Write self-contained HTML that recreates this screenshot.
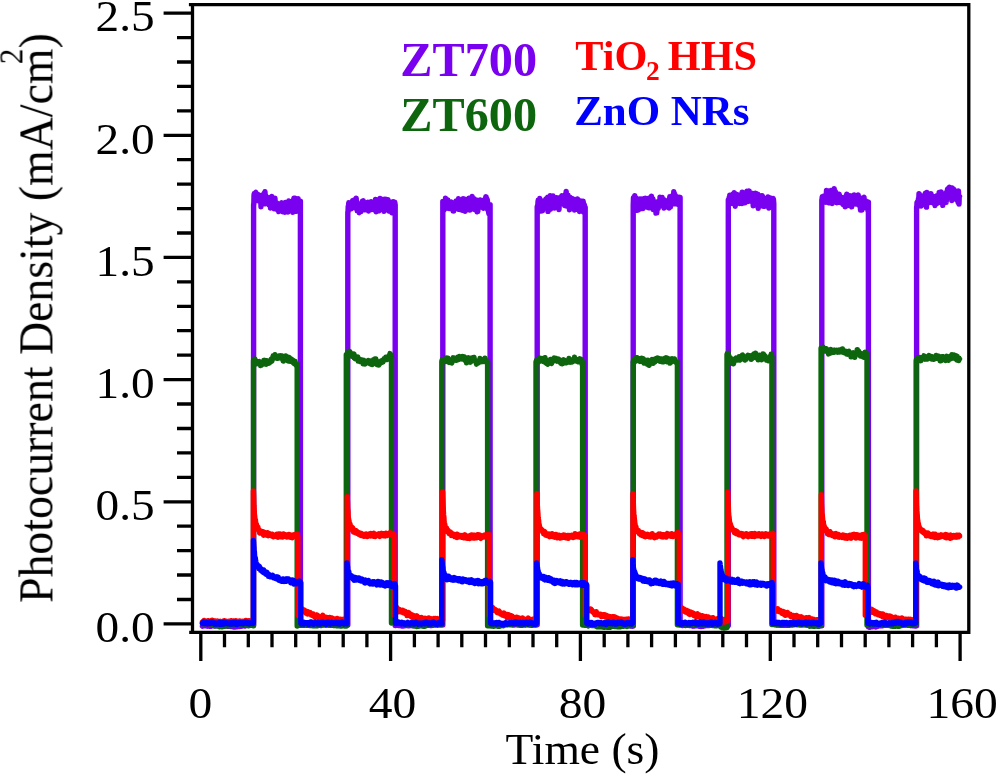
<!DOCTYPE html>
<html><head><meta charset="utf-8"><title>Photocurrent Density</title>
<style>
html,body{margin:0;padding:0;background:#fff;}
svg{display:block;}
text{font-family:"Liberation Serif","Times New Roman",serif;}
</style></head><body>
<svg width="998" height="775" viewBox="0 0 998 775">
<defs><filter id="soft" x="0" y="0" width="998" height="775" filterUnits="userSpaceOnUse"><feGaussianBlur stdDeviation="0.6"/></filter></defs>
<rect width="998" height="775" fill="#fff"/>
<g filter="url(#soft)">
<g fill="none" stroke-linejoin="round" stroke-linecap="round" stroke-width="5.4">
<path stroke="#7a00f0" d="M202.5 626.2L203.0 625.7L203.5 625.8L204.0 625.8L204.5 625.9L205.0 625.8L205.5 625.8L206.0 625.9L206.5 625.9L207.0 626.1L207.5 626.2L208.0 626.1L208.5 626.1L209.0 626.2L209.5 626.1L210.0 626.1L210.5 626.4L211.0 626.2L211.5 625.9L212.0 625.9L212.5 625.8L213.0 625.6L213.5 625.6L214.0 625.8L214.5 625.9L215.0 625.8L215.5 625.8L216.0 625.8L216.5 625.7L217.0 625.5L217.5 625.4L218.0 625.8L218.5 625.8L219.0 625.5L219.5 625.5L220.0 625.8L220.5 626.0L221.0 625.9L221.5 625.9L222.0 625.8L222.5 625.7L223.0 625.9L223.5 625.9L224.0 625.8L224.5 626.0L225.0 626.1L225.5 625.8L226.0 625.8L226.5 626.0L227.0 626.1L227.5 626.2L228.0 626.4L228.5 626.3L229.0 626.4L229.5 626.3L230.0 626.2L230.5 626.4L231.0 626.6L231.5 626.5L232.0 626.6L232.5 626.7L233.0 626.7L233.5 626.8L234.0 627.1L234.5 627.1L235.0 627.1L235.5 626.9L236.0 626.8L236.5 626.8L237.0 626.7L237.5 626.7L238.0 626.6L238.5 626.5L239.0 626.4L239.5 626.5L240.0 626.3L240.5 626.3L241.0 626.2L241.5 626.2L242.0 626.1L242.5 625.8L243.0 625.8L243.5 625.8L244.0 625.6L244.5 625.8L245.0 626.0L245.5 625.8L246.0 625.5L246.5 625.4L247.0 625.3L247.5 625.2L248.0 625.2L248.5 625.1L249.0 624.9L249.5 625.0L250.0 624.7L250.5 624.8L251.0 625.0L251.5 624.8L252.0 624.9L252.5 624.8L253.0 624.9L253.5 625.0L253.6 625.0L253.6 204.5L253.8 204.5L254.0 195.5L254.2 193.7L254.5 200.9L254.8 194.8L255.0 198.0L255.2 199.8L255.5 192.6L255.8 192.3L256.0 200.2L256.2 199.2L256.5 198.9L256.8 199.5L257.0 196.9L257.2 195.6L257.5 199.9L257.8 197.3L258.0 194.5L258.2 200.7L258.5 198.8L258.8 200.0L259.0 195.6L259.2 196.7L259.5 195.9L259.8 195.9L260.0 199.3L260.2 195.9L260.5 200.0L260.8 201.0L261.0 206.7L261.2 195.5L261.5 202.8L261.8 199.0L262.0 199.7L262.2 196.1L262.5 200.0L262.8 203.4L263.0 199.9L263.2 199.9L263.5 198.8L263.8 203.4L264.0 199.5L264.2 193.2L264.5 197.2L264.8 193.3L265.0 191.8L265.2 197.5L265.5 203.9L265.8 200.0L266.0 195.9L266.2 197.1L266.5 203.1L266.8 200.6L267.0 201.0L267.2 200.5L267.5 200.4L267.8 202.7L268.0 202.6L268.2 202.3L268.5 198.4L268.8 202.8L269.0 199.6L269.2 204.9L269.5 197.6L269.8 201.3L270.0 202.0L270.2 198.2L270.5 208.0L270.8 206.7L271.0 201.0L271.2 205.3L271.5 204.4L271.8 196.5L272.0 205.0L272.2 203.9L272.5 204.5L272.8 201.4L273.0 203.4L273.2 202.8L273.5 207.7L273.8 205.4L274.0 204.2L274.2 208.7L274.5 202.0L274.8 203.0L275.0 198.3L275.2 208.6L275.5 207.1L275.8 207.3L276.0 206.5L276.2 204.4L276.5 204.3L276.8 203.0L277.0 204.0L277.2 205.2L277.5 209.8L277.8 207.4L278.0 205.7L278.2 204.2L278.5 204.4L278.8 211.6L279.0 208.3L279.2 207.7L279.5 206.4L279.8 204.2L280.0 207.4L280.2 210.5L280.5 206.7L280.8 207.9L281.0 207.8L281.2 208.5L281.5 202.6L281.8 206.7L282.0 205.0L282.2 210.0L282.5 204.9L282.8 209.3L283.0 211.9L283.2 206.0L283.5 204.5L283.8 207.5L284.0 207.0L284.2 203.6L284.5 207.2L284.8 212.2L285.0 205.3L285.2 205.1L285.5 202.4L285.8 207.3L286.0 202.8L286.2 202.8L286.5 210.6L286.8 203.7L287.0 210.2L287.2 211.3L287.5 206.9L287.8 207.7L288.0 212.0L288.2 205.5L288.5 204.0L288.8 201.0L289.0 205.3L289.2 210.5L289.5 209.9L289.8 203.4L290.0 203.9L290.2 205.3L290.5 207.7L290.8 206.4L291.0 208.2L291.2 209.1L291.5 206.8L291.8 207.2L292.0 207.6L292.2 206.5L292.5 208.2L292.8 212.3L293.0 207.9L293.2 205.5L293.5 199.5L293.8 204.9L294.0 198.2L294.2 199.7L294.5 206.7L294.8 206.2L295.0 204.1L295.2 198.3L295.5 203.1L295.8 202.6L296.0 206.3L296.2 211.3L296.5 204.0L296.8 201.5L297.0 200.5L297.2 203.8L297.5 202.8L297.8 199.7L298.0 203.6L298.2 198.8L298.5 205.9L298.8 205.9L299.0 206.9L299.2 201.7L299.5 204.3L299.8 201.8L300.0 201.2L300.2 201.3L300.4 201.3L300.4 625.3L300.5 625.3L301.0 625.4L301.5 625.4L302.0 625.4L302.5 625.2L303.0 625.1L303.5 625.1L304.0 625.2L304.5 625.1L305.0 625.2L305.5 625.1L306.0 625.1L306.5 625.2L307.0 625.2L307.5 624.9L308.0 624.9L308.5 625.0L309.0 624.9L309.5 625.0L310.0 624.9L310.5 625.0L311.0 624.9L311.5 624.8L312.0 624.6L312.5 624.6L313.0 624.5L313.5 624.2L314.0 624.3L314.5 624.6L315.0 624.4L315.5 624.4L316.0 624.4L316.5 624.3L317.0 624.2L317.5 624.4L318.0 624.4L318.5 624.4L319.0 624.4L319.5 624.3L320.0 624.1L320.5 624.2L321.0 624.4L321.5 624.1L322.0 624.0L322.5 624.4L323.0 624.7L323.5 624.6L324.0 624.7L324.5 624.8L325.0 624.9L325.5 624.7L326.0 624.6L326.5 624.8L327.0 624.8L327.5 624.7L328.0 624.8L328.5 625.0L329.0 625.1L329.5 625.0L330.0 625.2L330.5 625.3L331.0 625.2L331.5 625.2L332.0 625.2L332.5 625.2L333.0 625.1L333.5 625.0L334.0 625.0L334.5 624.9L335.0 624.9L335.5 624.9L336.0 624.7L336.5 624.8L337.0 625.1L337.5 624.8L338.0 624.8L338.5 624.8L339.0 624.7L339.5 624.7L340.0 624.7L340.5 624.8L341.0 625.0L341.5 625.0L342.0 624.9L342.5 624.8L343.0 624.7L343.5 624.7L344.0 624.5L344.5 624.6L345.0 624.7L345.5 624.5L346.0 624.8L346.5 624.8L347.0 625.1L347.5 625.0L347.8 625.0L347.8 212.2L348.0 212.2L348.2 206.5L348.5 205.9L348.8 202.7L349.0 204.1L349.2 208.3L349.5 207.9L349.8 206.7L350.0 209.2L350.2 203.6L350.5 206.0L350.8 208.3L351.0 207.4L351.2 208.9L351.5 206.5L351.8 203.5L352.0 205.8L352.2 202.0L352.5 200.8L352.8 207.9L353.0 206.0L353.2 207.4L353.5 201.5L353.8 205.4L354.0 204.0L354.2 204.0L354.5 199.7L354.8 205.2L355.0 207.8L355.2 206.5L355.5 203.3L355.8 205.8L356.0 207.9L356.2 198.2L356.5 206.0L356.8 207.0L357.0 207.8L357.2 210.9L357.5 209.7L357.8 207.3L358.0 207.7L358.2 209.2L358.5 204.3L358.8 206.0L359.0 209.2L359.2 212.7L359.5 206.5L359.8 206.8L360.0 207.6L360.2 210.7L360.5 207.2L360.8 211.6L361.0 203.4L361.2 206.3L361.5 206.0L361.8 209.6L362.0 209.6L362.2 201.4L362.5 203.4L362.8 207.2L363.0 203.6L363.2 200.7L363.5 209.9L363.8 208.3L364.0 208.4L364.2 205.5L364.5 209.8L364.8 206.0L365.0 209.8L365.2 203.6L365.5 204.3L365.8 207.9L366.0 204.1L366.2 208.5L366.5 206.4L366.8 202.6L367.0 205.2L367.2 202.9L367.5 207.0L367.8 202.3L368.0 202.7L368.2 207.4L368.5 211.1L368.8 210.5L369.0 204.1L369.2 205.2L369.5 210.0L369.8 205.3L370.0 202.4L370.2 206.7L370.5 207.8L370.8 204.6L371.0 201.6L371.2 201.8L371.5 209.5L371.8 205.2L372.0 206.3L372.2 206.6L372.5 208.3L372.8 205.1L373.0 208.5L373.2 203.8L373.5 205.7L373.8 203.1L374.0 209.7L374.2 206.3L374.5 204.0L374.8 204.9L375.0 205.0L375.2 207.6L375.5 199.5L375.8 201.4L376.0 203.2L376.2 211.7L376.5 207.9L376.8 204.5L377.0 206.5L377.2 211.2L377.5 204.4L377.8 203.1L378.0 208.2L378.2 206.5L378.5 206.9L378.8 203.0L379.0 210.5L379.2 210.6L379.5 207.4L379.8 207.8L380.0 198.5L380.2 207.5L380.5 204.7L380.8 206.7L381.0 207.6L381.2 204.7L381.5 199.9L381.8 206.6L382.0 202.8L382.2 204.8L382.5 205.2L382.8 205.3L383.0 199.4L383.2 209.8L383.5 206.4L383.8 208.7L384.0 211.4L384.2 204.4L384.5 199.1L384.8 201.8L385.0 200.3L385.2 202.3L385.5 204.9L385.8 199.2L386.0 206.7L386.2 200.3L386.5 206.3L386.8 204.9L387.0 203.8L387.2 204.6L387.5 203.4L387.8 204.1L388.0 199.7L388.2 204.4L388.5 210.1L388.8 210.9L389.0 209.4L389.2 207.2L389.5 202.8L389.8 209.1L390.0 205.0L390.2 204.5L390.5 203.8L390.8 205.3L391.0 204.0L391.2 205.0L391.5 202.3L391.8 204.6L392.0 212.7L392.2 205.1L392.5 203.5L392.8 205.9L393.0 206.7L393.2 201.6L393.5 204.2L393.8 207.7L394.0 205.8L394.2 205.4L394.5 209.9L394.8 202.2L395.0 204.7L395.2 204.7L395.2 625.5L395.5 625.5L396.0 625.4L396.5 625.4L397.0 625.3L397.5 625.3L398.0 625.4L398.5 625.5L399.0 625.5L399.5 625.5L400.0 625.5L400.5 625.6L401.0 625.7L401.5 626.0L402.0 625.9L402.5 625.8L403.0 626.0L403.5 625.8L404.0 625.7L404.5 625.8L405.0 625.8L405.5 625.5L406.0 625.6L406.5 625.5L407.0 625.4L407.5 625.4L408.0 625.6L408.5 625.9L409.0 625.7L409.5 625.6L410.0 625.5L410.5 625.4L411.0 625.4L411.5 625.6L412.0 625.6L412.5 625.7L413.0 625.6L413.5 625.2L414.0 625.2L414.5 625.2L415.0 625.3L415.5 625.0L416.0 625.2L416.5 625.1L417.0 625.0L417.5 625.2L418.0 625.0L418.5 625.0L419.0 625.3L419.5 625.0L420.0 625.2L420.5 625.0L421.0 624.8L421.5 624.8L422.0 625.0L422.5 625.0L423.0 625.0L423.5 625.1L424.0 625.1L424.5 625.1L425.0 625.2L425.5 625.3L426.0 625.2L426.5 625.3L427.0 625.2L427.5 625.2L428.0 625.1L428.5 625.4L429.0 625.4L429.5 625.4L430.0 625.4L430.5 625.6L431.0 625.5L431.5 625.5L432.0 625.4L432.5 625.2L433.0 625.2L433.5 625.2L434.0 624.9L434.5 625.1L435.0 624.9L435.5 625.0L436.0 624.9L436.5 625.1L437.0 625.2L437.5 625.2L438.0 625.0L438.5 624.9L439.0 625.1L439.5 625.1L440.0 625.1L440.5 625.0L441.0 624.9L441.5 624.8L442.0 625.1L442.5 624.9L442.8 624.9L442.8 201.5L443.0 201.5L443.2 204.5L443.5 209.8L443.8 210.0L444.0 210.1L444.2 206.5L444.5 207.8L444.8 208.3L445.0 205.2L445.2 208.4L445.5 198.3L445.8 207.0L446.0 202.0L446.2 208.2L446.5 203.7L446.8 202.3L447.0 205.6L447.2 201.6L447.5 202.3L447.8 200.0L448.0 204.8L448.2 206.5L448.5 208.1L448.8 204.5L449.0 208.5L449.2 205.5L449.5 205.3L449.8 207.3L450.0 208.4L450.2 205.2L450.5 205.8L450.8 206.1L451.0 205.8L451.2 202.0L451.5 208.6L451.8 203.8L452.0 206.7L452.2 202.6L452.5 206.8L452.8 206.6L453.0 203.7L453.2 210.8L453.5 206.4L453.8 211.0L454.0 209.0L454.2 204.5L454.5 205.8L454.8 207.6L455.0 206.2L455.2 206.2L455.5 205.7L455.8 201.4L456.0 206.7L456.2 200.9L456.5 207.9L456.8 204.4L457.0 203.9L457.2 206.2L457.5 207.0L457.8 201.5L458.0 200.0L458.2 201.8L458.5 198.7L458.8 201.0L459.0 209.4L459.2 201.2L459.5 207.5L459.8 201.0L460.0 206.3L460.2 204.7L460.5 204.9L460.8 206.7L461.0 209.8L461.2 205.0L461.5 204.7L461.8 201.4L462.0 206.4L462.2 204.5L462.5 207.5L462.8 205.0L463.0 210.3L463.2 198.8L463.5 204.1L463.8 207.9L464.0 204.5L464.2 202.5L464.5 203.2L464.8 199.3L465.0 204.2L465.2 211.2L465.5 207.4L465.8 199.9L466.0 201.2L466.2 202.4L466.5 206.0L466.8 200.9L467.0 201.5L467.2 206.6L467.5 206.5L467.8 202.4L468.0 200.3L468.2 199.5L468.5 202.2L468.8 198.2L469.0 207.3L469.2 202.4L469.5 206.2L469.8 210.1L470.0 208.5L470.2 201.3L470.5 207.7L470.8 208.2L471.0 201.7L471.2 200.6L471.5 203.1L471.8 198.9L472.0 208.1L472.2 196.5L472.5 200.8L472.8 203.1L473.0 203.8L473.2 204.9L473.5 205.2L473.8 204.1L474.0 209.2L474.2 198.8L474.5 205.6L474.8 203.9L475.0 206.2L475.2 206.6L475.5 203.0L475.8 203.6L476.0 208.3L476.2 206.8L476.5 203.3L476.8 211.1L477.0 211.8L477.2 200.2L477.5 205.8L477.8 211.6L478.0 207.0L478.2 205.3L478.5 203.6L478.8 202.5L479.0 203.2L479.2 202.5L479.5 205.9L479.8 202.1L480.0 201.8L480.2 199.9L480.5 203.0L480.8 200.5L481.0 202.7L481.2 207.1L481.5 205.5L481.8 205.0L482.0 205.3L482.2 204.5L482.5 204.0L482.8 203.3L483.0 207.0L483.2 200.2L483.5 208.2L483.8 204.1L484.0 200.9L484.2 202.1L484.5 201.5L484.8 203.9L485.0 201.2L485.2 207.1L485.5 201.2L485.8 196.8L486.0 200.8L486.2 197.0L486.5 203.6L486.8 206.9L487.0 205.6L487.2 199.4L487.5 201.5L487.8 209.7L488.0 205.4L488.2 205.2L488.5 209.5L488.8 213.6L489.0 209.4L489.2 206.6L489.5 207.6L489.8 208.6L490.0 204.6L490.1 204.6L490.1 624.3L490.5 624.3L491.0 624.4L491.5 624.2L492.0 623.9L492.5 623.8L493.0 623.6L493.5 623.5L494.0 623.5L494.5 623.5L495.0 623.5L495.5 623.5L496.0 623.5L496.5 623.6L497.0 623.5L497.5 623.5L498.0 623.4L498.5 623.8L499.0 624.0L499.5 623.9L500.0 623.9L500.5 623.8L501.0 623.6L501.5 623.8L502.0 623.6L502.5 623.5L503.0 623.4L503.5 623.5L504.0 623.6L504.5 623.8L505.0 623.8L505.5 623.9L506.0 624.0L506.5 624.1L507.0 624.3L507.5 624.3L508.0 624.6L508.5 624.6L509.0 624.5L509.5 624.7L510.0 624.8L510.5 624.8L511.0 624.9L511.5 624.9L512.0 624.9L512.5 625.0L513.0 624.9L513.5 624.8L514.0 625.0L514.5 624.8L515.0 624.6L515.5 624.7L516.0 624.8L516.5 624.7L517.0 624.6L517.5 624.8L518.0 625.0L518.5 625.0L519.0 625.1L519.5 625.2L520.0 625.3L520.5 625.3L521.0 625.3L521.5 625.1L522.0 625.1L522.5 625.2L523.0 625.0L523.5 624.9L524.0 624.7L524.5 624.7L525.0 624.8L525.5 625.0L526.0 624.8L526.5 624.6L527.0 624.8L527.5 624.9L528.0 624.9L528.5 624.8L529.0 624.6L529.5 624.9L530.0 625.1L530.5 624.9L531.0 625.0L531.5 625.0L532.0 625.2L532.5 625.2L533.0 625.0L533.5 625.0L534.0 625.1L534.5 625.0L535.0 624.7L535.5 624.6L536.0 624.5L536.5 624.7L537.0 624.7L537.2 624.7L537.2 207.1L537.2 207.1L537.5 205.5L537.8 205.6L538.0 202.0L538.2 200.3L538.5 203.8L538.8 201.4L539.0 200.1L539.2 199.8L539.5 202.4L539.8 198.5L540.0 200.3L540.2 200.2L540.5 205.4L540.8 206.2L541.0 211.1L541.2 200.6L541.5 203.0L541.8 208.4L542.0 205.4L542.2 204.9L542.5 210.9L542.8 204.5L543.0 202.7L543.2 201.5L543.5 207.3L543.8 207.4L544.0 201.6L544.2 203.1L544.5 207.3L544.8 207.3L545.0 203.3L545.2 207.1L545.5 206.1L545.8 199.1L546.0 203.6L546.2 205.7L546.5 203.0L546.8 198.2L547.0 203.9L547.2 206.8L547.5 209.1L547.8 197.2L548.0 211.4L548.2 200.2L548.5 206.8L548.8 207.8L549.0 206.6L549.2 203.8L549.5 199.4L549.8 204.4L550.0 201.1L550.2 195.6L550.5 209.2L550.8 204.2L551.0 207.7L551.2 199.5L551.5 207.3L551.8 207.6L552.0 207.7L552.2 203.3L552.5 199.4L552.8 202.7L553.0 196.0L553.2 197.1L553.5 203.5L553.8 199.9L554.0 202.1L554.2 202.0L554.5 208.1L554.8 206.3L555.0 202.7L555.2 207.5L555.5 200.9L555.8 202.4L556.0 205.7L556.2 198.4L556.5 201.5L556.8 197.7L557.0 201.9L557.2 206.5L557.5 198.8L557.8 202.4L558.0 199.0L558.2 198.3L558.5 198.1L558.8 206.9L559.0 209.6L559.2 203.8L559.5 200.1L559.8 204.6L560.0 200.9L560.2 203.8L560.5 202.2L560.8 202.8L561.0 202.8L561.2 199.2L561.5 199.8L561.8 195.6L562.0 199.5L562.2 196.3L562.5 200.6L562.8 198.6L563.0 201.1L563.2 201.6L563.5 196.3L563.8 198.5L564.0 197.6L564.2 202.7L564.5 205.5L564.8 202.5L565.0 198.5L565.2 203.3L565.5 194.2L565.8 203.2L566.0 196.4L566.2 191.4L566.5 206.0L566.8 203.8L567.0 195.8L567.2 199.8L567.5 198.5L567.8 199.9L568.0 194.9L568.2 198.3L568.5 202.0L568.8 202.0L569.0 205.4L569.2 202.0L569.5 209.7L569.8 200.3L570.0 204.0L570.2 197.4L570.5 199.3L570.8 207.0L571.0 200.0L571.2 203.9L571.5 202.1L571.8 198.4L572.0 201.1L572.2 200.9L572.5 200.6L572.8 203.9L573.0 203.8L573.2 199.3L573.5 199.2L573.8 203.0L574.0 201.3L574.2 205.9L574.5 210.0L574.8 205.2L575.0 202.8L575.2 202.5L575.5 200.4L575.8 200.6L576.0 199.7L576.2 201.2L576.5 201.0L576.8 203.9L577.0 201.5L577.2 202.7L577.5 199.0L577.8 209.0L578.0 205.2L578.2 209.5L578.5 206.3L578.8 208.8L579.0 203.9L579.2 207.7L579.5 211.5L579.8 200.8L580.0 208.7L580.2 209.6L580.5 205.1L580.8 206.1L581.0 207.7L581.2 202.1L581.5 205.3L581.8 201.3L582.0 202.2L582.2 202.0L582.5 203.2L582.8 205.2L583.0 206.6L583.2 201.3L583.5 211.8L583.8 208.8L584.0 207.7L584.2 204.5L584.5 205.6L584.8 207.3L585.0 207.4L585.2 207.4L585.2 624.9L585.5 624.9L586.0 624.9L586.5 624.8L587.0 624.8L587.5 624.6L588.0 624.4L588.5 624.5L589.0 624.4L589.5 624.4L590.0 624.4L590.5 624.3L591.0 624.2L591.5 624.4L592.0 624.2L592.5 624.3L593.0 624.5L593.5 624.6L594.0 624.6L594.5 625.0L595.0 625.3L595.5 625.3L596.0 625.2L596.5 625.3L597.0 625.2L597.5 625.2L598.0 625.0L598.5 624.9L599.0 625.0L599.5 624.9L600.0 624.8L600.5 624.9L601.0 624.8L601.5 625.0L602.0 624.9L602.5 624.9L603.0 625.2L603.5 625.2L604.0 625.6L604.5 625.6L605.0 625.7L605.5 625.7L606.0 625.7L606.5 625.3L607.0 625.2L607.5 625.3L608.0 625.1L608.5 625.0L609.0 625.0L609.5 625.0L610.0 624.5L610.5 624.6L611.0 624.6L611.5 624.4L612.0 624.5L612.5 624.3L613.0 624.4L613.5 624.4L614.0 624.0L614.5 624.2L615.0 624.1L615.5 624.0L616.0 623.9L616.5 624.0L617.0 624.0L617.5 624.0L618.0 623.7L618.5 623.7L619.0 623.6L619.5 623.6L620.0 623.6L620.5 623.6L621.0 623.9L621.5 624.1L622.0 624.2L622.5 624.1L623.0 624.2L623.5 624.4L624.0 624.5L624.5 624.3L625.0 624.4L625.5 624.5L626.0 624.7L626.5 625.1L627.0 625.1L627.5 625.2L628.0 625.4L628.5 625.4L629.0 625.6L629.5 625.7L630.0 625.9L630.5 626.0L631.0 626.1L631.5 626.0L632.0 626.0L632.5 626.2L633.0 626.1L633.2 626.1L633.2 205.3L633.2 205.3L633.5 197.7L633.8 203.1L634.0 204.6L634.2 201.0L634.5 203.3L634.8 195.7L635.0 205.1L635.2 201.8L635.5 206.2L635.8 197.6L636.0 204.8L636.2 202.8L636.5 206.5L636.8 201.4L637.0 202.2L637.2 210.4L637.5 201.5L637.8 201.4L638.0 202.8L638.2 201.0L638.5 208.8L638.8 209.7L639.0 202.4L639.2 199.0L639.5 208.4L639.8 208.0L640.0 206.4L640.2 207.8L640.5 201.2L640.8 203.3L641.0 199.0L641.2 199.4L641.5 206.5L641.8 200.3L642.0 208.6L642.2 202.3L642.5 200.4L642.8 205.3L643.0 208.5L643.2 204.3L643.5 198.7L643.8 202.0L644.0 205.1L644.2 199.7L644.5 199.2L644.8 204.5L645.0 201.9L645.2 198.2L645.5 200.2L645.8 198.5L646.0 202.1L646.2 203.5L646.5 207.0L646.8 205.5L647.0 198.8L647.2 205.7L647.5 206.7L647.8 205.1L648.0 207.3L648.2 203.1L648.5 202.7L648.8 207.8L649.0 201.5L649.2 198.0L649.5 207.8L649.8 201.6L650.0 203.4L650.2 199.2L650.5 199.1L650.8 199.6L651.0 201.8L651.2 204.5L651.5 196.2L651.8 206.1L652.0 199.4L652.2 200.4L652.5 206.0L652.8 203.8L653.0 199.0L653.2 209.5L653.5 200.8L653.8 204.1L654.0 204.5L654.2 209.0L654.5 204.5L654.8 208.7L655.0 203.3L655.2 209.4L655.5 204.2L655.8 205.4L656.0 213.1L656.2 207.8L656.5 206.4L656.8 212.9L657.0 206.9L657.2 202.8L657.5 208.1L657.8 201.8L658.0 208.6L658.2 208.5L658.5 203.3L658.8 203.2L659.0 205.7L659.2 204.3L659.5 200.9L659.8 206.0L660.0 197.2L660.2 202.5L660.5 201.6L660.8 202.2L661.0 204.5L661.2 198.8L661.5 204.2L661.8 202.1L662.0 200.1L662.2 197.5L662.5 198.8L662.8 203.6L663.0 199.8L663.2 203.0L663.5 206.2L663.8 206.2L664.0 208.1L664.2 202.6L664.5 199.9L664.8 206.7L665.0 204.3L665.2 207.1L665.5 203.1L665.8 206.7L666.0 206.1L666.2 205.3L666.5 204.7L666.8 204.2L667.0 203.4L667.2 202.9L667.5 205.7L667.8 200.7L668.0 206.8L668.2 201.0L668.5 203.9L668.8 201.6L669.0 201.1L669.2 208.0L669.5 200.4L669.8 196.7L670.0 197.8L670.2 198.7L670.5 206.9L670.8 200.6L671.0 203.3L671.2 196.2L671.5 200.5L671.8 201.2L672.0 204.3L672.2 197.1L672.5 200.8L672.8 200.6L673.0 195.8L673.2 199.2L673.5 198.4L673.8 191.6L674.0 199.8L674.2 200.3L674.5 197.6L674.8 194.1L675.0 203.9L675.2 199.3L675.5 201.9L675.8 203.4L676.0 196.3L676.2 201.3L676.5 199.1L676.8 200.4L677.0 200.4L677.2 201.1L677.5 204.2L677.8 201.1L678.0 200.5L678.2 199.5L678.5 201.3L678.8 197.1L679.0 198.0L679.2 198.7L679.5 197.7L679.8 198.8L680.0 197.5L680.1 197.5L680.1 625.1L680.5 625.1L681.0 625.2L681.5 625.2L682.0 625.4L682.5 625.6L683.0 625.4L683.5 625.3L684.0 625.4L684.5 625.4L685.0 625.4L685.5 625.6L686.0 625.4L686.5 625.3L687.0 625.3L687.5 625.4L688.0 625.4L688.5 625.4L689.0 625.4L689.5 625.6L690.0 625.5L690.5 625.5L691.0 625.6L691.5 625.6L692.0 625.7L692.5 625.9L693.0 626.2L693.5 626.1L694.0 625.8L694.5 626.1L695.0 625.9L695.5 625.9L696.0 625.8L696.5 625.8L697.0 625.9L697.5 625.7L698.0 625.7L698.5 625.8L699.0 626.2L699.5 626.1L700.0 626.3L700.5 626.4L701.0 626.5L701.5 626.4L702.0 626.4L702.5 626.4L703.0 626.2L703.5 626.2L704.0 625.9L704.5 625.7L705.0 625.8L705.5 625.7L706.0 625.5L706.5 625.5L707.0 625.5L707.5 625.6L708.0 625.3L708.5 625.3L709.0 625.5L709.5 625.3L710.0 625.4L710.5 625.4L711.0 625.3L711.5 625.1L712.0 624.9L712.5 625.0L713.0 625.0L713.5 625.2L714.0 625.0L714.5 625.1L715.0 625.1L715.5 624.7L716.0 624.5L716.5 624.4L717.0 624.4L717.5 624.4L718.0 624.4L718.5 624.3L719.0 624.6L719.5 624.7L720.0 624.9L720.5 624.9L721.0 625.0L721.5 625.0L722.0 624.8L722.5 624.4L723.0 624.5L723.5 624.8L724.0 624.8L724.5 625.0L725.0 625.0L725.5 625.0L726.0 624.9L726.5 625.3L727.0 625.4L727.5 625.5L728.0 625.5L728.3 625.5L728.3 200.0L728.5 200.0L728.8 200.6L729.0 200.5L729.2 197.1L729.5 203.4L729.8 195.1L730.0 203.2L730.2 202.9L730.5 199.5L730.8 198.0L731.0 200.0L731.2 201.9L731.5 203.2L731.8 201.1L732.0 203.2L732.2 197.8L732.5 200.0L732.8 194.3L733.0 201.4L733.2 199.9L733.5 198.2L733.8 202.7L734.0 200.6L734.2 192.6L734.5 199.4L734.8 195.2L735.0 202.3L735.2 206.2L735.5 197.3L735.8 198.4L736.0 196.5L736.2 198.2L736.5 198.7L736.8 200.9L737.0 194.4L737.2 202.9L737.5 196.0L737.8 199.1L738.0 202.1L738.2 201.4L738.5 197.5L738.8 198.2L739.0 198.7L739.2 199.7L739.5 203.5L739.8 195.0L740.0 200.1L740.2 200.6L740.5 199.6L740.8 198.9L741.0 201.5L741.2 198.6L741.5 200.5L741.8 199.5L742.0 203.5L742.2 192.2L742.5 201.6L742.8 197.3L743.0 198.4L743.2 196.7L743.5 194.5L743.8 198.5L744.0 196.3L744.2 199.9L744.5 194.2L744.8 202.9L745.0 199.1L745.2 197.8L745.5 196.0L745.8 195.2L746.0 193.6L746.2 195.2L746.5 196.7L746.8 195.8L747.0 191.3L747.2 195.4L747.5 193.9L747.8 196.1L748.0 201.6L748.2 197.9L748.5 195.0L748.8 191.0L749.0 191.8L749.2 191.0L749.5 198.6L749.8 194.2L750.0 197.1L750.2 195.1L750.5 196.6L750.8 201.0L751.0 195.4L751.2 196.3L751.5 194.8L751.8 200.2L752.0 194.4L752.2 194.6L752.5 193.4L752.8 193.9L753.0 200.2L753.2 205.7L753.5 195.0L753.8 201.0L754.0 198.9L754.2 194.7L754.5 197.2L754.8 197.5L755.0 196.4L755.2 204.7L755.5 193.2L755.8 199.9L756.0 200.2L756.2 197.8L756.5 199.9L756.8 201.8L757.0 200.1L757.2 201.6L757.5 202.8L757.8 194.1L758.0 204.8L758.2 208.4L758.5 205.1L758.8 205.6L759.0 198.6L759.2 202.8L759.5 200.9L759.8 201.2L760.0 205.4L760.2 200.2L760.5 202.0L760.8 195.9L761.0 200.8L761.2 200.8L761.5 198.2L761.8 197.3L762.0 205.3L762.2 195.6L762.5 196.4L762.8 197.2L763.0 203.6L763.2 206.4L763.5 201.7L763.8 198.4L764.0 199.5L764.2 205.3L764.5 198.8L764.8 206.3L765.0 206.0L765.2 202.2L765.5 203.6L765.8 203.8L766.0 205.8L766.2 198.2L766.5 204.4L766.8 199.5L767.0 198.6L767.2 202.3L767.5 201.8L767.8 198.5L768.0 197.0L768.2 199.2L768.5 206.5L768.8 208.1L769.0 204.6L769.2 206.2L769.5 200.3L769.8 200.4L770.0 201.4L770.2 197.9L770.5 198.3L770.8 202.0L771.0 200.9L771.2 198.4L771.5 202.3L771.8 200.3L772.0 204.3L772.2 201.6L772.5 199.8L772.8 201.1L773.0 200.5L773.2 198.5L773.5 199.9L773.8 203.7L773.8 203.7L773.8 624.0L774.0 624.0L774.5 624.3L775.0 624.2L775.5 624.4L776.0 624.5L776.5 624.8L777.0 624.5L777.5 624.5L778.0 624.5L778.5 624.8L779.0 624.9L779.5 625.1L780.0 625.1L780.5 625.3L781.0 625.1L781.5 625.1L782.0 625.1L782.5 625.3L783.0 625.3L783.5 625.3L784.0 625.0L784.5 625.1L785.0 625.3L785.5 625.3L786.0 625.3L786.5 625.3L787.0 625.4L787.5 625.4L788.0 625.4L788.5 625.4L789.0 625.3L789.5 625.0L790.0 625.2L790.5 625.1L791.0 624.9L791.5 624.7L792.0 624.8L792.5 625.0L793.0 624.9L793.5 624.6L794.0 624.5L794.5 624.7L795.0 624.6L795.5 624.4L796.0 624.5L796.5 624.6L797.0 624.4L797.5 624.1L798.0 624.2L798.5 624.1L799.0 624.2L799.5 624.0L800.0 624.1L800.5 624.1L801.0 624.2L801.5 624.4L802.0 624.4L802.5 624.4L803.0 624.4L803.5 624.6L804.0 624.4L804.5 624.6L805.0 624.6L805.5 624.7L806.0 624.7L806.5 625.0L807.0 624.9L807.5 624.8L808.0 625.0L808.5 625.3L809.0 625.4L809.5 625.2L810.0 625.4L810.5 625.3L811.0 625.3L811.5 625.4L812.0 625.4L812.5 625.6L813.0 625.8L813.5 625.9L814.0 625.9L814.5 626.0L815.0 625.9L815.5 625.9L816.0 625.9L816.5 625.6L817.0 625.6L817.5 625.7L818.0 625.8L818.5 625.8L819.0 625.9L819.5 625.9L820.0 625.9L820.5 625.8L821.0 625.8L821.5 625.8L821.8 625.8L821.8 200.0L822.0 200.0L822.2 196.8L822.5 197.2L822.8 197.6L823.0 199.5L823.2 196.3L823.5 201.1L823.8 199.1L824.0 197.4L824.2 197.9L824.5 199.3L824.8 201.5L825.0 200.8L825.2 199.4L825.5 201.3L825.8 199.2L826.0 202.4L826.2 197.2L826.5 190.5L826.8 200.1L827.0 195.4L827.2 191.5L827.5 194.9L827.8 192.8L828.0 202.1L828.2 197.2L828.5 191.2L828.8 198.8L829.0 195.8L829.2 202.9L829.5 194.4L829.8 190.9L830.0 198.0L830.2 196.0L830.5 195.4L830.8 190.4L831.0 198.2L831.2 201.9L831.5 191.3L831.8 200.9L832.0 195.4L832.2 203.5L832.5 196.9L832.8 194.6L833.0 199.2L833.2 196.7L833.5 193.3L833.8 197.1L834.0 192.8L834.2 188.6L834.5 201.1L834.8 194.8L835.0 193.8L835.2 197.0L835.5 191.6L835.8 192.9L836.0 195.9L836.2 196.7L836.5 199.1L836.8 202.9L837.0 198.2L837.2 200.9L837.5 201.0L837.8 196.0L838.0 199.9L838.2 196.2L838.5 202.3L838.8 200.6L839.0 198.4L839.2 194.1L839.5 198.1L839.8 195.7L840.0 201.1L840.2 198.8L840.5 197.1L840.8 202.7L841.0 201.9L841.2 197.4L841.5 202.7L841.8 198.6L842.0 199.7L842.2 200.6L842.5 197.7L842.8 198.6L843.0 199.4L843.2 204.5L843.5 203.4L843.8 197.8L844.0 204.0L844.2 199.3L844.5 200.2L844.8 202.3L845.0 200.7L845.2 206.7L845.5 200.3L845.8 196.1L846.0 204.7L846.2 200.0L846.5 200.3L846.8 194.2L847.0 204.3L847.2 203.3L847.5 202.3L847.8 203.7L848.0 205.5L848.2 199.9L848.5 202.7L848.8 197.1L849.0 197.3L849.2 201.5L849.5 200.1L849.8 195.7L850.0 201.5L850.2 199.5L850.5 197.9L850.8 201.6L851.0 199.8L851.2 195.9L851.5 197.9L851.8 206.8L852.0 196.6L852.2 201.8L852.5 202.7L852.8 202.2L853.0 196.3L853.2 198.7L853.5 199.9L853.8 202.0L854.0 197.2L854.2 195.0L854.5 202.5L854.8 202.9L855.0 201.0L855.2 198.4L855.5 201.0L855.8 200.9L856.0 204.1L856.2 197.3L856.5 201.5L856.8 200.4L857.0 196.1L857.2 200.7L857.5 199.4L857.8 197.9L858.0 200.8L858.2 194.9L858.5 199.3L858.8 202.8L859.0 202.5L859.2 205.2L859.5 198.6L859.8 197.9L860.0 203.8L860.2 204.8L860.5 210.0L860.8 206.0L861.0 201.2L861.2 205.9L861.5 200.6L861.8 198.3L862.0 210.0L862.2 204.4L862.5 205.0L862.8 203.7L863.0 207.5L863.2 202.3L863.5 205.1L863.8 197.3L864.0 197.2L864.2 206.1L864.5 206.1L864.8 202.9L865.0 201.9L865.2 203.1L865.5 200.7L865.8 207.6L866.0 206.0L866.2 206.9L866.5 206.5L866.8 207.8L867.0 206.4L867.2 207.4L867.5 201.8L867.8 205.8L868.0 210.7L868.2 202.1L868.4 202.1L868.4 626.8L868.5 626.8L869.0 627.2L869.5 627.2L870.0 627.2L870.5 627.0L871.0 626.9L871.5 626.9L872.0 626.9L872.5 626.8L873.0 626.5L873.5 626.5L874.0 626.4L874.5 626.5L875.0 626.7L875.5 627.0L876.0 626.9L876.5 626.7L877.0 626.3L877.5 626.4L878.0 626.1L878.5 625.9L879.0 625.8L879.5 625.5L880.0 625.6L880.5 625.8L881.0 625.8L881.5 625.8L882.0 625.7L882.5 625.7L883.0 625.5L883.5 625.2L884.0 625.2L884.5 625.2L885.0 625.2L885.5 625.2L886.0 625.3L886.5 625.2L887.0 625.0L887.5 625.0L888.0 625.3L888.5 625.2L889.0 625.3L889.5 625.3L890.0 625.2L890.5 624.9L891.0 625.1L891.5 625.1L892.0 625.4L892.5 625.1L893.0 625.1L893.5 625.0L894.0 625.1L894.5 625.1L895.0 624.7L895.5 624.4L896.0 624.4L896.5 624.6L897.0 624.8L897.5 624.5L898.0 624.4L898.5 624.6L899.0 624.5L899.5 624.4L900.0 624.6L900.5 624.5L901.0 624.6L901.5 624.8L902.0 624.9L902.5 624.7L903.0 624.8L903.5 625.1L904.0 625.2L904.5 625.1L905.0 624.9L905.5 625.0L906.0 624.8L906.5 624.7L907.0 624.7L907.5 624.9L908.0 625.1L908.5 625.2L909.0 625.1L909.5 625.3L910.0 625.4L910.5 625.6L911.0 625.7L911.5 625.6L912.0 625.5L912.5 625.6L913.0 625.8L913.5 625.8L914.0 625.8L914.5 625.9L915.0 625.8L915.5 626.1L916.0 625.8L916.5 625.8L916.6 625.8L916.6 207.2L916.8 207.2L917.0 202.7L917.2 202.1L917.5 206.2L917.8 204.6L918.0 201.2L918.2 202.5L918.5 198.3L918.8 198.9L919.0 193.7L919.2 204.4L919.5 194.3L919.8 202.6L920.0 198.0L920.2 197.6L920.5 199.7L920.8 201.6L921.0 202.6L921.2 206.0L921.5 201.6L921.8 203.3L922.0 199.2L922.2 202.7L922.5 200.1L922.8 198.0L923.0 198.6L923.2 198.7L923.5 200.1L923.8 201.6L924.0 198.6L924.2 197.8L924.5 202.2L924.8 194.5L925.0 197.8L925.2 204.7L925.5 193.3L925.8 198.3L926.0 202.7L926.2 194.7L926.5 207.1L926.8 192.5L927.0 203.8L927.2 204.0L927.5 202.5L927.8 198.4L928.0 200.0L928.2 196.2L928.5 201.0L928.8 195.1L929.0 197.4L929.2 201.2L929.5 195.1L929.8 197.6L930.0 199.0L930.2 195.1L930.5 202.4L930.8 198.8L931.0 193.7L931.2 198.4L931.5 196.1L931.8 196.9L932.0 199.1L932.2 197.0L932.5 202.5L932.8 197.3L933.0 202.7L933.2 200.4L933.5 203.2L933.8 199.2L934.0 199.2L934.2 196.6L934.5 201.6L934.8 202.6L935.0 205.6L935.2 203.0L935.5 199.9L935.8 198.2L936.0 199.5L936.2 197.9L936.5 202.3L936.8 201.5L937.0 195.8L937.2 196.2L937.5 203.3L937.8 200.3L938.0 198.3L938.2 202.9L938.5 198.6L938.8 198.3L939.0 198.0L939.2 192.4L939.5 201.1L939.8 194.8L940.0 196.3L940.2 194.4L940.5 200.2L940.8 197.2L941.0 196.6L941.2 192.0L941.5 196.9L941.8 193.6L942.0 199.2L942.2 199.6L942.5 198.6L942.8 205.4L943.0 199.9L943.2 200.4L943.5 199.9L943.8 198.4L944.0 201.7L944.2 201.1L944.5 194.1L944.8 201.2L945.0 199.5L945.2 200.1L945.5 198.8L945.8 193.3L946.0 193.1L946.2 202.4L946.5 196.7L946.8 191.4L947.0 196.5L947.2 194.0L947.5 189.3L947.8 188.7L948.0 190.8L948.2 196.8L948.5 195.5L948.8 193.9L949.0 195.5L949.2 196.0L949.5 187.3L949.8 193.6L950.0 191.5L950.2 189.8L950.5 191.8L950.8 192.8L951.0 192.6L951.2 189.1L951.5 192.0L951.8 200.5L952.0 190.1L952.2 187.9L952.5 193.5L952.8 194.3L953.0 193.7L953.2 189.0L953.5 194.9L953.8 190.0L954.0 189.5L954.2 190.6L954.5 192.7L954.8 195.5L955.0 195.6L955.2 193.3L955.5 196.4L955.8 194.2L956.0 198.0L956.2 191.6L956.5 192.1L956.8 199.9L957.0 193.8L957.2 196.8L957.5 198.1L957.8 196.4L958.0 196.8L958.2 202.5L958.5 191.0L958.8 200.4L959.0 204.1L959.2 196.9L959.5 196.5"/>
<path stroke="#0b650b" d="M202.5 623.5L203.0 623.8L203.5 623.9L204.0 624.0L204.5 623.9L205.0 623.6L205.5 623.3L206.0 623.2L206.5 623.4L207.0 623.1L207.5 623.5L208.0 623.2L208.5 623.8L209.0 623.9L209.5 624.0L210.0 624.3L210.5 624.7L211.0 624.9L211.5 625.2L212.0 625.2L212.5 625.4L213.0 625.4L213.5 625.3L214.0 625.6L214.5 625.8L215.0 626.0L215.5 625.7L216.0 625.4L216.5 625.7L217.0 625.8L217.5 625.6L218.0 625.6L218.5 625.7L219.0 626.3L219.5 626.8L220.0 626.6L220.5 626.5L221.0 626.2L221.5 626.0L222.0 626.7L222.5 626.5L223.0 626.5L223.5 626.4L224.0 626.2L224.5 626.1L225.0 625.8L225.5 625.7L226.0 625.5L226.5 625.4L227.0 625.8L227.5 625.7L228.0 625.8L228.5 625.8L229.0 625.7L229.5 625.8L230.0 625.5L230.5 625.5L231.0 625.7L231.5 625.5L232.0 625.2L232.5 625.4L233.0 625.0L233.5 624.8L234.0 624.6L234.5 624.4L235.0 624.5L235.5 624.6L236.0 625.0L236.5 625.0L237.0 624.7L237.5 624.5L238.0 624.4L238.5 624.3L239.0 624.7L239.5 625.1L240.0 625.2L240.5 625.0L241.0 625.2L241.5 625.4L242.0 625.0L242.5 624.8L243.0 624.6L243.5 624.6L244.0 624.8L244.5 624.5L245.0 624.6L245.5 624.9L246.0 624.8L246.5 625.1L247.0 625.4L247.5 625.6L248.0 625.5L248.5 625.7L249.0 625.7L249.5 625.6L250.0 625.4L250.5 625.3L251.0 625.1L251.5 625.2L252.0 625.2L252.5 625.5L253.0 625.8L253.5 625.8L253.5 360.6L253.5 360.6L253.8 360.9L254.0 360.5L254.2 359.2L254.5 361.8L254.8 360.9L255.0 359.2L255.2 361.6L255.5 361.4L255.8 362.0L256.0 362.2L256.2 361.1L256.5 363.0L256.8 362.8L257.0 363.7L257.2 363.6L257.5 362.6L257.8 361.9L258.0 361.6L258.2 361.6L258.5 361.7L258.8 362.1L259.0 361.7L259.2 361.6L259.5 362.9L259.8 362.9L260.0 362.9L260.2 364.1L260.5 365.5L260.8 364.2L261.0 365.2L261.2 362.7L261.5 364.1L261.8 364.9L262.0 364.5L262.2 364.0L262.5 364.2L262.8 362.7L263.0 362.5L263.2 362.0L263.5 361.7L263.8 360.4L264.0 361.1L264.2 361.9L264.5 362.3L264.8 360.5L265.0 361.5L265.2 362.8L265.5 364.0L265.8 361.3L266.0 361.7L266.2 364.3L266.5 362.9L266.8 360.7L267.0 362.3L267.2 362.6L267.5 362.4L267.8 361.7L268.0 361.3L268.2 363.4L268.5 362.7L268.8 363.1L269.0 362.2L269.2 361.7L269.5 362.8L269.8 361.6L270.0 362.1L270.2 361.5L270.5 361.2L270.8 359.9L271.0 359.4L271.2 360.3L271.5 360.8L271.8 361.1L272.0 360.1L272.2 358.5L272.5 359.4L272.8 357.3L273.0 358.6L273.2 355.7L273.5 358.2L273.8 356.2L274.0 358.0L274.2 355.8L274.5 357.1L274.8 355.8L275.0 354.7L275.2 356.2L275.5 356.8L275.8 357.8L276.0 355.9L276.2 356.8L276.5 356.4L276.8 357.1L277.0 358.3L277.2 357.7L277.5 356.3L277.8 358.3L278.0 356.8L278.2 357.0L278.5 356.3L278.8 357.4L279.0 356.3L279.2 357.0L279.5 357.0L279.8 356.7L280.0 356.6L280.2 356.9L280.5 355.8L280.8 356.1L281.0 356.8L281.2 358.3L281.5 356.1L281.8 357.0L282.0 356.0L282.2 357.8L282.5 357.1L282.8 358.5L283.0 358.9L283.2 360.9L283.5 361.0L283.8 358.5L284.0 360.7L284.2 359.4L284.5 357.5L284.8 358.5L285.0 358.7L285.2 357.3L285.5 358.1L285.8 356.0L286.0 357.3L286.2 357.8L286.5 357.4L286.8 357.9L287.0 357.9L287.2 356.8L287.5 359.0L287.8 359.6L288.0 360.8L288.2 359.4L288.5 360.9L288.8 359.2L289.0 359.5L289.2 357.4L289.5 359.2L289.8 359.4L290.0 360.4L290.2 361.3L290.5 360.3L290.8 360.0L291.0 360.0L291.2 359.3L291.5 359.2L291.8 361.1L292.0 360.9L292.2 361.5L292.5 361.5L292.8 360.2L293.0 361.8L293.2 362.7L293.5 361.3L293.8 361.8L294.0 361.5L294.2 362.1L294.5 363.7L294.8 361.9L295.0 361.3L295.2 363.3L295.5 363.3L295.8 364.6L296.0 363.9L296.2 365.0L296.5 366.0L296.8 364.1L297.0 365.7L297.2 365.7L297.2 626.0L297.5 626.0L298.0 625.7L298.5 625.3L299.0 625.0L299.5 625.1L300.0 624.9L300.5 624.7L301.0 624.8L301.5 624.7L302.0 624.3L302.5 624.2L303.0 624.4L303.5 624.4L304.0 624.5L304.5 624.9L305.0 624.9L305.5 624.8L306.0 624.6L306.5 625.0L307.0 625.2L307.5 625.1L308.0 625.3L308.5 625.4L309.0 625.4L309.5 625.3L310.0 625.1L310.5 625.6L311.0 625.3L311.5 625.3L312.0 625.3L312.5 625.6L313.0 625.7L313.5 625.9L314.0 625.8L314.5 625.5L315.0 625.7L315.5 625.9L316.0 625.9L316.5 625.9L317.0 625.7L317.5 625.7L318.0 625.5L318.5 625.2L319.0 625.3L319.5 625.1L320.0 624.9L320.5 625.4L321.0 625.5L321.5 625.3L322.0 625.1L322.5 625.0L323.0 624.9L323.5 624.7L324.0 624.9L324.5 624.9L325.0 624.6L325.5 624.7L326.0 625.2L326.5 624.9L327.0 625.0L327.5 624.7L328.0 624.8L328.5 624.9L329.0 625.0L329.5 624.9L330.0 625.0L330.5 624.6L331.0 624.2L331.5 624.3L332.0 624.7L332.5 624.8L333.0 625.0L333.5 625.5L334.0 625.3L334.5 625.6L335.0 625.4L335.5 624.9L336.0 625.5L336.5 625.4L337.0 625.8L337.5 625.5L338.0 625.6L338.5 625.8L339.0 625.9L339.5 625.7L340.0 626.0L340.5 625.8L341.0 625.8L341.5 626.1L342.0 625.9L342.5 625.9L343.0 625.7L343.5 625.7L344.0 625.7L344.5 626.0L345.0 625.9L345.5 625.9L346.0 626.0L346.3 626.0L346.3 354.8L346.5 354.8L346.8 355.0L347.0 354.2L347.2 354.7L347.5 352.7L347.8 353.6L348.0 355.2L348.2 352.9L348.5 354.7L348.8 353.8L349.0 352.4L349.2 351.3L349.5 352.7L349.8 351.7L350.0 352.6L350.2 353.1L350.5 355.5L350.8 354.1L351.0 354.7L351.2 355.0L351.5 355.4L351.8 355.5L352.0 356.2L352.2 355.7L352.5 353.9L352.8 355.3L353.0 355.7L353.2 356.3L353.5 356.9L353.8 354.7L354.0 354.1L354.2 357.8L354.5 357.1L354.8 356.3L355.0 356.9L355.2 358.8L355.5 356.7L355.8 357.1L356.0 358.2L356.2 358.4L356.5 357.8L356.8 358.1L357.0 357.5L357.2 357.7L357.5 357.8L357.8 357.1L358.0 357.9L358.2 361.1L358.5 360.2L358.8 358.8L359.0 359.0L359.2 361.1L359.5 361.3L359.8 359.7L360.0 360.6L360.2 361.1L360.5 359.9L360.8 359.7L361.0 359.7L361.2 361.4L361.5 361.3L361.8 360.5L362.0 360.9L362.2 361.6L362.5 361.2L362.8 361.2L363.0 363.7L363.2 360.5L363.5 361.4L363.8 360.4L364.0 362.0L364.2 361.6L364.5 360.7L364.8 361.4L365.0 364.1L365.2 362.9L365.5 362.2L365.8 362.7L366.0 361.3L366.2 361.8L366.5 361.7L366.8 362.0L367.0 361.7L367.2 361.4L367.5 361.2L367.8 361.6L368.0 362.9L368.2 361.1L368.5 360.6L368.8 361.2L369.0 361.2L369.2 361.6L369.5 361.6L369.8 361.4L370.0 362.9L370.2 363.8L370.5 361.8L370.8 361.1L371.0 363.7L371.2 362.8L371.5 363.3L371.8 363.0L372.0 364.6L372.2 364.6L372.5 364.3L372.8 363.2L373.0 362.2L373.2 360.7L373.5 359.7L373.8 361.8L374.0 362.6L374.2 361.9L374.5 360.9L374.8 359.7L375.0 358.9L375.2 359.0L375.5 360.8L375.8 359.0L376.0 362.2L376.2 360.3L376.5 362.5L376.8 362.7L377.0 364.0L377.2 364.6L377.5 363.3L377.8 363.5L378.0 363.8L378.2 363.3L378.5 365.1L378.8 365.1L379.0 364.3L379.2 363.8L379.5 362.5L379.8 363.7L380.0 361.7L380.2 362.9L380.5 362.4L380.8 361.5L381.0 361.1L381.2 361.4L381.5 360.9L381.8 360.8L382.0 360.9L382.2 362.3L382.5 360.4L382.8 362.0L383.0 362.0L383.2 360.5L383.5 360.2L383.8 359.2L384.0 359.7L384.2 358.7L384.5 359.9L384.8 358.8L385.0 359.7L385.2 359.3L385.5 359.1L385.8 357.3L386.0 357.3L386.2 358.5L386.5 358.1L386.8 358.3L387.0 357.7L387.2 359.5L387.5 359.1L387.8 358.4L388.0 356.9L388.2 357.1L388.5 356.5L388.8 356.1L389.0 355.8L389.2 356.2L389.5 357.1L389.8 354.8L390.0 353.6L390.2 355.8L390.5 356.0L390.8 355.5L391.0 354.8L391.2 357.4L391.5 357.4L391.5 623.0L391.5 623.0L392.0 622.8L392.5 622.8L393.0 622.8L393.5 622.9L394.0 623.0L394.5 623.0L395.0 623.0L395.5 622.9L396.0 622.4L396.5 622.8L397.0 622.7L397.5 622.3L398.0 622.6L398.5 622.7L399.0 622.7L399.5 622.8L400.0 622.7L400.5 622.9L401.0 622.8L401.5 622.9L402.0 622.8L402.5 623.4L403.0 623.5L403.5 623.3L404.0 623.5L404.5 623.8L405.0 623.7L405.5 624.1L406.0 624.0L406.5 624.2L407.0 624.2L407.5 624.0L408.0 624.0L408.5 623.9L409.0 623.8L409.5 624.1L410.0 624.2L410.5 624.4L411.0 625.0L411.5 624.6L412.0 624.9L412.5 625.5L413.0 625.6L413.5 625.5L414.0 625.8L414.5 626.1L415.0 625.8L415.5 625.9L416.0 626.1L416.5 626.5L417.0 626.5L417.5 626.1L418.0 626.2L418.5 626.3L419.0 626.2L419.5 625.7L420.0 625.7L420.5 625.6L421.0 625.8L421.5 625.7L422.0 625.7L422.5 626.1L423.0 626.2L423.5 626.3L424.0 626.3L424.5 626.1L425.0 626.2L425.5 625.9L426.0 625.4L426.5 625.6L427.0 625.4L427.5 625.2L428.0 625.0L428.5 624.8L429.0 624.8L429.5 624.8L430.0 625.1L430.5 624.9L431.0 624.5L431.5 624.1L432.0 624.2L432.5 624.0L433.0 623.9L433.5 623.6L434.0 624.0L434.5 624.5L435.0 624.3L435.5 624.4L436.0 624.2L436.5 624.3L437.0 624.1L437.5 624.0L438.0 623.9L438.5 623.8L439.0 623.7L439.5 623.7L440.0 623.6L440.5 624.1L441.0 624.4L441.5 624.2L441.8 624.2L441.8 361.5L442.0 361.5L442.2 359.8L442.5 362.1L442.8 361.2L443.0 359.6L443.2 360.4L443.5 360.0L443.8 360.5L444.0 359.8L444.2 361.4L444.5 360.7L444.8 361.5L445.0 359.2L445.2 361.3L445.5 360.6L445.8 361.2L446.0 359.8L446.2 358.9L446.5 358.1L446.8 359.2L447.0 359.0L447.2 361.6L447.5 358.5L447.8 360.2L448.0 358.2L448.2 361.8L448.5 360.9L448.8 362.2L449.0 361.6L449.2 362.4L449.5 361.8L449.8 362.3L450.0 362.2L450.2 360.7L450.5 362.2L450.8 361.3L451.0 362.5L451.2 362.7L451.5 362.4L451.8 362.9L452.0 362.0L452.2 360.6L452.5 361.3L452.8 359.8L453.0 358.7L453.2 357.8L453.5 358.2L453.8 358.2L454.0 358.9L454.2 358.9L454.5 359.7L454.8 358.5L455.0 359.4L455.2 358.4L455.5 359.0L455.8 359.6L456.0 360.3L456.2 359.6L456.5 358.4L456.8 358.2L457.0 358.8L457.2 359.5L457.5 359.9L457.8 357.1L458.0 357.8L458.2 358.2L458.5 358.4L458.8 358.9L459.0 359.2L459.2 356.5L459.5 359.1L459.8 356.6L460.0 357.3L460.2 357.3L460.5 358.3L460.8 357.9L461.0 357.8L461.2 357.1L461.5 356.8L461.8 358.5L462.0 358.8L462.2 357.3L462.5 356.5L462.8 356.9L463.0 358.6L463.2 358.9L463.5 358.0L463.8 358.7L464.0 358.4L464.2 358.6L464.5 357.0L464.8 358.1L465.0 359.1L465.2 359.7L465.5 360.9L465.8 360.0L466.0 360.6L466.2 358.8L466.5 362.8L466.8 361.5L467.0 360.7L467.2 359.3L467.5 359.2L467.8 360.7L468.0 360.1L468.2 359.0L468.5 357.8L468.8 359.5L469.0 358.6L469.2 360.1L469.5 359.8L469.8 360.6L470.0 361.0L470.2 360.7L470.5 362.2L470.8 360.0L471.0 359.3L471.2 359.7L471.5 361.0L471.8 359.7L472.0 358.0L472.2 359.2L472.5 358.5L472.8 357.8L473.0 358.0L473.2 358.3L473.5 359.1L473.8 358.0L474.0 357.4L474.2 358.8L474.5 359.7L474.8 361.0L475.0 360.7L475.2 360.7L475.5 361.3L475.8 361.1L476.0 361.8L476.2 362.2L476.5 364.2L476.8 362.1L477.0 362.3L477.2 361.6L477.5 361.4L477.8 362.2L478.0 362.5L478.2 362.5L478.5 362.7L478.8 362.3L479.0 360.7L479.2 360.6L479.5 361.4L479.8 360.8L480.0 358.5L480.2 360.0L480.5 361.0L480.8 361.7L481.0 361.0L481.2 360.5L481.5 359.9L481.8 360.3L482.0 361.4L482.2 360.1L482.5 360.4L482.8 361.6L483.0 359.7L483.2 360.9L483.5 359.6L483.8 360.6L484.0 360.3L484.2 359.7L484.5 358.9L484.8 359.8L485.0 358.1L485.2 360.1L485.5 360.5L485.8 361.4L486.0 360.3L486.2 360.7L486.5 362.0L486.8 362.8L487.0 360.9L487.2 362.3L487.5 362.3L487.6 362.3L487.6 625.7L488.0 625.7L488.5 625.6L489.0 625.9L489.5 625.7L490.0 625.6L490.5 625.5L491.0 626.1L491.5 626.1L492.0 625.8L492.5 626.0L493.0 626.0L493.5 626.2L494.0 626.2L494.5 626.1L495.0 625.9L495.5 625.7L496.0 625.5L496.5 625.6L497.0 625.9L497.5 625.9L498.0 626.3L498.5 626.4L499.0 626.4L499.5 626.1L500.0 626.1L500.5 625.7L501.0 625.6L501.5 625.5L502.0 625.5L502.5 625.4L503.0 625.5L503.5 625.7L504.0 625.3L504.5 625.3L505.0 624.8L505.5 624.6L506.0 624.3L506.5 624.4L507.0 624.8L507.5 624.6L508.0 624.6L508.5 624.4L509.0 624.1L509.5 624.1L510.0 624.1L510.5 624.2L511.0 624.3L511.5 624.3L512.0 623.9L512.5 623.7L513.0 623.6L513.5 623.4L514.0 623.2L514.5 623.4L515.0 623.4L515.5 623.5L516.0 623.6L516.5 623.8L517.0 623.7L517.5 623.9L518.0 624.4L518.5 624.2L519.0 624.1L519.5 624.3L520.0 624.4L520.5 624.5L521.0 624.7L521.5 624.9L522.0 624.7L522.5 624.6L523.0 624.3L523.5 624.4L524.0 624.6L524.5 624.6L525.0 624.8L525.5 624.3L526.0 624.3L526.5 624.1L527.0 624.2L527.5 624.4L528.0 624.5L528.5 624.5L529.0 624.7L529.5 624.5L530.0 624.6L530.5 624.6L531.0 624.8L531.5 624.6L532.0 624.7L532.5 624.7L533.0 624.0L533.5 624.2L534.0 624.5L534.5 624.5L535.0 624.5L535.5 624.7L536.0 624.7L536.0 361.9L536.0 361.9L536.2 362.6L536.5 360.4L536.8 362.0L537.0 360.4L537.2 361.6L537.5 360.5L537.8 359.8L538.0 360.6L538.2 361.0L538.5 360.1L538.8 360.7L539.0 360.3L539.2 361.7L539.5 359.3L539.8 359.8L540.0 358.1L540.2 360.3L540.5 358.4L540.8 358.4L541.0 358.6L541.2 358.8L541.5 358.7L541.8 358.6L542.0 359.4L542.2 358.7L542.5 359.8L542.8 360.4L543.0 359.9L543.2 359.9L543.5 361.5L543.8 360.1L544.0 360.4L544.2 359.3L544.5 359.3L544.8 358.4L545.0 357.7L545.2 360.4L545.5 360.9L545.8 362.8L546.0 360.0L546.2 362.1L546.5 362.0L546.8 363.5L547.0 362.3L547.2 363.5L547.5 363.3L547.8 364.1L548.0 362.8L548.2 363.2L548.5 363.1L548.8 362.4L549.0 361.6L549.2 362.6L549.5 362.0L549.8 362.2L550.0 361.6L550.2 361.4L550.5 359.4L550.8 361.6L551.0 360.8L551.2 362.9L551.5 363.4L551.8 360.7L552.0 362.6L552.2 361.2L552.5 361.2L552.8 359.1L553.0 360.1L553.2 360.0L553.5 360.5L553.8 360.1L554.0 358.8L554.2 358.1L554.5 360.6L554.8 359.0L555.0 358.8L555.2 358.7L555.5 358.8L555.8 359.4L556.0 358.5L556.2 359.5L556.5 360.9L556.8 361.1L557.0 360.1L557.2 358.8L557.5 358.9L557.8 360.3L558.0 359.1L558.2 359.7L558.5 359.1L558.8 359.2L559.0 360.2L559.2 360.2L559.5 360.0L559.8 361.6L560.0 362.2L560.2 361.8L560.5 361.4L560.8 362.2L561.0 362.2L561.2 363.4L561.5 362.4L561.8 363.1L562.0 363.1L562.2 363.7L562.5 362.6L562.8 360.3L563.0 361.0L563.2 360.8L563.5 361.4L563.8 359.8L564.0 361.9L564.2 360.5L564.5 361.0L564.8 362.7L565.0 362.8L565.2 362.5L565.5 362.6L565.8 361.5L566.0 360.9L566.2 362.2L566.5 362.3L566.8 361.3L567.0 362.7L567.2 361.3L567.5 361.1L567.8 361.7L568.0 360.6L568.2 360.1L568.5 360.7L568.8 359.9L569.0 358.5L569.2 359.8L569.5 359.3L569.8 359.8L570.0 362.2L570.2 361.9L570.5 359.7L570.8 361.7L571.0 360.7L571.2 362.1L571.5 360.4L571.8 360.6L572.0 362.0L572.2 360.6L572.5 360.5L572.8 361.4L573.0 359.8L573.2 360.0L573.5 359.4L573.8 359.8L574.0 359.4L574.2 359.7L574.5 357.3L574.8 360.0L575.0 358.6L575.2 360.2L575.5 358.9L575.8 359.6L576.0 359.5L576.2 361.0L576.5 359.7L576.8 360.8L577.0 359.7L577.2 360.0L577.5 361.1L577.8 361.6L578.0 359.8L578.2 361.2L578.5 359.9L578.8 361.7L579.0 359.7L579.2 360.6L579.5 359.3L579.8 358.9L580.0 359.2L580.2 359.9L580.5 361.1L580.8 359.1L581.0 362.4L581.2 361.2L581.5 362.2L581.8 361.5L582.0 364.2L582.2 363.8L582.5 362.3L582.6 362.3L582.6 625.1L583.0 625.1L583.5 625.1L584.0 625.1L584.5 624.9L585.0 625.1L585.5 625.4L586.0 625.2L586.5 625.2L587.0 625.2L587.5 625.4L588.0 625.7L588.5 625.9L589.0 625.4L589.5 624.9L590.0 625.3L590.5 625.4L591.0 625.4L591.5 625.4L592.0 625.5L592.5 625.0L593.0 625.0L593.5 625.3L594.0 625.5L594.5 625.6L595.0 625.8L595.5 625.7L596.0 625.8L596.5 626.1L597.0 626.7L597.5 626.9L598.0 626.8L598.5 626.8L599.0 626.9L599.5 626.8L600.0 626.7L600.5 626.5L601.0 626.6L601.5 626.8L602.0 626.9L602.5 627.1L603.0 627.1L603.5 627.2L604.0 627.2L604.5 627.3L605.0 627.1L605.5 626.9L606.0 626.9L606.5 626.9L607.0 627.0L607.5 627.4L608.0 627.4L608.5 627.2L609.0 627.1L609.5 627.0L610.0 627.3L610.5 626.8L611.0 626.9L611.5 626.4L612.0 626.1L612.5 626.0L613.0 626.3L613.5 626.1L614.0 626.2L614.5 626.5L615.0 626.3L615.5 626.5L616.0 626.6L616.5 626.6L617.0 626.7L617.5 626.7L618.0 626.3L618.5 626.2L619.0 626.7L619.5 626.9L620.0 626.9L620.5 626.8L621.0 626.5L621.5 626.2L622.0 626.3L622.5 626.2L623.0 626.2L623.5 626.3L624.0 626.1L624.5 625.9L625.0 625.7L625.5 626.0L626.0 626.0L626.5 626.3L627.0 626.5L627.5 625.8L628.0 625.5L628.5 625.3L629.0 625.1L629.5 625.0L630.0 625.3L630.5 625.6L631.0 625.5L631.5 625.0L632.0 624.9L632.5 625.0L633.0 625.5L633.2 625.5L633.2 361.7L633.2 361.7L633.5 361.2L633.8 360.7L634.0 362.3L634.2 359.7L634.5 362.2L634.8 361.5L635.0 359.2L635.2 360.5L635.5 359.7L635.8 357.6L636.0 358.8L636.2 360.0L636.5 359.0L636.8 360.2L637.0 359.2L637.2 357.7L637.5 357.9L637.8 359.6L638.0 359.9L638.2 359.2L638.5 360.2L638.8 358.7L639.0 360.0L639.2 361.1L639.5 358.6L639.8 360.8L640.0 360.2L640.2 361.4L640.5 360.0L640.8 361.2L641.0 360.7L641.2 358.8L641.5 358.2L641.8 358.7L642.0 359.7L642.2 358.4L642.5 360.1L642.8 359.7L643.0 358.7L643.2 361.1L643.5 360.2L643.8 362.6L644.0 363.0L644.2 362.1L644.5 362.6L644.8 361.5L645.0 360.5L645.2 362.2L645.5 360.9L645.8 360.4L646.0 361.4L646.2 362.2L646.5 362.3L646.8 361.5L647.0 361.4L647.2 361.9L647.5 364.3L647.8 360.3L648.0 361.3L648.2 363.7L648.5 363.0L648.8 363.7L649.0 364.2L649.2 365.3L649.5 362.6L649.8 364.0L650.0 362.0L650.2 363.1L650.5 362.3L650.8 362.7L651.0 361.9L651.2 362.2L651.5 360.9L651.8 361.0L652.0 360.7L652.2 359.6L652.5 362.1L652.8 362.3L653.0 363.3L653.2 360.6L653.5 359.5L653.8 360.4L654.0 360.8L654.2 361.4L654.5 361.5L654.8 362.0L655.0 361.7L655.2 360.3L655.5 359.5L655.8 358.7L656.0 359.5L656.2 358.9L656.5 358.6L656.8 359.5L657.0 359.3L657.2 359.2L657.5 358.1L657.8 359.9L658.0 359.3L658.2 359.4L658.5 359.4L658.8 358.9L659.0 358.7L659.2 360.8L659.5 358.9L659.8 361.2L660.0 359.3L660.2 358.7L660.5 359.2L660.8 359.3L661.0 360.5L661.2 360.5L661.5 360.0L661.8 359.4L662.0 359.1L662.2 361.9L662.5 360.5L662.8 360.1L663.0 361.9L663.2 359.8L663.5 361.9L663.8 361.6L664.0 360.7L664.2 360.5L664.5 358.7L664.8 358.4L665.0 359.4L665.2 359.6L665.5 360.0L665.8 360.2L666.0 358.6L666.2 357.8L666.5 360.0L666.8 359.9L667.0 361.0L667.2 361.8L667.5 359.8L667.8 360.3L668.0 358.4L668.2 359.8L668.5 359.5L668.8 360.1L669.0 361.4L669.2 360.7L669.5 362.0L669.8 362.1L670.0 363.1L670.2 359.5L670.5 360.2L670.8 362.3L671.0 360.5L671.2 360.0L671.5 360.6L671.8 360.3L672.0 358.7L672.2 358.7L672.5 359.4L672.8 360.1L673.0 360.7L673.2 360.4L673.5 360.4L673.8 360.8L674.0 360.7L674.2 360.4L674.5 358.9L674.8 360.4L675.0 361.7L675.2 361.5L675.5 361.6L675.8 361.3L676.0 361.9L676.2 361.9L676.5 362.5L676.8 363.7L677.0 362.5L677.2 362.2L677.4 362.2L677.4 624.7L677.5 624.7L678.0 624.6L678.5 624.8L679.0 624.5L679.5 624.5L680.0 624.4L680.5 624.1L681.0 623.8L681.5 623.4L682.0 623.2L682.5 623.0L683.0 623.4L683.5 623.8L684.0 623.9L684.5 623.9L685.0 624.6L685.5 624.4L686.0 624.4L686.5 624.3L687.0 624.3L687.5 624.3L688.0 624.0L688.5 624.5L689.0 624.8L689.5 624.0L690.0 624.3L690.5 624.7L691.0 624.3L691.5 624.5L692.0 624.3L692.5 624.5L693.0 624.5L693.5 624.8L694.0 625.1L694.5 625.3L695.0 625.1L695.5 625.1L696.0 625.4L696.5 625.4L697.0 625.1L697.5 625.0L698.0 624.8L698.5 624.9L699.0 625.1L699.5 625.0L700.0 624.5L700.5 625.0L701.0 624.9L701.5 624.8L702.0 624.7L702.5 625.0L703.0 625.1L703.5 624.7L704.0 624.5L704.5 625.1L705.0 624.9L705.5 624.8L706.0 624.7L706.5 624.3L707.0 624.4L707.5 624.3L708.0 624.3L708.5 624.1L709.0 624.1L709.5 623.9L710.0 624.0L710.5 624.0L711.0 624.2L711.5 624.7L712.0 625.0L712.5 625.4L713.0 625.6L713.5 625.5L714.0 625.6L714.5 625.7L715.0 625.8L715.5 625.3L716.0 625.3L716.5 625.7L717.0 625.7L717.5 625.4L718.0 625.5L718.5 625.7L719.0 625.8L719.5 626.0L720.0 626.3L720.5 626.3L721.0 627.1L721.5 627.1L722.0 627.6L722.5 627.9L723.0 627.8L723.5 627.9L724.0 628.0L724.5 627.9L725.0 627.8L725.5 627.7L726.0 627.8L726.5 627.5L727.0 627.5L727.0 354.7L727.0 354.7L727.2 353.7L727.5 355.1L727.8 353.2L728.0 353.5L728.2 353.5L728.5 354.7L728.8 356.9L729.0 356.5L729.2 357.3L729.5 358.9L729.8 357.9L730.0 358.7L730.2 359.3L730.5 358.0L730.8 359.0L731.0 359.8L731.2 359.6L731.5 360.1L731.8 360.2L732.0 361.8L732.2 363.1L732.5 362.2L732.8 362.0L733.0 360.5L733.2 363.9L733.5 363.8L733.8 362.1L734.0 359.6L734.2 360.4L734.5 359.5L734.8 359.8L735.0 358.9L735.2 359.6L735.5 358.9L735.8 358.3L736.0 358.1L736.2 359.4L736.5 360.0L736.8 360.1L737.0 358.9L737.2 359.2L737.5 359.5L737.8 359.9L738.0 358.8L738.2 359.5L738.5 358.8L738.8 358.6L739.0 358.3L739.2 356.7L739.5 359.7L739.8 360.0L740.0 357.6L740.2 358.8L740.5 356.6L740.8 358.3L741.0 357.4L741.2 357.5L741.5 357.6L741.8 357.5L742.0 356.6L742.2 355.3L742.5 355.1L742.8 356.8L743.0 357.8L743.2 357.4L743.5 356.5L743.8 357.0L744.0 357.9L744.2 359.4L744.5 357.3L744.8 359.6L745.0 359.9L745.2 358.4L745.5 357.8L745.8 359.4L746.0 358.3L746.2 358.3L746.5 358.6L746.8 357.8L747.0 357.0L747.2 358.0L747.5 355.6L747.8 355.3L748.0 355.7L748.2 355.6L748.5 356.2L748.8 357.1L749.0 357.4L749.2 357.2L749.5 357.2L749.8 355.7L750.0 356.4L750.2 357.6L750.5 357.8L750.8 357.1L751.0 357.7L751.2 359.3L751.5 358.4L751.8 357.3L752.0 357.6L752.2 358.5L752.5 357.5L752.8 356.9L753.0 356.1L753.2 355.4L753.5 354.4L753.8 354.0L754.0 356.1L754.2 356.5L754.5 354.5L754.8 355.1L755.0 355.8L755.2 355.0L755.5 353.1L755.8 356.1L756.0 356.6L756.2 355.1L756.5 358.0L756.8 357.1L757.0 356.4L757.2 357.3L757.5 355.2L757.8 357.6L758.0 357.1L758.2 359.9L758.5 358.3L758.8 356.5L759.0 357.2L759.2 355.3L759.5 356.4L759.8 356.4L760.0 356.8L760.2 356.0L760.5 356.7L760.8 356.6L761.0 357.5L761.2 358.3L761.5 359.1L761.8 359.7L762.0 357.4L762.2 356.6L762.5 356.6L762.8 356.5L763.0 354.0L763.2 354.9L763.5 356.5L763.8 354.4L764.0 355.5L764.2 355.2L764.5 357.7L764.8 356.8L765.0 357.4L765.2 356.2L765.5 358.8L765.8 358.9L766.0 357.9L766.2 359.2L766.5 360.1L766.8 359.2L767.0 357.8L767.2 358.9L767.5 359.1L767.8 357.9L768.0 359.0L768.2 360.7L768.5 359.0L768.8 359.9L769.0 357.6L769.2 358.4L769.5 359.9L769.8 359.2L770.0 357.8L770.2 356.6L770.5 357.7L770.8 355.8L771.0 356.2L771.2 354.3L771.5 355.6L771.8 356.1L771.9 356.1L771.9 624.6L772.0 624.6L772.5 624.4L773.0 624.4L773.5 624.4L774.0 624.1L774.5 624.7L775.0 624.7L775.5 624.6L776.0 624.5L776.5 624.8L777.0 625.1L777.5 625.1L778.0 625.1L778.5 625.0L779.0 624.9L779.5 624.8L780.0 624.4L780.5 624.5L781.0 624.3L781.5 624.2L782.0 623.9L782.5 623.6L783.0 623.7L783.5 623.4L784.0 623.1L784.5 622.9L785.0 622.9L785.5 623.2L786.0 623.4L786.5 623.6L787.0 623.7L787.5 624.0L788.0 623.9L788.5 624.0L789.0 624.3L789.5 623.8L790.0 624.1L790.5 624.1L791.0 624.3L791.5 624.1L792.0 623.8L792.5 623.7L793.0 623.7L793.5 624.2L794.0 623.8L794.5 623.9L795.0 624.2L795.5 624.4L796.0 624.4L796.5 624.3L797.0 624.5L797.5 624.8L798.0 624.3L798.5 624.3L799.0 624.7L799.5 624.9L800.0 625.0L800.5 624.8L801.0 624.9L801.5 625.1L802.0 625.0L802.5 624.7L803.0 624.7L803.5 624.4L804.0 624.7L804.5 624.6L805.0 624.6L805.5 624.7L806.0 624.9L806.5 624.7L807.0 625.1L807.5 624.8L808.0 624.8L808.5 625.2L809.0 625.7L809.5 625.9L810.0 626.3L810.5 626.0L811.0 626.0L811.5 626.0L812.0 626.0L812.5 625.9L813.0 626.2L813.5 626.3L814.0 626.3L814.5 625.9L815.0 625.8L815.5 625.9L816.0 625.9L816.5 625.6L817.0 626.0L817.5 626.1L818.0 626.3L818.5 626.3L819.0 625.9L819.5 625.8L820.0 625.4L820.5 625.5L821.0 625.4L821.1 625.4L821.1 348.3L821.2 348.3L821.5 349.4L821.8 348.1L822.0 347.7L822.2 348.1L822.5 348.8L822.8 349.8L823.0 349.6L823.2 347.3L823.5 349.1L823.8 348.3L824.0 349.3L824.2 349.6L824.5 350.4L824.8 350.1L825.0 350.9L825.2 349.7L825.5 350.7L825.8 350.7L826.0 349.8L826.2 348.7L826.5 350.5L826.8 351.2L827.0 351.3L827.2 351.3L827.5 351.3L827.8 351.8L828.0 352.5L828.2 352.5L828.5 353.9L828.8 351.4L829.0 353.2L829.2 349.9L829.5 353.0L829.8 350.4L830.0 353.3L830.2 351.0L830.5 352.2L830.8 350.4L831.0 349.6L831.2 350.9L831.5 351.5L831.8 350.1L832.0 352.5L832.2 350.9L832.5 352.2L832.8 350.5L833.0 350.9L833.2 351.6L833.5 350.6L833.8 352.2L834.0 350.1L834.2 352.2L834.5 351.2L834.8 350.4L835.0 351.3L835.2 350.8L835.5 350.7L835.8 351.0L836.0 351.1L836.2 350.6L836.5 350.8L836.8 350.3L837.0 352.1L837.2 351.4L837.5 351.5L837.8 352.1L838.0 351.5L838.2 350.6L838.5 350.4L838.8 350.3L839.0 351.6L839.2 350.7L839.5 350.2L839.8 350.9L840.0 351.9L840.2 351.7L840.5 350.1L840.8 351.4L841.0 350.7L841.2 350.4L841.5 351.0L841.8 350.2L842.0 350.9L842.2 351.6L842.5 349.0L842.8 350.2L843.0 351.2L843.2 352.3L843.5 351.5L843.8 352.6L844.0 351.2L844.2 351.7L844.5 352.8L844.8 352.7L845.0 352.1L845.2 352.2L845.5 353.1L845.8 352.9L846.0 351.9L846.2 351.4L846.5 352.0L846.8 354.0L847.0 351.8L847.2 352.0L847.5 353.4L847.8 354.1L848.0 352.0L848.2 353.1L848.5 351.5L848.8 351.3L849.0 353.1L849.2 352.8L849.5 353.0L849.8 353.7L850.0 353.7L850.2 353.8L850.5 353.1L850.8 353.0L851.0 356.9L851.2 354.6L851.5 356.1L851.8 354.3L852.0 355.6L852.2 354.5L852.5 354.1L852.8 355.6L853.0 353.4L853.2 354.4L853.5 352.8L853.8 354.3L854.0 354.5L854.2 353.7L854.5 355.1L854.8 357.3L855.0 354.5L855.2 354.7L855.5 354.0L855.8 353.1L856.0 354.5L856.2 353.4L856.5 353.0L856.8 352.8L857.0 353.4L857.2 349.8L857.5 349.8L857.8 351.2L858.0 352.5L858.2 353.4L858.5 352.3L858.8 351.3L859.0 352.9L859.2 352.7L859.5 353.5L859.8 353.7L860.0 355.5L860.2 354.9L860.5 356.1L860.8 353.5L861.0 353.8L861.2 353.9L861.5 354.4L861.8 354.7L862.0 355.0L862.2 353.9L862.5 356.2L862.8 356.6L863.0 354.2L863.2 355.7L863.5 356.8L863.8 357.1L864.0 355.5L864.2 355.1L864.5 355.7L864.8 355.4L865.0 352.3L865.2 352.8L865.5 354.2L865.8 353.8L866.0 353.1L866.2 353.4L866.5 353.8L866.8 354.7L867.0 354.7L867.0 624.9L867.0 624.9L867.5 624.7L868.0 624.9L868.5 625.0L869.0 625.1L869.5 625.6L870.0 625.1L870.5 624.9L871.0 624.8L871.5 624.6L872.0 624.8L872.5 624.5L873.0 624.7L873.5 624.7L874.0 624.4L874.5 624.3L875.0 624.7L875.5 624.6L876.0 624.5L876.5 624.4L877.0 624.3L877.5 624.1L878.0 624.2L878.5 623.8L879.0 623.9L879.5 624.1L880.0 624.3L880.5 624.4L881.0 624.6L881.5 624.6L882.0 624.7L882.5 624.9L883.0 624.7L883.5 624.7L884.0 624.4L884.5 623.9L885.0 624.4L885.5 624.9L886.0 625.0L886.5 625.0L887.0 625.0L887.5 625.2L888.0 625.2L888.5 625.2L889.0 625.3L889.5 625.5L890.0 625.3L890.5 625.8L891.0 626.0L891.5 625.9L892.0 626.1L892.5 626.3L893.0 626.1L893.5 626.4L894.0 626.2L894.5 626.3L895.0 626.2L895.5 626.3L896.0 625.6L896.5 625.5L897.0 626.2L897.5 626.3L898.0 626.4L898.5 626.3L899.0 626.3L899.5 626.2L900.0 625.9L900.5 625.3L901.0 625.3L901.5 625.3L902.0 625.5L902.5 625.1L903.0 624.7L903.5 625.0L904.0 625.0L904.5 624.7L905.0 624.7L905.5 624.1L906.0 624.4L906.5 624.8L907.0 624.9L907.5 625.2L908.0 625.1L908.5 624.8L909.0 624.8L909.5 624.5L910.0 624.2L910.5 624.3L911.0 624.7L911.5 625.0L912.0 624.5L912.5 624.3L913.0 624.0L913.5 623.9L914.0 623.8L914.5 624.0L915.0 624.1L915.5 624.3L916.0 624.1L916.2 624.1L916.2 360.9L916.2 360.9L916.5 359.4L916.8 360.5L917.0 359.8L917.2 359.0L917.5 358.4L917.8 357.9L918.0 357.9L918.2 358.7L918.5 357.8L918.8 357.9L919.0 358.5L919.2 358.1L919.5 360.6L919.8 360.2L920.0 357.4L920.2 359.2L920.5 358.6L920.8 360.7L921.0 360.2L921.2 358.4L921.5 358.9L921.8 359.4L922.0 358.2L922.2 358.3L922.5 357.8L922.8 357.2L923.0 357.8L923.2 357.9L923.5 357.2L923.8 357.1L924.0 355.8L924.2 356.8L924.5 357.8L924.8 358.4L925.0 359.2L925.2 358.6L925.5 358.3L925.8 359.0L926.0 358.9L926.2 358.9L926.5 358.1L926.8 359.1L927.0 358.8L927.2 356.8L927.5 359.1L927.8 357.0L928.0 358.5L928.2 358.2L928.5 357.2L928.8 355.9L929.0 355.6L929.2 356.3L929.5 356.3L929.8 356.3L930.0 357.3L930.2 357.1L930.5 356.2L930.8 356.8L931.0 357.9L931.2 356.6L931.5 357.5L931.8 358.9L932.0 356.9L932.2 356.8L932.5 357.8L932.8 358.5L933.0 358.6L933.2 357.7L933.5 358.4L933.8 359.2L934.0 358.0L934.2 357.0L934.5 358.7L934.8 358.3L935.0 358.7L935.2 358.7L935.5 358.3L935.8 357.0L936.0 357.0L936.2 355.4L936.5 357.5L936.8 356.8L937.0 358.3L937.2 358.1L937.5 357.2L937.8 358.2L938.0 357.5L938.2 357.9L938.5 356.2L938.8 357.2L939.0 357.6L939.2 358.9L939.5 357.7L939.8 359.1L940.0 360.7L940.2 358.4L940.5 358.7L940.8 359.2L941.0 360.2L941.2 360.6L941.5 359.6L941.8 358.2L942.0 356.7L942.2 357.5L942.5 357.7L942.8 357.5L943.0 356.7L943.2 359.0L943.5 358.3L943.8 359.6L944.0 359.5L944.2 358.3L944.5 359.6L944.8 359.8L945.0 359.7L945.2 359.8L945.5 359.4L945.8 360.5L946.0 358.4L946.2 356.6L946.5 356.3L946.8 358.8L947.0 358.1L947.2 357.5L947.5 356.9L947.8 357.2L948.0 356.9L948.2 360.1L948.5 360.2L948.8 357.7L949.0 359.4L949.2 357.2L949.5 358.8L949.8 359.0L950.0 357.4L950.2 357.7L950.5 356.2L950.8 357.1L951.0 357.9L951.2 358.4L951.5 357.7L951.8 356.7L952.0 354.6L952.2 357.8L952.5 356.8L952.8 355.9L953.0 357.1L953.2 356.8L953.5 357.7L953.8 357.3L954.0 355.0L954.2 358.2L954.5 358.3L954.8 355.8L955.0 357.1L955.2 356.9L955.5 356.8L955.8 358.1L956.0 355.6L956.2 357.7L956.5 356.6L956.8 360.0L957.0 357.4L957.2 356.5L957.5 359.2L957.8 358.5L958.0 358.1L958.2 358.4L958.5 359.1L958.8 360.5L959.0 358.2L959.2 359.1L959.5 358.9"/>
<path stroke="#ff0000" d="M202.5 622.0L202.7 621.8L203.0 621.9L203.2 621.4L203.5 621.7L203.7 622.7L204.0 621.7L204.2 620.5L204.5 621.7L204.7 621.9L205.0 621.8L205.2 623.5L205.5 622.7L205.7 623.2L206.0 621.5L206.2 622.7L206.5 622.5L206.7 622.2L207.0 621.8L207.2 622.5L207.5 621.1L207.7 623.1L208.0 623.9L208.2 623.3L208.5 620.7L208.7 622.1L209.0 621.3L209.2 621.4L209.5 621.7L209.7 622.7L210.0 622.3L210.2 621.4L210.5 622.2L210.7 622.1L211.0 623.5L211.2 620.9L211.5 621.8L211.7 621.3L212.0 622.1L212.2 620.3L212.5 621.0L212.7 621.6L213.0 621.0L213.2 621.1L213.5 621.5L213.7 621.3L214.0 621.0L214.2 621.8L214.5 622.0L214.7 622.3L215.0 621.0L215.2 621.9L215.5 623.0L215.7 621.2L216.0 622.2L216.2 621.9L216.5 622.9L216.7 623.1L217.0 622.4L217.2 621.8L217.5 621.0L217.7 621.7L218.0 621.6L218.2 622.0L218.5 623.3L218.7 623.5L219.0 622.3L219.2 622.3L219.5 622.1L219.7 622.3L220.0 621.9L220.2 623.2L220.5 621.3L220.7 621.9L221.0 621.5L221.2 622.6L221.5 623.2L221.7 622.4L222.0 621.8L222.2 621.8L222.5 622.2L222.7 621.6L223.0 622.9L223.2 622.7L223.5 622.0L223.7 622.0L224.0 621.3L224.2 623.0L224.5 620.7L224.7 621.0L225.0 623.1L225.2 621.7L225.5 621.7L225.7 621.3L226.0 623.1L226.2 623.1L226.5 622.7L226.7 621.3L227.0 622.5L227.2 621.8L227.5 622.8L227.7 623.0L227.9 622.1L228.2 622.1L228.4 623.0L228.7 623.2L228.9 621.1L229.2 622.2L229.4 621.2L229.7 621.4L229.9 623.1L230.2 621.4L230.4 622.0L230.7 622.7L230.9 622.1L231.2 620.7L231.4 621.9L231.7 621.8L231.9 621.2L232.2 623.3L232.4 621.8L232.7 621.9L232.9 622.6L233.2 622.1L233.4 621.0L233.7 622.0L233.9 622.1L234.2 621.8L234.4 622.7L234.7 622.6L234.9 622.2L235.2 621.7L235.4 621.8L235.7 623.2L235.9 620.7L236.2 622.6L236.4 621.9L236.7 621.3L236.9 621.8L237.2 622.4L237.4 621.1L237.7 622.0L237.9 622.6L238.2 621.6L238.4 622.5L238.7 623.5L238.9 622.7L239.2 621.6L239.4 621.0L239.7 620.9L239.9 622.7L240.2 621.9L240.4 622.0L240.7 621.7L240.9 621.3L241.2 623.2L241.4 622.5L241.7 623.3L241.9 621.4L242.2 622.8L242.4 622.7L242.7 621.3L242.9 621.6L243.2 621.5L243.4 622.9L243.7 622.1L243.9 621.4L244.2 622.2L244.4 621.3L244.7 621.9L244.9 621.6L245.2 621.1L245.4 622.5L245.7 621.9L245.9 620.5L246.2 621.9L246.4 623.3L246.7 620.8L246.9 622.8L247.2 622.4L247.4 621.2L247.7 622.3L247.9 621.2L248.2 620.9L248.4 622.2L248.7 622.2L248.9 620.9L249.2 621.9L249.4 622.3L249.7 620.8L249.9 622.6L250.2 621.4L250.4 622.2L250.7 622.4L250.9 621.4L251.2 622.2L251.4 622.1L251.7 622.3L251.9 621.6L252.2 622.7L252.4 622.4L252.7 623.0L252.9 622.5L253.2 620.7L253.4 621.1L253.4 491.0L253.7 498.5L253.9 505.5L254.2 510.0L254.4 514.2L254.7 516.4L254.9 518.2L255.2 519.6L255.4 519.8L255.7 523.3L255.9 524.7L256.1 523.6L256.4 524.2L256.6 524.9L256.9 526.5L257.1 526.9L257.4 527.1L257.6 527.7L257.9 527.1L258.1 528.9L258.4 529.0L258.6 530.2L258.9 529.8L259.1 530.2L259.4 531.1L259.6 533.0L259.9 530.7L260.1 533.1L260.4 531.2L260.6 531.9L260.9 531.1L261.1 533.1L261.4 532.1L261.6 532.4L261.9 533.2L262.1 533.4L262.4 532.0L262.6 533.0L262.9 532.7L263.1 534.3L263.4 531.9L263.6 535.2L263.9 533.3L264.1 532.1L264.4 534.1L264.6 533.2L264.9 533.9L265.1 533.8L265.4 534.7L265.6 532.6L265.9 534.5L266.1 534.9L266.4 533.2L266.6 534.9L266.9 534.8L267.1 533.9L267.4 532.7L267.6 534.4L267.9 533.9L268.1 535.8L268.4 534.3L268.6 535.1L268.9 535.0L269.1 534.8L269.4 533.7L269.6 534.1L269.9 534.8L270.1 534.6L270.4 534.6L270.6 535.3L270.9 534.8L271.1 535.6L271.4 535.3L271.6 535.7L271.9 535.0L272.1 534.2L272.4 536.2L272.6 536.3L272.9 536.4L273.1 535.3L273.4 536.8L273.6 535.8L273.9 536.1L274.1 535.6L274.4 535.5L274.6 535.4L274.9 536.2L275.1 535.3L275.4 535.8L275.6 535.4L275.9 534.8L276.1 535.9L276.4 536.0L276.6 536.1L276.9 534.1L277.1 536.7L277.4 535.7L277.6 534.9L277.9 537.2L278.1 535.7L278.4 536.2L278.6 535.7L278.9 533.9L279.1 536.6L279.4 534.8L279.6 536.7L279.9 535.9L280.1 535.0L280.4 534.0L280.6 535.3L280.9 534.7L281.1 535.5L281.4 534.8L281.6 536.3L281.9 535.2L282.1 535.2L282.4 537.1L282.6 536.1L282.9 534.9L283.1 535.8L283.4 534.0L283.6 534.6L283.9 535.1L284.1 534.7L284.4 534.5L284.6 535.8L284.9 535.0L285.1 534.7L285.4 534.9L285.6 535.0L285.9 536.2L286.1 536.0L286.4 534.9L286.6 537.1L286.9 537.0L287.1 535.9L287.4 535.5L287.6 535.9L287.9 535.4L288.1 536.1L288.4 535.5L288.6 536.8L288.9 534.4L289.1 535.2L289.4 535.8L289.6 535.2L289.9 535.4L290.1 534.8L290.4 537.4L290.6 535.7L290.9 536.4L291.1 535.1L291.4 535.4L291.6 535.7L291.9 537.4L292.1 537.2L292.4 537.6L292.6 537.0L292.9 536.9L293.1 535.6L293.4 535.0L293.6 536.6L293.9 534.7L294.1 535.7L294.4 534.7L294.6 534.5L294.9 535.4L295.1 534.7L295.4 535.4L295.6 536.4L295.9 535.7L296.1 536.7L296.4 535.7L296.6 536.2L296.9 535.2L297.1 536.8L297.4 534.3L297.6 536.1L297.9 536.1L297.9 615.3L298.2 612.2L298.4 611.7L298.7 611.5L298.9 609.1L299.2 609.3L299.4 609.4L299.7 609.1L299.9 608.7L300.2 608.9L300.4 609.3L300.7 608.0L300.9 608.6L301.2 609.5L301.4 608.7L301.7 608.7L301.9 610.4L302.2 610.4L302.4 610.8L302.7 610.4L302.9 610.1L303.2 611.6L303.4 611.6L303.7 610.8L303.9 609.8L304.2 610.7L304.4 610.1L304.7 610.2L304.9 611.0L305.2 611.3L305.4 611.6L305.7 611.7L305.9 613.1L306.2 611.2L306.4 612.8L306.7 611.7L306.9 612.8L307.2 611.8L307.4 614.0L307.7 613.5L307.9 611.8L308.2 613.8L308.4 613.2L308.7 613.8L308.9 613.2L309.2 613.1L309.4 612.3L309.7 613.1L309.9 613.5L310.2 612.6L310.4 613.0L310.7 613.9L310.9 614.4L311.2 613.7L311.4 615.0L311.7 613.9L311.9 614.7L312.2 615.2L312.4 614.0L312.7 615.4L312.9 614.3L313.2 614.1L313.4 615.9L313.7 616.1L313.9 615.0L314.2 616.0L314.4 616.2L314.7 615.6L314.9 617.4L315.2 615.8L315.4 615.6L315.7 616.2L315.9 615.9L316.2 615.6L316.4 615.7L316.7 615.0L316.9 616.3L317.2 615.1L317.4 616.9L317.7 616.7L317.9 616.2L318.2 616.3L318.4 616.0L318.7 616.5L318.9 617.9L319.2 617.3L319.4 617.0L319.7 618.4L319.9 616.9L320.2 617.0L320.4 618.8L320.7 617.9L320.9 618.1L321.2 617.5L321.4 617.2L321.7 617.3L321.9 617.5L322.2 618.5L322.4 616.2L322.7 615.4L322.9 616.9L323.2 616.1L323.4 617.3L323.7 616.4L323.9 617.4L324.2 618.1L324.4 617.1L324.7 617.0L324.9 618.4L325.2 617.5L325.4 618.0L325.7 618.0L325.9 617.4L326.2 619.1L326.4 617.8L326.7 619.4L326.9 618.7L327.2 617.6L327.4 618.2L327.7 619.4L327.9 618.5L328.2 620.2L328.4 618.1L328.7 619.5L328.9 617.8L329.2 618.8L329.4 619.6L329.7 617.5L329.9 619.1L330.2 618.3L330.4 618.2L330.7 618.6L330.9 618.9L331.2 619.1L331.4 619.2L331.7 619.1L331.9 618.0L332.2 620.5L332.4 621.0L332.7 620.1L332.9 619.4L333.2 618.9L333.4 619.7L333.7 619.7L333.9 618.9L334.2 619.3L334.4 619.9L334.7 619.5L334.9 619.6L335.2 619.6L335.4 619.2L335.7 619.7L335.9 619.9L336.2 619.5L336.4 619.9L336.7 620.8L336.9 620.7L337.2 618.5L337.4 618.9L337.7 620.6L337.9 620.1L338.2 620.2L338.4 619.1L338.7 620.0L338.9 620.3L339.2 620.5L339.4 619.8L339.7 620.0L339.9 621.1L340.2 620.7L340.4 621.4L340.7 619.1L340.9 620.3L341.2 621.3L341.4 619.9L341.7 620.7L341.9 621.3L342.2 620.0L342.4 621.0L342.7 621.9L342.9 619.6L343.2 619.3L343.4 621.3L343.7 620.0L343.9 620.5L344.2 620.6L344.4 621.6L344.7 620.4L344.9 621.5L345.2 621.3L345.4 620.7L345.7 621.6L345.9 621.3L346.2 620.9L346.4 622.3L346.7 619.6L346.9 620.2L347.2 620.4L347.2 496.7L347.5 503.5L347.7 508.8L348.0 510.9L348.2 516.8L348.5 518.5L348.7 519.9L349.0 520.8L349.2 522.9L349.5 525.4L349.7 524.2L350.0 523.9L350.2 526.2L350.5 526.3L350.7 526.9L351.0 526.2L351.2 528.4L351.5 528.9L351.7 527.0L352.0 529.3L352.2 530.0L352.5 528.8L352.7 527.9L353.0 530.0L353.2 531.6L353.5 530.3L353.7 532.1L354.0 530.9L354.2 530.7L354.5 530.3L354.7 532.5L355.0 530.3L355.2 531.1L355.5 531.6L355.7 532.3L356.0 531.9L356.2 530.6L356.5 531.1L356.7 533.3L357.0 532.2L357.2 532.4L357.5 532.0L357.7 532.7L358.0 532.2L358.2 533.9L358.5 533.9L358.7 533.4L359.0 534.2L359.2 533.4L359.5 533.3L359.7 534.4L360.0 533.5L360.2 533.1L360.5 535.1L360.7 533.8L361.0 534.4L361.2 535.5L361.5 533.5L361.7 534.7L362.0 535.6L362.2 535.0L362.5 534.7L362.7 534.9L363.0 534.8L363.2 534.6L363.5 535.1L363.7 534.7L364.0 536.3L364.2 534.8L364.5 535.8L364.7 534.5L365.0 535.8L365.2 534.3L365.5 535.5L365.7 534.8L366.0 535.9L366.2 534.0L366.5 534.5L366.7 535.5L367.0 534.7L367.2 536.6L367.5 535.3L367.7 535.7L368.0 536.1L368.2 535.9L368.5 534.8L368.7 534.3L369.0 534.0L369.2 534.6L369.5 534.7L369.7 534.6L370.0 535.4L370.2 533.8L370.5 533.6L370.7 534.8L371.0 536.0L371.2 533.8L371.5 534.4L371.7 534.5L372.0 535.2L372.2 535.2L372.5 534.2L372.7 535.5L373.0 534.7L373.2 535.4L373.5 536.1L373.7 533.2L374.0 534.1L374.2 534.3L374.5 534.3L374.7 535.3L375.0 535.3L375.2 536.5L375.5 536.3L375.7 535.1L376.0 534.8L376.2 535.4L376.5 535.4L376.7 534.5L377.0 535.4L377.2 534.5L377.5 535.0L377.7 534.9L378.0 534.4L378.2 534.4L378.5 534.8L378.7 534.7L379.0 533.8L379.2 536.0L379.5 536.1L379.7 536.3L380.0 535.7L380.2 534.7L380.5 533.9L380.7 533.8L381.0 533.5L381.2 534.7L381.5 533.4L381.7 534.6L382.0 534.9L382.2 534.1L382.5 534.1L382.7 534.6L383.0 534.8L383.2 534.0L383.5 535.7L383.7 533.7L384.0 534.0L384.2 534.3L384.5 534.5L384.7 534.7L385.0 535.2L385.2 534.5L385.5 535.9L385.7 533.3L386.0 534.9L386.2 534.4L386.5 533.4L386.7 533.4L387.0 534.6L387.2 535.5L387.5 534.8L387.7 534.4L388.0 534.2L388.2 534.1L388.5 534.0L388.7 534.6L389.0 534.9L389.2 534.4L389.5 533.4L389.7 534.4L390.0 534.8L390.2 532.8L390.5 534.6L390.7 534.1L391.0 534.7L391.2 533.9L391.5 534.1L391.7 534.7L392.0 534.2L392.2 534.2L392.5 533.8L392.7 534.9L393.0 535.2L393.2 533.4L393.5 534.4L393.7 533.9L394.0 534.5L394.0 615.3L394.3 614.1L394.5 611.7L394.8 612.2L395.0 610.9L395.3 610.3L395.5 608.4L395.8 609.7L396.0 609.1L396.3 608.9L396.5 607.3L396.8 607.9L397.0 608.8L397.3 608.2L397.5 610.1L397.8 608.8L398.0 610.4L398.3 610.2L398.5 611.7L398.8 610.1L399.0 611.1L399.3 610.1L399.5 609.6L399.8 610.9L400.0 611.6L400.3 610.7L400.5 611.8L400.8 611.6L401.0 611.4L401.3 611.5L401.5 611.9L401.8 611.1L402.0 611.5L402.3 611.8L402.5 611.1L402.8 610.2L403.0 612.6L403.3 612.1L403.5 612.8L403.8 611.8L404.0 612.8L404.3 612.4L404.5 612.5L404.8 612.8L405.0 612.9L405.3 611.4L405.5 613.7L405.8 613.8L406.0 613.6L406.3 612.5L406.5 614.3L406.8 614.1L407.0 615.5L407.3 614.1L407.5 614.2L407.8 615.1L408.0 613.1L408.3 614.1L408.5 614.3L408.8 612.6L409.0 613.5L409.3 614.3L409.5 614.7L409.8 615.8L410.0 615.3L410.3 613.9L410.5 615.4L410.8 615.4L411.0 615.5L411.3 614.8L411.5 617.0L411.8 617.0L412.0 616.2L412.3 615.5L412.5 615.3L412.8 615.5L413.0 617.0L413.3 615.3L413.5 617.3L413.8 616.5L414.0 617.1L414.3 617.4L414.5 618.7L414.8 617.6L415.0 616.6L415.3 617.0L415.5 616.9L415.8 616.9L416.0 616.8L416.3 616.1L416.5 617.0L416.8 615.9L417.0 617.9L417.3 617.2L417.5 616.7L417.8 618.1L418.0 618.2L418.3 618.3L418.6 617.3L418.8 617.7L419.1 618.9L419.3 619.8L419.6 618.5L419.8 618.5L420.1 618.8L420.3 617.7L420.6 619.1L420.8 617.6L421.1 618.2L421.3 617.9L421.6 617.6L421.8 618.0L422.1 617.9L422.3 618.2L422.6 619.5L422.8 618.9L423.1 618.5L423.3 618.9L423.6 618.4L423.8 619.6L424.1 619.3L424.3 618.8L424.6 619.2L424.8 619.2L425.1 618.4L425.3 618.5L425.6 619.3L425.8 618.9L426.1 619.6L426.3 620.1L426.6 619.2L426.8 619.7L427.1 620.7L427.3 619.0L427.6 620.4L427.8 618.7L428.1 618.4L428.3 619.2L428.6 619.1L428.8 618.0L429.1 620.1L429.3 619.9L429.6 618.7L429.8 619.5L430.1 619.6L430.3 618.9L430.6 620.2L430.8 619.2L431.1 618.9L431.3 620.8L431.6 619.3L431.8 619.1L432.1 619.6L432.3 619.3L432.6 621.3L432.8 620.1L433.1 620.3L433.3 620.7L433.6 621.5L433.8 618.5L434.1 620.5L434.3 619.9L434.6 619.6L434.8 620.4L435.1 620.1L435.3 618.5L435.6 620.0L435.8 619.6L436.1 620.6L436.3 618.6L436.6 620.7L436.8 620.3L437.1 620.6L437.3 620.4L437.6 618.6L437.8 620.7L438.1 620.0L438.3 619.6L438.6 620.8L438.8 620.3L439.1 621.4L439.3 621.2L439.6 619.6L439.8 621.0L440.1 620.6L440.3 620.6L440.6 620.4L440.8 621.2L441.1 620.2L441.3 621.0L441.6 619.8L441.8 621.0L442.1 619.9L442.3 619.5L442.6 620.6L442.6 492.0L442.9 500.4L443.1 505.6L443.4 512.3L443.6 515.0L443.9 517.4L444.1 521.2L444.4 522.8L444.6 523.7L444.9 525.2L445.1 527.4L445.4 527.5L445.6 527.5L445.9 528.0L446.1 530.1L446.4 529.1L446.6 528.2L446.9 531.5L447.1 530.6L447.4 529.5L447.6 530.3L447.9 530.5L448.1 530.3L448.4 531.4L448.6 531.6L448.9 533.4L449.1 532.3L449.4 532.0L449.6 532.6L449.9 533.1L450.1 533.7L450.4 534.3L450.6 532.3L450.9 532.7L451.1 533.8L451.4 535.4L451.6 533.5L451.9 535.0L452.1 533.6L452.4 533.7L452.6 533.8L452.9 535.2L453.1 534.0L453.4 534.5L453.6 535.1L453.9 535.7L454.1 535.3L454.4 536.0L454.6 536.6L454.9 536.1L455.1 535.2L455.4 535.4L455.6 535.7L455.9 535.3L456.1 534.7L456.4 534.9L456.6 535.4L456.9 534.2L457.1 537.5L457.4 536.6L457.6 535.5L457.9 535.4L458.1 536.9L458.4 534.8L458.6 535.3L458.9 536.9L459.1 536.2L459.4 536.8L459.6 536.1L459.9 536.0L460.1 535.5L460.4 536.6L460.6 536.3L460.9 536.3L461.1 535.5L461.4 537.0L461.6 536.6L461.9 537.2L462.1 535.9L462.4 535.5L462.6 537.4L462.9 536.4L463.1 536.2L463.4 537.2L463.6 537.7L463.9 536.3L464.1 536.3L464.4 536.7L464.6 536.6L464.9 536.2L465.1 534.8L465.4 537.0L465.6 535.7L465.9 538.0L466.1 535.6L466.4 536.5L466.6 536.4L466.9 536.7L467.1 538.2L467.4 536.3L467.6 537.3L467.9 536.7L468.1 536.5L468.4 537.5L468.6 537.2L468.9 536.6L469.1 536.1L469.4 537.1L469.6 538.5L469.9 536.5L470.1 537.1L470.4 536.0L470.6 538.1L470.9 535.4L471.1 535.9L471.4 534.9L471.6 537.0L471.9 536.8L472.1 536.9L472.4 536.5L472.6 537.8L472.9 537.6L473.1 537.8L473.4 535.2L473.6 536.3L473.9 537.2L474.1 537.5L474.4 535.1L474.6 538.0L474.9 537.0L475.1 537.9L475.4 535.5L475.6 535.8L475.9 535.5L476.1 536.1L476.4 535.9L476.6 535.3L476.9 537.7L477.1 537.1L477.4 535.9L477.6 534.8L477.9 537.3L478.1 534.6L478.4 535.5L478.6 535.0L478.9 535.4L479.1 536.1L479.4 536.5L479.6 536.0L479.9 535.0L480.1 537.0L480.4 537.1L480.6 537.1L480.9 538.4L481.1 536.0L481.4 536.2L481.6 536.2L481.9 536.2L482.1 537.3L482.4 536.7L482.6 536.1L482.9 537.2L483.1 536.2L483.4 536.0L483.6 536.0L483.9 535.4L484.1 536.3L484.4 535.7L484.6 536.2L484.9 536.5L485.1 536.5L485.4 535.5L485.6 537.2L485.9 534.7L486.1 536.2L486.4 536.1L486.6 536.3L486.9 535.8L487.1 535.8L487.4 537.0L487.6 535.1L487.9 536.6L488.1 535.1L488.4 534.6L488.6 536.0L488.9 535.4L489.1 537.3L489.4 534.6L489.4 615.3L489.6 614.6L489.9 612.3L490.1 611.6L490.4 609.9L490.6 609.1L490.9 609.7L491.1 609.0L491.4 609.1L491.6 609.2L491.9 608.6L492.1 608.0L492.4 608.7L492.6 607.3L492.9 609.0L493.1 609.8L493.4 608.9L493.6 610.4L493.9 609.2L494.1 609.0L494.4 610.3L494.6 609.9L494.9 610.4L495.1 609.4L495.4 610.6L495.6 610.5L495.9 610.5L496.1 611.2L496.4 610.3L496.6 610.9L496.9 612.0L497.1 612.5L497.4 612.2L497.6 611.1L497.9 612.1L498.1 611.9L498.4 612.1L498.6 611.3L498.9 611.1L499.1 613.3L499.4 613.3L499.6 611.9L499.9 613.0L500.1 613.2L500.4 612.8L500.6 613.9L500.9 613.4L501.1 612.9L501.4 613.8L501.6 614.3L501.9 613.4L502.1 614.8L502.4 615.0L502.6 614.5L502.9 614.5L503.1 614.3L503.4 614.6L503.6 613.9L503.9 613.1L504.1 614.2L504.4 615.8L504.6 615.8L504.9 614.5L505.1 615.1L505.4 614.9L505.6 614.7L505.9 615.3L506.1 616.3L506.4 615.7L506.6 615.6L506.9 614.4L507.1 617.6L507.4 615.3L507.6 616.1L507.9 616.6L508.1 616.1L508.4 616.8L508.6 614.8L508.9 615.6L509.1 615.9L509.4 615.4L509.6 615.3L509.9 617.3L510.1 616.1L510.4 617.5L510.6 617.4L510.9 616.5L511.1 615.7L511.4 616.3L511.6 616.2L511.9 616.1L512.1 616.2L512.4 616.9L512.6 616.7L512.9 617.1L513.1 617.1L513.4 618.1L513.6 619.0L513.9 617.7L514.1 617.5L514.4 617.5L514.6 618.5L514.9 618.3L515.1 618.1L515.4 618.0L515.6 618.4L515.9 618.6L516.1 617.7L516.4 618.6L516.6 617.1L516.9 617.9L517.1 618.7L517.4 617.4L517.6 617.7L517.9 619.3L518.1 617.6L518.4 618.8L518.6 620.4L518.9 619.1L519.1 620.2L519.4 620.1L519.6 618.3L519.9 618.7L520.1 619.2L520.4 619.8L520.6 620.0L520.9 619.6L521.1 619.5L521.4 618.6L521.6 619.9L521.9 618.7L522.1 619.6L522.4 619.8L522.6 618.0L522.9 620.4L523.1 619.0L523.4 619.8L523.6 620.0L523.9 620.7L524.1 620.8L524.4 621.1L524.6 620.7L524.9 619.5L525.1 619.9L525.4 620.4L525.6 620.7L525.9 620.0L526.1 619.1L526.4 619.1L526.6 619.8L526.9 621.3L527.1 619.8L527.4 619.5L527.6 620.0L527.9 620.1L528.1 619.7L528.4 618.1L528.6 619.2L528.9 619.3L529.1 620.2L529.4 619.5L529.6 620.2L529.9 619.9L530.1 620.3L530.4 622.2L530.6 621.4L530.9 621.1L531.1 620.1L531.4 620.0L531.6 621.3L531.9 620.3L532.1 620.9L532.4 620.8L532.6 620.7L532.9 619.2L533.1 621.2L533.4 621.6L533.6 620.5L533.9 620.5L534.1 620.7L534.4 620.1L534.6 619.0L534.9 619.9L535.1 620.4L535.4 621.4L535.6 620.2L535.9 620.8L536.1 621.1L536.4 621.4L536.6 622.2L536.9 621.2L536.9 493.6L537.1 501.0L537.4 506.4L537.6 510.3L537.9 513.3L538.1 517.3L538.4 520.0L538.6 520.2L538.9 524.6L539.1 524.1L539.4 526.0L539.6 527.7L539.9 528.5L540.1 527.7L540.4 529.1L540.6 529.5L540.9 529.0L541.1 529.8L541.4 529.3L541.6 530.3L541.9 530.0L542.1 530.4L542.4 530.9L542.6 531.8L542.9 531.4L543.1 531.4L543.4 531.3L543.6 533.7L543.9 531.7L544.1 532.9L544.4 531.5L544.6 533.0L544.9 531.9L545.1 532.5L545.4 533.9L545.6 534.9L545.9 533.9L546.1 534.4L546.4 534.2L546.6 533.6L546.9 534.5L547.1 535.6L547.4 535.2L547.6 534.6L547.9 534.5L548.1 535.3L548.4 535.0L548.6 536.1L548.9 534.0L549.1 535.7L549.4 534.1L549.6 535.0L549.9 536.7L550.1 535.9L550.4 534.4L550.6 534.5L550.9 535.5L551.1 535.6L551.4 535.4L551.6 535.8L551.9 535.0L552.1 533.7L552.4 536.6L552.6 535.4L552.9 536.5L553.1 536.1L553.4 535.8L553.6 535.5L553.9 536.8L554.1 536.9L554.4 537.1L554.6 536.8L554.9 536.5L555.1 535.7L555.4 536.3L555.6 536.6L555.9 534.4L556.1 535.3L556.4 536.3L556.6 537.1L556.9 537.4L557.1 537.7L557.4 535.6L557.6 536.2L557.9 535.7L558.1 535.4L558.4 535.7L558.6 536.1L558.9 536.9L559.1 535.1L559.4 536.2L559.6 535.7L559.9 537.8L560.1 538.0L560.4 536.2L560.6 535.9L560.9 537.1L561.1 537.3L561.3 535.7L561.6 536.2L561.8 536.5L562.1 535.4L562.3 537.6L562.6 536.5L562.8 536.3L563.1 535.3L563.3 537.0L563.6 535.0L563.8 535.5L564.1 535.9L564.3 536.2L564.6 535.2L564.8 535.9L565.1 537.0L565.3 536.7L565.6 536.7L565.8 537.7L566.1 537.1L566.3 537.7L566.6 536.8L566.8 535.8L567.1 538.0L567.3 535.4L567.6 535.6L567.8 535.6L568.1 538.4L568.3 536.7L568.6 537.4L568.8 535.5L569.1 535.9L569.3 536.8L569.6 536.3L569.8 536.7L570.1 537.1L570.3 536.6L570.6 536.6L570.8 536.5L571.1 535.8L571.3 536.2L571.6 536.9L571.8 535.2L572.1 536.1L572.3 536.4L572.6 535.7L572.8 535.8L573.1 537.4L573.3 536.8L573.6 537.4L573.8 537.1L574.1 535.2L574.3 535.0L574.6 535.3L574.8 536.2L575.1 533.8L575.3 535.8L575.6 536.6L575.8 535.8L576.1 536.2L576.3 535.8L576.6 534.3L576.8 536.3L577.1 535.5L577.3 535.9L577.6 535.5L577.8 536.9L578.1 535.5L578.3 535.3L578.6 535.2L578.8 534.8L579.1 535.5L579.3 536.1L579.6 535.5L579.8 533.9L580.1 535.1L580.3 537.4L580.6 535.3L580.8 535.6L581.1 534.0L581.3 535.2L581.6 534.8L581.8 536.1L582.1 536.1L582.3 535.9L582.6 536.1L582.8 535.1L583.1 536.9L583.3 535.3L583.6 536.1L583.8 537.0L584.1 534.7L584.3 535.5L584.6 535.5L584.8 535.6L585.1 535.9L585.3 535.7L585.3 615.3L585.5 613.0L585.8 611.1L586.0 610.1L586.3 609.5L586.5 610.5L586.8 607.8L587.0 609.2L587.3 610.5L587.5 609.4L587.8 610.8L588.0 609.6L588.3 609.6L588.5 610.2L588.8 609.5L589.0 610.1L589.3 610.4L589.5 609.4L589.8 610.2L590.0 610.5L590.3 608.9L590.5 609.6L590.8 609.9L591.0 609.1L591.3 610.6L591.5 611.0L591.8 610.0L592.0 611.0L592.3 610.8L592.5 611.4L592.8 611.8L593.0 611.8L593.3 612.2L593.5 611.8L593.8 613.1L594.0 613.1L594.3 612.0L594.5 613.0L594.8 614.4L595.0 612.5L595.3 614.1L595.5 614.6L595.8 612.9L596.0 613.6L596.3 611.6L596.5 614.1L596.8 613.8L597.0 614.2L597.3 613.5L597.5 614.3L597.8 614.8L598.0 614.7L598.3 614.2L598.5 614.5L598.8 614.7L599.0 614.6L599.3 614.6L599.5 614.4L599.8 615.1L600.0 614.4L600.3 615.1L600.5 614.3L600.8 614.3L601.0 614.9L601.3 615.0L601.5 616.6L601.8 615.2L602.0 616.0L602.3 615.6L602.5 615.7L602.8 615.3L603.0 616.0L603.3 615.7L603.5 614.7L603.8 616.2L604.0 615.7L604.3 614.7L604.5 615.2L604.8 616.2L605.0 616.5L605.3 616.1L605.5 617.0L605.8 616.8L606.0 615.1L606.3 615.8L606.5 617.1L606.8 616.3L607.0 616.6L607.3 617.1L607.5 616.9L607.8 616.6L608.0 616.3L608.3 618.6L608.5 616.2L608.8 617.1L609.0 618.3L609.3 617.6L609.5 617.0L609.8 616.9L610.0 618.8L610.3 618.6L610.5 616.8L610.8 617.2L611.0 618.7L611.3 619.2L611.5 617.8L611.8 619.0L612.0 616.9L612.3 616.8L612.5 617.1L612.8 618.5L613.0 618.0L613.3 618.7L613.5 616.7L613.8 619.1L614.0 617.7L614.3 619.8L614.5 618.3L614.8 617.0L615.0 618.6L615.3 617.6L615.5 619.4L615.8 618.4L616.0 619.1L616.3 617.6L616.5 617.9L616.8 618.6L617.0 618.4L617.3 618.1L617.5 619.3L617.8 619.9L618.0 619.0L618.3 618.9L618.5 618.9L618.8 619.6L619.0 619.2L619.3 619.5L619.5 619.8L619.8 618.9L620.0 619.0L620.3 619.1L620.5 620.5L620.8 619.4L621.0 619.5L621.3 619.3L621.5 620.6L621.8 620.3L622.0 619.2L622.3 620.6L622.5 620.3L622.8 621.0L623.0 620.6L623.3 620.1L623.5 619.4L623.8 620.6L624.0 620.8L624.3 619.5L624.5 619.9L624.8 620.3L625.0 619.8L625.3 620.4L625.5 620.0L625.8 619.8L626.0 621.2L626.3 619.2L626.5 620.9L626.8 619.8L627.0 620.3L627.3 619.9L627.5 620.2L627.8 619.7L628.0 620.3L628.3 618.9L628.5 619.3L628.8 619.9L629.0 620.4L629.3 619.5L629.5 621.6L629.8 619.8L630.0 620.7L630.3 619.1L630.5 619.7L630.8 619.9L631.0 620.0L631.3 619.8L631.5 620.7L631.8 620.5L632.0 621.9L632.3 620.6L632.5 621.1L632.8 619.3L633.0 621.8L633.0 493.6L633.3 501.9L633.5 508.8L633.8 513.5L634.0 515.7L634.3 517.9L634.5 520.4L634.8 523.0L635.0 523.8L635.3 526.0L635.5 526.8L635.8 526.4L636.0 527.2L636.3 529.4L636.5 529.9L636.8 529.8L637.0 531.5L637.3 530.6L637.5 530.7L637.8 531.3L638.0 532.1L638.3 530.4L638.5 532.6L638.8 532.7L639.0 532.0L639.3 532.2L639.5 533.9L639.8 532.3L640.0 532.5L640.3 533.7L640.5 532.1L640.8 535.1L641.0 533.0L641.3 533.2L641.5 532.7L641.8 533.7L642.0 533.7L642.3 534.0L642.5 533.6L642.8 532.8L643.0 535.7L643.3 535.4L643.5 535.3L643.8 535.2L644.0 535.3L644.3 534.3L644.5 536.6L644.8 534.5L645.0 534.0L645.3 536.8L645.5 535.1L645.8 535.6L646.0 534.9L646.3 535.5L646.5 536.2L646.8 536.0L647.0 534.8L647.3 536.2L647.5 535.0L647.8 534.4L648.0 536.4L648.3 536.0L648.5 535.6L648.8 535.2L649.0 536.7L649.3 536.0L649.5 535.8L649.8 536.8L650.0 536.4L650.3 535.2L650.5 537.1L650.8 534.8L651.0 535.3L651.3 536.0L651.5 535.7L651.8 536.2L652.0 536.0L652.3 533.7L652.5 536.7L652.8 535.2L653.0 535.8L653.3 535.4L653.5 535.3L653.8 536.7L654.0 536.6L654.3 536.7L654.5 535.9L654.8 537.7L655.0 536.7L655.3 536.5L655.5 536.1L655.8 536.4L656.0 537.1L656.3 536.8L656.5 537.0L656.8 536.2L657.0 536.0L657.3 535.1L657.5 535.7L657.8 535.2L658.0 535.0L658.3 535.7L658.5 535.4L658.8 534.8L659.0 534.1L659.3 535.2L659.5 535.5L659.8 535.9L660.0 535.0L660.3 534.5L660.5 534.2L660.8 535.7L661.0 535.1L661.3 536.1L661.5 534.5L661.8 536.9L662.0 535.7L662.3 535.9L662.5 536.1L662.8 536.6L663.0 536.8L663.3 534.7L663.5 535.8L663.8 536.3L664.0 536.3L664.3 535.7L664.5 534.8L664.8 535.6L665.0 535.2L665.3 535.4L665.5 536.3L665.8 535.4L666.0 536.1L666.3 537.1L666.5 536.4L666.8 534.6L667.0 534.6L667.3 533.6L667.5 536.1L667.8 534.9L668.0 534.4L668.3 534.6L668.5 534.0L668.8 535.4L669.0 534.1L669.3 535.6L669.5 535.1L669.8 534.8L670.0 535.3L670.3 534.7L670.5 534.8L670.8 535.9L671.0 536.2L671.3 535.4L671.5 536.0L671.8 533.6L672.0 534.8L672.3 534.6L672.5 534.3L672.8 535.3L673.0 536.5L673.3 535.2L673.5 535.6L673.8 535.9L674.0 535.9L674.3 534.9L674.5 534.5L674.8 535.8L675.0 535.4L675.3 534.6L675.5 536.2L675.8 534.2L676.0 534.0L676.3 534.9L676.5 533.6L676.8 534.7L677.0 534.7L677.3 534.3L677.5 534.7L677.8 533.5L678.0 532.5L678.3 534.8L678.5 534.9L678.8 534.7L679.0 533.8L679.3 534.3L679.3 615.3L679.5 613.0L679.8 611.3L680.0 610.6L680.3 609.0L680.5 608.4L680.8 609.7L681.0 608.5L681.3 609.1L681.5 608.1L681.8 607.8L682.0 607.9L682.3 608.3L682.5 609.8L682.8 608.6L683.0 609.4L683.3 609.2L683.5 609.9L683.8 609.1L684.0 611.0L684.3 610.6L684.5 610.4L684.8 611.4L685.0 609.8L685.3 610.3L685.5 611.1L685.8 612.1L686.0 610.6L686.3 612.3L686.5 611.7L686.8 610.4L687.0 611.4L687.3 612.1L687.5 611.0L687.8 612.9L688.0 611.0L688.3 613.3L688.5 613.3L688.8 613.8L689.0 613.6L689.3 613.2L689.5 611.9L689.8 614.5L690.0 613.8L690.3 613.7L690.5 613.1L690.8 612.0L691.0 613.8L691.3 613.0L691.5 613.6L691.8 613.9L692.0 612.7L692.3 614.0L692.5 613.0L692.8 613.4L693.0 614.6L693.3 613.2L693.5 614.0L693.8 614.5L694.0 615.6L694.3 615.1L694.5 615.7L694.8 614.4L695.0 614.1L695.3 615.0L695.5 616.2L695.8 615.4L696.0 614.6L696.3 614.5L696.5 615.8L696.8 615.6L697.0 614.1L697.3 613.9L697.5 616.8L697.8 615.8L698.0 615.9L698.3 616.3L698.5 616.2L698.8 616.2L699.0 616.2L699.3 614.9L699.5 616.2L699.8 616.1L700.0 617.3L700.3 617.4L700.5 616.4L700.8 616.8L701.0 616.9L701.3 618.2L701.5 617.2L701.8 616.1L702.0 617.6L702.3 615.7L702.5 617.2L702.8 616.8L703.0 616.3L703.3 617.0L703.5 617.3L703.8 618.2L704.0 618.4L704.3 616.4L704.5 617.4L704.8 618.2L705.0 617.6L705.3 617.7L705.5 617.9L705.8 618.2L706.0 618.7L706.3 617.8L706.5 616.6L706.8 618.5L707.0 618.1L707.3 617.4L707.5 618.7L707.8 618.1L708.0 618.5L708.3 616.9L708.5 618.7L708.8 618.6L709.0 618.8L709.3 618.3L709.5 618.2L709.8 619.6L710.0 619.4L710.3 618.9L710.5 618.3L710.8 619.1L711.0 618.2L711.3 619.0L711.5 617.9L711.8 618.4L712.0 618.5L712.3 618.0L712.5 618.7L712.8 617.7L713.0 619.7L713.3 618.6L713.5 618.9L713.8 618.9L714.0 619.1L714.3 618.8L714.5 619.7L714.8 619.1L715.0 619.3L715.3 619.7L715.5 619.5L715.8 619.3L716.0 620.3L716.3 621.1L716.5 619.3L716.8 620.5L717.0 619.1L717.3 619.3L717.5 618.7L717.8 619.1L718.0 619.0L718.3 619.5L718.5 619.2L718.8 620.7L719.0 618.9L719.3 620.0L719.5 620.2L719.8 618.2L720.0 618.4L720.3 620.2L720.5 619.1L720.8 619.7L721.0 618.5L721.3 619.5L721.5 620.0L721.8 621.2L722.0 621.7L722.3 620.0L722.5 621.5L722.8 620.6L723.0 620.5L723.3 620.2L723.5 620.2L723.8 619.5L724.0 620.5L724.3 619.8L724.5 620.6L724.8 622.1L725.0 619.6L725.3 621.8L725.5 619.9L725.8 620.1L726.0 621.2L726.3 620.9L726.5 621.5L726.8 621.5L727.0 620.3L727.3 620.0L727.5 621.0L727.8 620.9L727.8 492.0L728.0 499.1L728.3 506.0L728.5 511.4L728.8 516.0L729.0 516.6L729.3 519.8L729.5 522.1L729.8 522.6L730.0 523.2L730.3 525.5L730.5 524.2L730.8 526.8L731.0 526.3L731.3 526.9L731.5 527.2L731.8 527.8L732.0 529.2L732.3 528.7L732.5 529.9L732.8 530.0L733.0 529.5L733.3 530.0L733.5 530.6L733.8 530.5L734.0 532.0L734.3 530.5L734.5 532.9L734.8 531.1L735.0 530.9L735.3 531.7L735.5 530.7L735.8 533.4L736.0 533.6L736.3 533.5L736.5 533.8L736.8 533.7L737.0 531.4L737.3 533.4L737.5 532.3L737.8 533.8L738.0 533.0L738.3 533.0L738.5 532.7L738.8 534.0L739.0 534.8L739.3 533.2L739.5 534.4L739.8 534.4L740.0 534.1L740.3 534.1L740.5 535.1L740.8 535.1L741.0 534.5L741.3 534.6L741.5 534.7L741.8 533.5L742.0 534.0L742.3 534.2L742.5 533.8L742.8 535.2L743.0 536.4L743.3 536.7L743.5 534.7L743.8 534.6L744.0 534.3L744.3 535.5L744.5 534.7L744.8 535.9L745.0 534.1L745.3 535.0L745.5 534.6L745.8 535.4L746.0 535.1L746.3 533.7L746.5 536.0L746.8 535.2L747.0 535.2L747.3 535.3L747.5 534.8L747.8 535.5L748.0 536.2L748.3 536.6L748.5 535.4L748.8 534.8L749.0 536.2L749.3 534.9L749.5 534.8L749.8 534.8L750.0 535.4L750.3 534.1L750.5 535.0L750.7 534.9L751.0 534.5L751.2 536.3L751.5 533.7L751.7 535.0L752.0 535.0L752.2 535.1L752.5 536.3L752.7 533.7L753.0 535.0L753.2 534.6L753.5 534.1L753.7 534.6L754.0 535.5L754.2 534.9L754.5 536.5L754.7 533.5L755.0 535.1L755.2 535.1L755.5 535.0L755.7 535.6L756.0 535.0L756.2 535.7L756.5 535.2L756.7 535.2L757.0 534.8L757.2 535.0L757.5 535.8L757.7 534.7L758.0 535.5L758.2 534.6L758.5 534.7L758.7 535.6L759.0 533.6L759.2 534.6L759.5 535.7L759.7 535.3L760.0 535.2L760.2 536.0L760.5 534.7L760.7 535.2L761.0 536.4L761.2 534.1L761.5 535.1L761.7 535.2L762.0 535.1L762.2 535.3L762.5 534.0L762.7 534.7L763.0 534.6L763.2 535.1L763.5 535.0L763.7 536.3L764.0 535.6L764.2 536.5L764.5 535.9L764.7 535.5L765.0 535.8L765.2 536.1L765.5 534.2L765.7 533.7L766.0 533.9L766.2 535.7L766.5 534.7L766.7 534.8L767.0 535.2L767.2 535.8L767.5 534.9L767.7 534.6L768.0 534.8L768.2 535.9L768.5 535.2L768.7 535.5L769.0 535.8L769.2 534.8L769.5 534.6L769.7 534.1L770.0 534.5L770.2 533.9L770.5 534.9L770.7 533.8L771.0 534.8L771.2 534.0L771.5 535.0L771.7 533.5L772.0 534.5L772.2 535.0L772.5 533.1L772.7 534.5L773.0 533.8L773.2 533.7L773.2 615.3L773.5 612.8L773.7 612.2L774.0 610.9L774.2 611.4L774.5 611.0L774.7 609.8L775.0 609.9L775.2 609.1L775.5 608.8L775.7 610.0L776.0 608.9L776.2 610.2L776.5 611.0L776.7 608.9L777.0 610.2L777.2 609.6L777.5 610.4L777.7 608.8L778.0 610.7L778.2 609.9L778.5 610.9L778.7 610.9L779.0 611.5L779.2 611.0L779.5 611.3L779.7 611.0L780.0 610.3L780.2 610.9L780.5 610.8L780.7 611.1L781.0 611.3L781.2 611.7L781.5 612.3L781.7 613.2L782.0 611.3L782.2 612.3L782.5 612.7L782.7 612.6L783.0 613.4L783.2 611.4L783.5 613.6L783.7 612.9L784.0 611.9L784.2 613.2L784.5 614.8L784.7 613.3L785.0 614.9L785.2 615.2L785.5 613.7L785.7 613.4L786.0 614.0L786.2 614.5L786.5 614.8L786.7 613.8L787.0 613.0L787.2 614.5L787.5 612.5L787.7 613.7L788.0 614.2L788.2 614.5L788.5 613.8L788.7 614.4L789.0 614.8L789.2 614.4L789.5 614.0L789.7 615.2L790.0 614.7L790.2 614.2L790.5 614.6L790.7 616.5L791.0 615.2L791.2 615.9L791.5 615.3L791.7 615.6L792.0 615.7L792.2 615.6L792.5 616.5L792.7 616.9L793.0 617.1L793.2 616.2L793.5 616.1L793.7 615.5L794.0 617.7L794.2 617.0L794.5 616.5L794.7 616.6L795.0 618.0L795.2 617.4L795.5 617.9L795.7 617.4L796.0 618.0L796.2 617.2L796.5 615.5L796.7 618.0L797.0 616.0L797.2 618.2L797.5 617.7L797.8 617.2L798.0 617.7L798.3 617.5L798.5 618.5L798.8 618.6L799.0 617.4L799.3 616.9L799.5 619.0L799.8 618.4L800.0 617.1L800.3 618.9L800.5 618.9L800.8 618.5L801.0 618.7L801.3 617.9L801.5 616.8L801.8 618.7L802.0 617.9L802.3 619.7L802.5 618.2L802.8 619.1L803.0 618.3L803.3 618.2L803.5 618.9L803.8 620.8L804.0 619.4L804.3 618.2L804.5 620.4L804.8 620.4L805.0 619.0L805.3 619.3L805.5 619.3L805.8 618.6L806.0 619.0L806.3 617.7L806.5 619.1L806.8 619.6L807.0 618.5L807.3 619.6L807.5 619.7L807.8 619.7L808.0 620.3L808.3 619.4L808.5 618.7L808.8 619.7L809.0 619.3L809.3 617.6L809.5 619.2L809.8 618.8L810.0 619.4L810.3 619.7L810.5 620.9L810.8 620.2L811.0 619.5L811.3 619.6L811.5 620.0L811.8 620.0L812.0 621.2L812.3 618.9L812.5 619.3L812.8 620.5L813.0 619.8L813.3 620.4L813.5 619.3L813.8 619.4L814.0 621.2L814.3 620.2L814.5 621.2L814.8 620.3L815.0 620.8L815.3 621.4L815.5 620.0L815.8 619.9L816.0 621.1L816.3 620.3L816.5 620.3L816.8 621.0L817.0 619.8L817.3 620.5L817.5 619.7L817.8 619.7L818.0 621.1L818.3 621.6L818.5 620.9L818.8 619.8L819.0 620.6L819.3 620.6L819.5 620.4L819.8 621.4L820.0 620.0L820.3 620.8L820.5 620.5L820.8 620.8L821.0 620.9L821.3 621.6L821.3 494.7L821.5 503.4L821.8 508.7L822.0 513.3L822.3 515.0L822.5 517.2L822.8 521.2L823.0 521.8L823.3 521.7L823.5 525.2L823.8 524.8L824.0 527.7L824.3 528.3L824.5 526.6L824.8 529.1L825.0 529.1L825.3 529.8L825.5 528.6L825.8 528.8L826.0 531.1L826.3 529.1L826.5 530.9L826.8 531.4L827.0 532.2L827.3 532.2L827.5 533.8L827.8 533.3L828.0 532.3L828.3 532.4L828.5 532.1L828.8 533.1L829.0 534.6L829.3 533.6L829.5 533.2L829.8 532.4L830.0 531.7L830.3 533.6L830.5 533.2L830.8 534.1L831.0 533.2L831.3 535.0L831.5 534.2L831.8 534.2L832.0 535.1L832.3 534.7L832.5 535.0L832.8 534.7L833.0 535.7L833.3 534.0L833.5 535.3L833.8 535.6L834.0 535.8L834.3 535.5L834.5 536.2L834.8 535.4L835.0 536.9L835.3 534.7L835.5 533.6L835.8 533.5L836.0 534.0L836.3 535.7L836.5 534.5L836.8 534.6L837.0 536.4L837.3 534.3L837.5 536.1L837.8 536.5L838.0 536.8L838.3 535.8L838.5 534.4L838.8 534.9L839.0 536.9L839.3 537.2L839.5 535.5L839.8 536.7L840.0 536.5L840.3 535.8L840.5 536.8L840.8 535.4L841.0 536.6L841.3 536.8L841.5 535.9L841.8 535.7L842.0 537.5L842.3 535.6L842.5 535.7L842.8 535.0L843.0 535.8L843.3 535.8L843.5 535.6L843.8 537.1L844.0 536.3L844.3 537.0L844.5 535.5L844.8 536.6L845.0 538.1L845.3 537.5L845.5 536.9L845.8 537.4L846.0 537.1L846.3 536.8L846.5 536.6L846.8 536.5L847.0 535.8L847.3 537.7L847.5 538.3L847.8 536.8L848.0 536.5L848.3 537.9L848.5 536.5L848.8 536.4L849.0 536.3L849.3 536.2L849.5 535.9L849.8 536.8L850.0 535.3L850.3 537.4L850.5 537.8L850.8 536.8L851.0 536.7L851.3 538.2L851.5 536.4L851.8 536.1L852.0 537.0L852.3 535.4L852.5 534.7L852.8 536.2L853.0 535.8L853.3 535.7L853.5 535.6L853.8 535.7L854.0 535.9L854.3 534.3L854.5 536.6L854.8 535.6L855.0 535.8L855.3 535.8L855.5 536.7L855.8 536.4L856.0 538.1L856.3 534.8L856.5 537.1L856.8 537.4L857.0 534.6L857.3 536.8L857.5 536.3L857.8 536.3L858.0 536.1L858.3 536.4L858.5 535.9L858.8 535.4L859.0 537.2L859.3 536.4L859.5 537.1L859.8 538.0L860.0 535.4L860.3 535.7L860.5 535.8L860.8 536.4L861.0 537.7L861.3 536.8L861.5 537.4L861.8 538.1L862.0 534.8L862.3 535.8L862.5 535.6L862.8 536.3L863.0 534.9L863.3 537.0L863.5 534.9L863.8 534.4L864.0 534.4L864.3 534.4L864.5 535.5L864.8 535.0L865.0 536.0L865.3 535.1L865.3 615.3L865.5 611.9L865.8 611.6L866.0 610.0L866.3 609.5L866.5 607.4L866.8 609.5L867.0 609.2L867.3 610.1L867.5 608.1L867.8 609.1L868.0 609.2L868.3 609.0L868.5 609.7L868.8 609.7L869.0 610.1L869.3 609.7L869.5 610.2L869.8 609.5L870.0 609.7L870.3 610.2L870.5 610.3L870.8 610.1L871.0 610.8L871.3 609.7L871.5 609.7L871.8 609.3L872.0 611.7L872.3 612.3L872.5 611.3L872.8 611.6L873.0 610.6L873.3 611.5L873.5 612.4L873.8 611.7L874.0 610.6L874.3 611.9L874.5 612.2L874.8 613.1L875.0 613.6L875.3 612.4L875.5 613.0L875.8 613.6L876.0 612.4L876.3 613.2L876.5 611.9L876.8 613.4L877.0 614.2L877.3 614.0L877.5 614.2L877.8 613.3L878.0 613.4L878.3 614.8L878.5 614.6L878.8 614.1L879.0 614.6L879.3 613.6L879.5 613.5L879.8 614.4L880.0 614.1L880.3 614.5L880.5 615.6L880.8 614.4L881.0 614.4L881.3 615.8L881.5 613.9L881.8 614.4L882.0 614.4L882.3 614.8L882.5 616.6L882.8 614.0L883.0 616.4L883.3 614.8L883.5 614.8L883.8 616.0L884.0 616.0L884.3 616.2L884.5 615.5L884.8 616.7L885.0 615.4L885.3 616.8L885.5 618.0L885.8 615.6L886.0 616.7L886.3 616.5L886.5 615.5L886.8 616.7L887.0 617.5L887.3 617.5L887.5 617.2L887.8 616.3L888.0 616.7L888.3 616.3L888.5 617.9L888.8 616.5L889.0 616.1L889.3 616.5L889.5 618.3L889.8 616.1L890.0 618.0L890.3 617.9L890.5 616.9L890.8 617.6L891.0 616.4L891.3 617.8L891.5 618.0L891.8 617.1L892.0 618.0L892.3 617.9L892.5 618.4L892.8 618.6L893.0 618.9L893.3 618.0L893.5 618.5L893.8 618.9L894.0 619.3L894.3 618.3L894.5 617.8L894.8 617.7L895.0 618.3L895.3 617.2L895.5 617.6L895.8 618.9L896.0 619.9L896.3 619.5L896.5 617.9L896.8 619.3L897.0 618.6L897.3 618.1L897.5 619.6L897.8 619.1L898.0 619.1L898.3 618.8L898.5 619.3L898.8 618.3L899.0 618.4L899.3 618.5L899.5 619.5L899.8 619.4L900.0 620.1L900.3 619.2L900.5 619.0L900.8 619.5L901.0 619.4L901.3 619.5L901.5 620.8L901.8 619.7L902.0 617.9L902.3 619.3L902.5 620.1L902.8 620.0L903.0 620.0L903.3 619.5L903.5 620.6L903.8 619.1L904.0 620.1L904.3 620.3L904.5 620.4L904.8 621.1L905.0 619.1L905.3 619.1L905.5 619.8L905.8 619.9L906.0 620.0L906.3 619.2L906.5 619.5L906.8 620.7L907.0 620.0L907.3 620.3L907.5 620.6L907.8 621.6L908.0 620.3L908.3 620.4L908.5 619.1L908.8 620.3L909.0 620.7L909.3 620.8L909.5 619.8L909.8 619.5L910.0 619.9L910.3 619.2L910.5 619.9L910.8 620.4L911.0 620.9L911.3 621.8L911.5 620.9L911.8 620.1L912.0 620.9L912.3 620.4L912.5 621.3L912.8 621.5L913.0 619.6L913.3 620.7L913.5 622.4L913.8 621.8L914.0 620.8L914.3 619.3L914.5 621.5L914.8 621.3L915.0 620.9L915.3 621.4L915.5 621.1L915.8 621.1L916.0 620.5L916.0 491.0L916.3 499.0L916.5 505.7L916.8 511.0L917.0 513.3L917.3 516.1L917.5 519.2L917.8 520.7L918.0 523.7L918.3 523.4L918.5 524.2L918.8 527.1L919.0 526.1L919.3 527.9L919.5 527.6L919.8 528.9L920.0 530.2L920.3 530.3L920.5 529.0L920.8 530.0L921.0 530.4L921.3 529.7L921.5 531.1L921.8 531.2L922.0 531.4L922.3 530.5L922.5 531.1L922.8 530.2L923.0 530.9L923.3 532.5L923.5 531.7L923.8 532.4L924.0 531.9L924.3 532.3L924.5 531.9L924.8 533.4L925.0 532.7L925.3 533.4L925.5 534.2L925.8 533.7L926.0 533.9L926.3 535.8L926.5 534.5L926.8 535.4L927.0 535.3L927.3 535.0L927.5 534.7L927.8 533.0L928.0 534.7L928.3 533.7L928.5 533.6L928.8 534.6L929.0 535.8L929.3 535.4L929.5 535.4L929.8 535.6L930.0 535.9L930.3 534.4L930.5 534.6L930.8 535.5L931.0 536.5L931.3 535.6L931.5 535.0L931.8 535.4L932.0 535.4L932.3 535.1L932.5 534.6L932.8 536.9L933.0 535.7L933.3 534.2L933.5 535.6L933.8 535.8L934.0 536.0L934.3 534.8L934.5 534.2L934.8 537.5L935.0 534.6L935.3 534.4L935.5 535.7L935.8 536.6L936.0 536.5L936.3 535.0L936.5 535.7L936.8 535.2L937.0 535.8L937.3 535.2L937.5 537.7L937.8 537.1L938.1 536.0L938.3 536.0L938.6 537.3L938.8 535.4L939.1 535.8L939.3 535.8L939.6 536.0L939.8 537.2L940.1 535.4L940.3 535.1L940.6 535.1L940.8 535.5L941.1 534.9L941.3 535.1L941.6 535.6L941.8 536.4L942.1 536.2L942.3 535.6L942.6 535.9L942.8 535.9L943.1 535.9L943.3 535.2L943.6 536.5L943.8 536.1L944.1 536.0L944.3 536.1L944.6 536.9L944.8 536.7L945.1 535.5L945.3 536.0L945.6 535.4L945.8 534.6L946.1 535.2L946.3 537.9L946.6 534.8L946.8 536.2L947.1 536.9L947.3 536.5L947.6 536.6L947.8 535.9L948.1 535.9L948.3 535.8L948.6 535.5L948.8 536.2L949.1 537.0L949.3 537.0L949.6 537.8L949.8 536.9L950.1 538.3L950.3 536.7L950.6 535.5L950.8 535.2L951.1 536.5L951.3 537.1L951.6 537.1L951.8 536.4L952.1 537.7L952.3 536.8L952.6 536.4L952.8 536.6L953.1 536.6L953.3 536.9L953.6 535.4L953.8 535.4L954.1 537.1L954.3 535.6L954.6 536.9L954.8 536.5L955.1 536.2L955.3 537.0L955.6 535.9L955.8 536.8L956.1 536.7L956.3 537.1L956.6 535.2L956.8 535.9L957.1 537.1L957.3 536.6L957.6 536.9L957.8 536.9L958.1 535.3L958.3 535.8L958.6 536.8L958.8 536.2L959.1 535.2L959.3 536.0L959.6 536.0"/>
<path stroke="#0000ff" d="M202.5 623.2L202.7 622.7L203.0 622.4L203.2 622.5L203.5 622.9L203.7 621.9L204.0 622.9L204.2 623.0L204.5 622.9L204.7 623.6L205.0 623.0L205.2 622.9L205.5 623.2L205.7 622.6L206.0 623.5L206.2 623.4L206.5 622.5L206.7 623.0L207.0 622.6L207.2 623.1L207.5 622.9L207.7 624.0L208.0 623.3L208.2 623.1L208.5 623.2L208.7 622.6L209.0 622.8L209.2 622.4L209.5 622.5L209.7 623.5L210.0 622.0L210.2 623.4L210.5 622.9L210.7 623.5L211.0 622.9L211.2 623.1L211.5 622.2L211.7 623.2L212.0 622.3L212.2 621.8L212.5 621.8L212.7 621.9L213.0 623.0L213.2 622.5L213.5 622.6L213.7 623.3L214.0 623.3L214.2 623.4L214.5 623.2L214.7 624.1L215.0 622.9L215.2 623.0L215.5 623.1L215.7 623.6L216.0 623.9L216.2 623.2L216.5 623.6L216.7 623.3L217.0 624.0L217.2 623.1L217.5 624.1L217.7 623.4L218.0 623.5L218.2 623.8L218.5 624.0L218.7 623.2L219.0 623.5L219.2 622.7L219.5 622.3L219.7 624.2L220.0 623.6L220.2 623.3L220.5 623.0L220.7 623.6L221.0 623.8L221.2 624.3L221.5 623.9L221.7 623.6L222.0 622.9L222.2 623.3L222.5 623.4L222.7 622.4L223.0 623.0L223.2 623.4L223.5 623.9L223.7 622.5L224.0 622.5L224.2 623.3L224.5 622.1L224.7 623.7L225.0 623.1L225.2 623.3L225.5 623.2L225.7 622.4L226.0 623.4L226.2 622.8L226.5 623.2L226.7 623.3L227.0 623.2L227.2 623.4L227.5 623.1L227.7 623.6L227.9 623.6L228.2 623.3L228.4 623.7L228.7 623.4L228.9 623.8L229.2 623.3L229.4 623.4L229.7 623.9L229.9 622.6L230.2 623.5L230.4 623.0L230.7 623.4L230.9 623.3L231.2 622.8L231.4 623.4L231.7 623.8L231.9 622.9L232.2 623.3L232.4 624.0L232.7 622.5L232.9 623.2L233.2 623.8L233.4 623.0L233.7 623.1L233.9 622.8L234.2 622.4L234.4 623.7L234.7 623.3L234.9 623.6L235.2 623.4L235.4 622.8L235.7 622.2L235.9 623.2L236.2 624.0L236.4 623.8L236.7 624.1L236.9 624.5L237.2 623.7L237.4 623.8L237.7 624.4L237.9 623.5L238.2 623.1L238.4 623.0L238.7 623.4L238.9 622.8L239.2 623.2L239.4 623.4L239.7 622.9L239.9 623.2L240.2 623.3L240.4 623.2L240.7 622.7L240.9 622.9L241.2 623.5L241.4 623.0L241.7 623.2L241.9 623.0L242.2 622.9L242.4 623.5L242.7 623.3L242.9 622.7L243.2 623.8L243.4 622.9L243.7 623.0L243.9 622.9L244.2 622.7L244.4 622.4L244.7 622.3L244.9 622.3L245.2 622.9L245.4 622.5L245.7 622.9L245.9 622.1L246.2 622.5L246.4 623.0L246.7 622.6L246.9 623.4L247.2 623.1L247.4 623.0L247.7 622.7L247.9 623.1L248.2 622.6L248.4 623.7L248.7 623.7L248.9 623.5L249.2 623.0L249.4 623.5L249.7 623.1L249.9 623.6L250.2 623.4L250.4 622.8L250.7 622.7L250.9 623.3L251.2 623.0L251.4 623.2L251.7 622.5L251.9 623.2L252.2 622.4L252.4 623.1L252.7 623.4L252.9 623.1L253.2 623.4L253.4 623.1L253.4 540.5L253.6 543.3L253.9 546.9L254.1 551.3L254.4 551.6L254.6 555.8L254.9 556.9L255.1 557.8L255.4 558.9L255.6 560.5L255.9 562.2L256.1 562.9L256.4 564.6L256.6 564.5L256.9 564.1L257.1 565.5L257.4 566.1L257.6 565.9L257.9 565.4L258.1 565.6L258.4 566.9L258.6 566.0L258.9 568.6L259.1 568.2L259.4 566.3L259.6 567.2L259.9 568.2L260.1 567.7L260.4 569.1L260.6 570.1L260.9 570.0L261.1 568.8L261.4 570.6L261.6 570.9L261.9 570.0L262.1 571.2L262.4 570.3L262.6 569.8L262.9 572.1L263.1 572.1L263.4 570.7L263.6 569.9L263.9 572.7L264.1 571.6L264.4 572.4L264.6 571.3L264.9 572.9L265.1 573.5L265.4 573.0L265.6 573.7L265.9 573.5L266.1 574.2L266.4 573.2L266.6 573.2L266.9 572.3L267.1 573.7L267.4 574.0L267.6 573.4L267.9 575.3L268.1 574.5L268.4 576.4L268.6 575.4L268.9 574.4L269.1 575.2L269.4 575.7L269.6 576.1L269.9 576.6L270.1 575.2L270.4 576.7L270.6 575.8L270.9 576.7L271.1 575.9L271.4 576.2L271.6 576.8L271.9 575.8L272.1 576.4L272.4 576.8L272.6 575.2L272.9 576.5L273.1 576.6L273.4 577.7L273.6 577.0L273.9 577.1L274.1 576.5L274.4 577.6L274.6 577.0L274.9 578.2L275.1 577.5L275.4 577.8L275.6 578.5L275.9 578.5L276.1 577.0L276.4 578.3L276.6 578.3L276.9 576.9L277.1 577.4L277.3 579.3L277.6 578.7L277.8 578.2L278.1 579.4L278.3 577.2L278.6 580.0L278.8 578.4L279.1 580.2L279.3 578.8L279.6 578.9L279.8 579.8L280.1 579.3L280.3 580.7L280.6 580.5L280.8 579.5L281.1 579.6L281.3 579.9L281.6 581.3L281.8 579.9L282.1 581.1L282.3 580.2L282.6 579.5L282.8 578.9L283.1 580.5L283.3 580.4L283.6 580.4L283.8 581.0L284.1 580.4L284.3 581.4L284.6 580.5L284.8 579.4L285.1 581.1L285.3 579.3L285.6 579.9L285.8 579.1L286.1 580.9L286.3 581.2L286.6 578.9L286.8 579.5L287.1 579.6L287.3 578.9L287.6 580.4L287.8 580.4L288.1 579.5L288.3 578.9L288.6 579.6L288.8 580.6L289.1 579.6L289.3 580.8L289.6 581.0L289.8 581.5L290.1 581.2L290.3 581.5L290.6 582.7L290.8 581.2L291.1 581.8L291.3 582.8L291.6 580.7L291.8 582.2L292.1 580.0L292.3 580.6L292.6 580.6L292.8 582.0L293.1 581.9L293.3 580.3L293.6 583.5L293.8 584.0L294.1 583.1L294.3 581.8L294.6 582.2L294.8 581.1L295.1 581.3L295.3 581.6L295.6 582.6L295.8 581.7L296.1 582.0L296.3 583.8L296.6 582.2L296.8 583.0L297.1 582.8L297.3 582.0L297.6 582.1L297.8 583.3L298.1 581.9L298.3 582.7L298.6 582.0L298.8 582.0L299.1 583.7L299.3 580.9L299.6 581.6L299.8 581.8L300.1 582.6L300.3 581.9L300.6 582.4L300.8 582.8L300.8 623.2L301.0 623.4L301.3 623.8L301.5 623.0L301.8 623.2L302.0 623.8L302.3 623.0L302.5 623.5L302.8 622.7L303.0 623.4L303.3 623.1L303.5 623.2L303.8 623.1L304.0 624.0L304.3 622.3L304.5 622.5L304.8 623.3L305.0 623.4L305.3 623.0L305.5 623.4L305.8 623.2L306.0 623.2L306.3 623.5L306.5 622.8L306.8 623.3L307.0 623.5L307.3 622.9L307.5 623.8L307.8 623.3L308.0 623.0L308.3 623.3L308.5 624.0L308.8 624.3L309.0 623.5L309.3 623.6L309.5 623.3L309.8 623.1L310.0 622.2L310.3 622.5L310.5 621.9L310.8 622.6L311.0 623.0L311.3 621.9L311.5 622.8L311.8 623.0L312.0 623.6L312.3 623.1L312.5 623.4L312.8 622.9L313.0 623.7L313.3 624.2L313.5 623.6L313.8 624.0L314.0 623.6L314.3 622.8L314.5 622.9L314.8 622.9L315.0 623.1L315.3 622.3L315.5 622.9L315.8 622.4L316.0 623.2L316.3 622.9L316.5 622.3L316.8 622.8L317.0 623.2L317.3 623.0L317.5 622.9L317.8 623.9L318.0 622.5L318.3 622.9L318.5 622.9L318.8 623.2L319.0 623.0L319.3 623.2L319.5 623.1L319.8 622.8L320.0 624.0L320.3 624.0L320.5 623.3L320.8 623.3L321.0 622.5L321.3 623.0L321.5 623.3L321.8 623.2L322.0 622.6L322.3 623.4L322.5 623.4L322.8 622.5L323.0 622.3L323.3 623.0L323.5 623.4L323.8 622.8L324.0 623.2L324.3 623.7L324.5 623.2L324.8 622.8L325.0 623.5L325.3 623.0L325.5 623.8L325.8 623.2L326.0 622.5L326.3 623.0L326.5 623.8L326.8 624.2L327.0 623.3L327.3 622.7L327.5 623.6L327.8 622.3L328.0 623.4L328.3 622.2L328.5 622.2L328.8 622.6L329.0 623.5L329.3 623.4L329.5 623.3L329.8 623.4L330.0 623.0L330.3 623.9L330.5 623.4L330.8 623.5L331.0 622.9L331.3 623.2L331.5 622.7L331.8 623.3L332.0 622.3L332.3 623.4L332.5 623.3L332.8 623.2L333.0 623.2L333.3 623.5L333.5 622.8L333.8 622.8L334.0 622.7L334.3 622.8L334.5 622.7L334.8 622.6L335.0 623.4L335.3 622.8L335.5 622.8L335.8 623.5L336.0 622.4L336.3 622.9L336.5 623.3L336.8 623.5L337.0 622.9L337.3 622.8L337.5 622.5L337.8 622.9L338.0 623.7L338.3 623.2L338.5 623.3L338.8 623.0L339.0 622.7L339.3 623.5L339.5 623.6L339.8 623.3L340.0 623.9L340.3 623.1L340.5 623.2L340.8 623.0L341.0 623.0L341.3 623.3L341.5 622.3L341.8 623.0L342.0 622.0L342.3 622.0L342.5 622.7L342.8 623.0L343.0 622.8L343.3 622.3L343.5 623.7L343.8 623.7L344.0 622.8L344.3 623.7L344.5 622.8L344.8 622.9L345.0 622.5L345.3 622.2L345.5 622.2L345.8 622.5L346.0 623.0L346.3 622.8L346.5 623.3L346.8 623.4L347.0 623.8L347.0 563.0L347.2 564.4L347.5 566.3L347.8 568.7L348.0 570.0L348.2 571.0L348.5 571.1L348.8 571.5L349.0 574.6L349.2 574.0L349.5 574.9L349.8 574.6L350.0 575.4L350.2 576.0L350.5 576.8L350.8 576.2L351.0 577.2L351.2 577.5L351.5 575.6L351.8 577.1L352.0 577.5L352.2 576.8L352.5 577.3L352.8 578.8L353.0 578.3L353.2 578.2L353.5 577.9L353.8 578.5L354.0 580.2L354.2 578.6L354.5 577.8L354.8 577.3L355.0 579.4L355.2 579.0L355.5 578.1L355.8 580.0L356.0 579.8L356.2 578.3L356.5 578.1L356.8 579.0L357.0 578.4L357.2 578.9L357.5 579.3L357.8 578.2L358.0 579.2L358.2 578.1L358.5 579.6L358.8 580.1L359.0 577.9L359.2 578.6L359.5 580.1L359.8 578.4L360.0 579.5L360.2 580.0L360.5 579.8L360.8 580.5L361.0 580.0L361.2 581.0L361.5 579.9L361.8 579.9L362.0 579.8L362.2 579.0L362.5 580.4L362.8 580.5L363.0 580.3L363.2 579.9L363.5 580.3L363.8 581.6L364.0 581.0L364.2 582.2L364.5 581.7L364.8 580.9L365.0 583.1L365.2 580.5L365.5 580.1L365.8 581.0L366.0 581.7L366.2 582.1L366.5 581.7L366.8 580.8L367.0 582.5L367.2 581.6L367.5 581.5L367.8 580.8L368.0 582.6L368.2 582.3L368.5 580.5L368.8 582.4L369.0 581.9L369.2 581.8L369.5 583.2L369.8 581.9L370.0 582.7L370.2 583.9L370.5 583.2L370.8 582.1L371.0 582.6L371.2 583.2L371.5 582.2L371.8 582.8L372.0 583.5L372.2 582.4L372.5 581.8L372.8 583.1L373.0 584.1L373.2 582.6L373.5 583.1L373.8 583.3L374.0 583.0L374.2 581.7L374.5 583.1L374.8 583.0L375.0 582.2L375.2 583.4L375.5 582.4L375.8 582.4L376.0 582.7L376.2 584.3L376.5 584.2L376.8 583.8L377.0 584.9L377.2 582.8L377.5 584.1L377.8 582.9L378.0 581.5L378.2 583.8L378.5 583.3L378.8 581.8L379.0 582.8L379.2 583.7L379.5 583.0L379.8 583.8L380.0 582.0L380.2 585.0L380.5 583.1L380.8 582.7L381.0 582.7L381.2 582.5L381.5 582.1L381.8 582.5L382.0 583.7L382.2 584.3L382.5 582.5L382.8 583.6L383.0 583.4L383.2 585.4L383.5 584.1L383.8 584.3L384.0 584.1L384.2 584.4L384.5 584.1L384.8 584.1L385.0 586.0L385.2 585.8L385.5 585.4L385.8 583.6L386.0 584.5L386.2 584.9L386.5 584.5L386.8 582.8L387.0 584.0L387.2 583.1L387.5 583.4L387.8 585.0L388.0 582.6L388.2 585.5L388.5 583.7L388.8 584.1L389.0 584.1L389.2 583.9L389.5 584.2L389.8 583.5L390.0 584.1L390.2 583.0L390.5 583.9L390.8 584.2L391.0 584.5L391.2 585.6L391.5 584.5L391.8 584.3L392.0 586.5L392.2 585.7L392.5 585.1L392.8 584.3L393.0 585.7L393.2 584.6L393.5 584.3L393.8 584.5L394.0 585.8L394.2 585.5L394.5 585.0L394.8 583.6L395.0 585.7L395.2 585.3L395.5 585.9L395.5 623.2L395.8 623.4L396.0 622.9L396.3 623.2L396.5 623.0L396.8 623.4L397.0 623.2L397.3 623.4L397.5 622.8L397.8 622.3L398.0 622.7L398.3 622.2L398.5 622.0L398.8 622.1L399.0 623.3L399.3 622.7L399.5 622.4L399.8 622.8L400.0 622.8L400.3 622.8L400.5 623.0L400.8 622.8L401.0 623.2L401.3 622.8L401.5 623.9L401.8 622.6L402.0 622.3L402.3 622.8L402.5 623.3L402.8 623.2L403.0 623.4L403.3 623.4L403.5 623.8L403.8 623.0L404.0 623.7L404.3 623.3L404.5 623.1L404.8 624.0L405.0 624.2L405.3 623.1L405.5 624.0L405.8 624.0L406.0 623.2L406.3 623.6L406.5 623.8L406.8 623.6L407.0 623.8L407.3 623.8L407.5 622.8L407.8 622.4L408.0 622.9L408.3 623.3L408.5 623.2L408.8 623.5L409.0 623.9L409.3 623.7L409.5 622.9L409.8 623.7L410.0 622.9L410.3 624.0L410.5 623.7L410.8 623.6L411.0 623.5L411.3 623.4L411.5 622.9L411.8 622.3L412.0 623.1L412.3 622.9L412.5 623.1L412.8 622.7L413.0 623.4L413.3 622.8L413.5 622.8L413.8 624.0L414.0 623.3L414.3 623.4L414.5 623.3L414.8 623.9L415.0 623.2L415.3 622.8L415.5 622.5L415.8 622.8L416.0 623.0L416.3 622.2L416.5 622.7L416.8 622.9L417.0 622.8L417.3 623.2L417.5 622.9L417.8 623.3L418.0 623.8L418.3 624.2L418.5 623.2L418.8 623.6L419.0 623.7L419.3 623.5L419.5 623.0L419.8 623.3L420.0 623.4L420.3 623.3L420.5 623.6L420.8 623.5L421.0 623.1L421.3 624.0L421.5 623.2L421.8 623.9L422.0 623.1L422.3 623.1L422.5 623.1L422.8 623.3L423.0 623.1L423.3 622.9L423.5 623.0L423.8 623.6L424.0 623.7L424.3 623.8L424.5 622.6L424.8 623.5L425.0 623.2L425.3 622.8L425.5 623.0L425.8 623.0L426.0 623.0L426.3 622.1L426.5 622.5L426.8 623.4L427.0 623.2L427.3 622.5L427.5 622.9L427.8 623.6L428.0 623.4L428.3 623.2L428.5 622.7L428.8 623.0L429.0 623.6L429.3 623.6L429.5 623.9L429.8 623.1L430.0 622.8L430.3 623.2L430.5 623.3L430.8 623.4L431.0 624.1L431.3 623.8L431.5 623.2L431.8 623.3L432.0 623.1L432.3 623.1L432.5 623.5L432.8 622.3L433.0 623.2L433.3 622.9L433.5 622.7L433.8 622.2L434.0 623.1L434.3 622.5L434.5 622.6L434.8 623.2L435.0 623.4L435.3 623.7L435.5 623.5L435.8 623.7L436.0 624.5L436.3 623.9L436.5 623.4L436.8 623.4L437.0 623.3L437.3 623.9L437.5 623.7L437.8 624.1L438.0 623.5L438.3 623.8L438.5 622.5L438.8 622.5L439.0 623.3L439.3 623.7L439.5 623.0L439.8 623.1L440.0 623.3L440.3 623.7L440.5 622.9L440.8 623.2L441.0 623.5L441.3 623.4L441.5 623.6L441.8 623.7L441.8 559.7L442.1 562.7L442.3 564.1L442.6 567.5L442.8 567.0L443.1 570.9L443.3 571.4L443.6 572.0L443.8 572.2L444.1 573.1L444.3 573.8L444.6 574.5L444.8 575.7L445.1 574.8L445.3 575.8L445.6 575.5L445.8 578.6L446.1 577.6L446.3 575.9L446.6 578.2L446.8 579.7L447.1 578.2L447.3 578.2L447.6 578.2L447.8 579.5L448.1 579.5L448.3 577.9L448.6 576.2L448.8 577.9L449.1 576.8L449.3 577.2L449.6 579.0L449.8 578.2L450.1 578.2L450.3 579.0L450.6 579.1L450.8 577.7L451.1 579.7L451.3 577.9L451.6 579.2L451.8 578.6L452.1 578.7L452.3 578.6L452.6 580.0L452.8 580.0L453.1 579.1L453.3 580.2L453.6 578.2L453.8 579.6L454.1 578.3L454.3 577.5L454.6 578.0L454.8 580.0L455.1 579.3L455.3 579.3L455.6 578.5L455.8 578.8L456.1 578.6L456.3 579.6L456.6 579.5L456.8 579.5L457.1 579.6L457.3 579.7L457.6 580.0L457.8 580.4L458.1 579.1L458.3 580.1L458.6 580.6L458.8 578.7L459.1 579.1L459.3 579.3L459.6 578.7L459.8 579.3L460.1 579.2L460.3 581.0L460.6 580.0L460.8 580.9L461.1 579.7L461.3 580.0L461.6 580.1L461.8 579.8L462.1 581.9L462.3 581.4L462.6 580.8L462.8 579.0L463.1 580.2L463.3 581.2L463.6 580.6L463.8 580.1L464.1 581.0L464.3 580.6L464.6 579.5L464.8 580.3L465.1 580.8L465.3 580.7L465.6 580.1L465.8 579.9L466.1 580.3L466.3 581.0L466.6 580.8L466.8 581.6L467.1 580.6L467.3 580.9L467.6 581.0L467.8 581.3L468.1 580.2L468.3 582.0L468.6 580.9L468.8 582.1L469.1 582.3L469.3 580.3L469.6 581.4L469.8 581.9L470.1 581.5L470.3 581.8L470.6 580.8L470.8 582.4L471.1 581.7L471.3 581.2L471.6 579.8L471.8 582.0L472.1 580.1L472.3 582.6L472.6 582.3L472.8 580.6L473.1 580.6L473.3 582.1L473.6 582.7L473.8 582.2L474.1 582.3L474.3 582.2L474.6 583.5L474.8 582.5L475.1 581.0L475.3 583.1L475.6 583.1L475.8 582.1L476.1 581.9L476.3 583.1L476.6 582.5L476.8 581.6L477.1 582.8L477.3 581.8L477.6 581.9L477.8 580.5L478.1 581.7L478.3 583.8L478.6 580.7L478.8 581.0L479.1 582.8L479.3 581.3L479.6 582.6L479.8 583.3L480.1 581.9L480.3 581.7L480.6 583.1L480.8 582.8L481.1 583.6L481.3 582.4L481.6 582.9L481.8 582.1L482.1 581.6L482.3 581.6L482.6 581.7L482.8 583.7L483.1 583.2L483.3 582.4L483.6 582.3L483.8 582.3L484.1 583.3L484.3 582.2L484.6 580.7L484.8 582.0L485.1 580.6L485.3 581.6L485.6 581.3L485.8 580.3L486.1 580.2L486.3 581.8L486.6 582.3L486.8 582.1L487.1 581.0L487.3 581.3L487.6 582.1L487.8 582.7L488.1 583.1L488.3 582.4L488.6 581.5L488.8 582.9L489.1 582.4L489.3 581.5L489.6 581.3L489.8 581.7L490.1 583.0L490.3 583.1L490.6 582.0L490.6 623.2L490.9 623.5L491.1 622.7L491.4 622.8L491.6 623.2L491.9 623.4L492.1 623.8L492.4 623.3L492.6 623.5L492.9 623.7L493.1 623.0L493.4 623.3L493.6 623.6L493.9 623.1L494.1 623.3L494.4 623.1L494.6 623.2L494.9 623.2L495.1 623.0L495.4 623.0L495.6 623.1L495.9 623.5L496.1 622.9L496.4 624.0L496.6 622.4L496.9 623.6L497.1 624.0L497.4 623.3L497.6 623.2L497.9 623.0L498.1 623.7L498.4 623.0L498.6 623.4L498.9 622.4L499.1 622.8L499.4 622.9L499.6 623.1L499.9 623.1L500.1 623.6L500.4 623.2L500.6 623.8L500.9 623.7L501.1 624.1L501.4 623.2L501.6 623.8L501.9 624.5L502.1 624.1L502.4 624.2L502.6 624.5L502.9 624.6L503.1 624.5L503.4 623.8L503.6 623.7L503.9 623.9L504.1 624.2L504.4 623.9L504.6 623.2L504.9 623.4L505.1 623.4L505.4 623.3L505.6 623.2L505.9 622.7L506.1 623.0L506.4 623.0L506.6 624.0L506.9 623.6L507.1 623.8L507.4 623.1L507.6 623.0L507.9 623.7L508.1 622.9L508.4 623.4L508.6 623.1L508.9 622.8L509.1 622.7L509.4 623.3L509.6 622.8L509.9 623.5L510.1 622.7L510.4 623.1L510.6 623.0L510.9 623.0L511.1 623.2L511.4 622.9L511.6 622.5L511.9 622.8L512.1 623.2L512.4 623.1L512.6 623.4L512.9 622.8L513.1 623.1L513.4 623.2L513.7 623.0L513.9 623.5L514.2 622.9L514.4 622.3L514.7 622.3L514.9 623.3L515.2 623.7L515.4 622.8L515.7 622.1L515.9 623.4L516.2 623.2L516.4 622.5L516.7 622.7L516.9 623.1L517.2 622.3L517.4 622.7L517.7 623.1L517.9 623.3L518.2 623.2L518.4 623.5L518.7 623.7L518.9 623.6L519.2 623.7L519.4 622.9L519.7 622.7L519.9 623.3L520.2 623.0L520.4 622.5L520.7 623.7L520.9 623.1L521.2 623.6L521.4 623.0L521.7 623.1L521.9 622.9L522.2 623.0L522.4 622.5L522.7 622.8L522.9 622.7L523.2 623.7L523.4 623.6L523.7 622.8L523.9 623.2L524.2 622.7L524.4 624.1L524.7 623.6L524.9 623.1L525.2 622.6L525.4 622.5L525.7 622.7L525.9 622.8L526.2 622.6L526.4 622.6L526.7 622.3L526.9 622.9L527.2 622.8L527.4 623.2L527.7 622.7L527.9 623.5L528.2 623.9L528.4 623.6L528.7 623.1L528.9 623.0L529.2 623.5L529.4 623.4L529.7 623.3L529.9 622.9L530.2 622.1L530.4 622.7L530.7 622.9L530.9 622.8L531.2 622.9L531.4 623.4L531.7 622.6L531.9 623.2L532.2 622.9L532.4 622.8L532.7 623.1L532.9 623.9L533.2 623.7L533.4 623.4L533.7 623.9L533.9 623.7L534.2 624.1L534.4 623.5L534.7 623.6L534.9 623.5L535.2 624.3L535.4 623.5L535.7 624.4L535.9 623.2L536.2 623.6L536.4 623.6L536.7 623.0L536.7 563.0L537.0 564.8L537.2 567.0L537.5 567.4L537.7 569.9L538.0 570.5L538.2 571.1L538.5 574.1L538.7 573.1L539.0 573.6L539.2 573.5L539.5 576.3L539.7 576.8L540.0 576.5L540.2 576.5L540.5 577.4L540.7 577.7L541.0 577.6L541.2 577.8L541.5 576.3L541.7 578.0L542.0 577.6L542.2 577.5L542.5 577.6L542.7 576.6L543.0 578.2L543.2 578.7L543.5 576.4L543.7 577.0L544.0 579.4L544.2 577.2L544.5 579.0L544.7 579.3L545.0 579.9L545.2 578.2L545.5 578.1L545.7 578.0L546.0 577.9L546.2 577.4L546.5 578.1L546.7 579.0L547.0 579.3L547.2 580.2L547.5 580.2L547.7 579.9L548.0 578.4L548.2 580.2L548.5 579.3L548.7 577.8L549.0 578.8L549.2 578.7L549.5 579.3L549.7 579.6L550.0 580.7L550.2 578.9L550.5 579.7L550.7 578.6L551.0 579.2L551.2 578.8L551.5 579.9L551.7 580.3L552.0 580.0L552.2 581.6L552.5 580.8L552.7 581.8L553.0 580.8L553.2 581.1L553.5 582.7L553.7 581.0L554.0 582.2L554.2 580.3L554.5 581.4L554.7 582.4L555.0 583.5L555.2 582.3L555.5 581.7L555.7 581.3L556.0 581.2L556.2 581.5L556.5 581.4L556.7 582.2L557.0 580.6L557.2 580.7L557.5 582.4L557.7 582.1L558.0 581.3L558.2 581.6L558.5 582.2L558.7 581.8L559.0 581.5L559.2 582.3L559.5 582.9L559.7 581.4L560.0 582.0L560.2 582.7L560.5 580.8L560.7 581.8L561.0 582.8L561.2 581.3L561.5 582.4L561.8 583.8L562.0 582.6L562.3 581.4L562.5 584.0L562.8 583.0L563.0 583.1L563.3 582.8L563.5 581.8L563.8 582.5L564.0 582.4L564.3 584.1L564.5 583.5L564.8 582.3L565.0 582.8L565.3 583.1L565.5 583.6L565.8 583.3L566.0 581.6L566.3 583.5L566.5 581.8L566.8 582.6L567.0 581.8L567.3 582.8L567.5 583.6L567.8 583.1L568.0 583.9L568.3 584.1L568.5 583.1L568.8 582.8L569.0 584.4L569.3 583.7L569.5 583.9L569.8 584.1L570.0 582.9L570.3 582.5L570.5 583.2L570.8 582.8L571.0 582.5L571.3 582.5L571.5 583.5L571.8 583.3L572.0 583.9L572.3 584.1L572.5 584.7L572.8 583.6L573.0 583.8L573.3 583.9L573.5 583.6L573.8 583.7L574.0 583.0L574.3 583.6L574.5 582.5L574.8 584.7L575.0 584.0L575.3 584.1L575.5 582.6L575.8 583.1L576.0 583.6L576.3 582.4L576.5 584.7L576.8 584.4L577.0 583.9L577.3 584.8L577.5 582.6L577.8 583.1L578.0 584.8L578.3 584.6L578.5 583.9L578.8 584.5L579.0 584.2L579.3 583.9L579.5 583.9L579.8 583.6L580.0 584.1L580.3 583.9L580.5 584.7L580.8 582.6L581.0 584.0L581.3 583.5L581.5 583.2L581.8 583.5L582.0 585.2L582.3 585.4L582.5 582.4L582.8 585.1L583.0 582.7L583.3 583.3L583.5 583.3L583.8 583.0L584.0 584.7L584.3 585.2L584.5 582.6L584.8 584.6L585.0 584.5L585.3 583.9L585.5 584.4L585.8 584.4L586.0 584.4L586.3 584.0L586.5 584.8L586.8 585.0L586.8 623.2L587.0 623.6L587.3 622.8L587.5 623.1L587.8 623.1L588.0 622.8L588.3 623.9L588.5 623.1L588.8 623.8L589.0 623.5L589.3 623.5L589.5 622.8L589.8 623.0L590.0 623.2L590.3 623.0L590.5 622.6L590.8 624.2L591.0 624.3L591.3 623.6L591.5 623.3L591.8 623.0L592.0 622.7L592.3 623.5L592.5 623.3L592.8 623.5L593.0 623.6L593.3 624.2L593.5 623.6L593.8 623.9L594.0 623.6L594.3 623.9L594.5 623.4L594.8 624.6L595.0 624.0L595.3 623.3L595.5 623.7L595.8 623.9L596.0 623.8L596.3 623.1L596.5 623.6L596.8 623.2L597.0 622.7L597.3 623.1L597.5 622.4L597.8 622.8L598.0 622.5L598.3 623.4L598.5 623.4L598.8 622.8L599.0 623.2L599.3 623.7L599.5 622.6L599.8 623.2L600.0 623.3L600.3 623.2L600.5 622.8L600.8 622.5L601.0 623.0L601.3 623.5L601.5 622.9L601.8 623.3L602.0 623.2L602.3 623.8L602.5 623.3L602.8 623.5L603.0 623.4L603.3 623.2L603.5 623.7L603.8 623.7L604.0 623.4L604.3 623.1L604.5 623.3L604.8 622.9L605.0 623.1L605.3 622.4L605.5 623.4L605.8 623.5L606.0 623.6L606.3 624.5L606.5 623.3L606.8 623.6L607.0 622.5L607.3 622.8L607.5 622.3L607.8 622.5L608.0 621.9L608.3 621.9L608.5 622.1L608.8 622.5L609.0 622.1L609.3 622.9L609.5 623.3L609.8 623.2L610.0 623.4L610.3 623.0L610.5 623.0L610.8 622.9L611.0 623.0L611.3 622.8L611.5 622.8L611.8 623.3L612.0 622.9L612.3 623.5L612.5 622.6L612.8 623.7L613.0 623.0L613.3 623.0L613.5 623.0L613.8 623.1L614.0 622.3L614.3 622.7L614.5 623.4L614.8 623.4L615.0 622.7L615.3 623.8L615.5 624.0L615.8 623.0L616.0 623.0L616.3 622.8L616.5 622.8L616.8 622.9L617.0 623.9L617.3 622.5L617.5 623.5L617.8 622.6L618.0 622.3L618.3 622.4L618.5 623.1L618.8 622.7L619.0 622.8L619.3 622.9L619.5 623.0L619.8 623.1L620.0 623.2L620.3 622.9L620.5 623.1L620.8 622.8L621.0 622.8L621.3 622.0L621.5 623.0L621.8 622.9L622.0 622.7L622.3 623.0L622.5 623.1L622.8 622.6L623.0 623.1L623.3 624.0L623.5 623.7L623.8 623.4L624.0 623.8L624.3 623.1L624.5 624.4L624.8 624.5L625.0 623.7L625.3 624.0L625.5 623.4L625.8 623.7L626.0 623.5L626.3 623.1L626.5 623.5L626.8 623.0L627.0 623.6L627.3 622.7L627.5 623.0L627.8 623.3L628.0 623.7L628.3 622.6L628.5 623.4L628.8 623.4L629.0 622.8L629.3 623.4L629.5 622.7L629.8 623.0L630.0 623.8L630.3 623.2L630.5 623.3L630.8 623.0L631.0 623.2L631.3 623.8L631.5 623.3L631.8 624.0L632.0 622.9L632.3 622.9L632.5 623.3L632.8 622.5L632.8 559.7L633.0 563.5L633.3 567.2L633.5 568.4L633.8 569.9L634.0 570.9L634.3 571.3L634.5 571.3L634.8 572.4L635.0 574.4L635.3 573.4L635.5 576.5L635.8 574.7L636.0 575.7L636.3 575.7L636.5 575.7L636.8 576.7L637.0 577.2L637.3 577.1L637.5 577.8L637.8 577.6L638.0 578.7L638.3 577.7L638.5 577.3L638.8 577.4L639.0 578.0L639.3 579.2L639.5 578.5L639.8 578.2L640.0 578.8L640.3 577.6L640.5 578.5L640.8 578.4L641.0 578.2L641.3 579.4L641.5 578.2L641.8 578.6L642.0 578.4L642.3 579.6L642.5 578.6L642.8 581.0L643.0 578.5L643.3 580.2L643.5 580.1L643.8 580.5L644.0 579.6L644.3 578.7L644.5 581.3L644.8 579.9L645.0 578.9L645.3 580.9L645.5 579.8L645.8 579.4L646.0 580.7L646.3 580.5L646.5 580.9L646.8 580.4L647.0 581.4L647.3 580.9L647.5 580.6L647.8 580.7L648.0 581.7L648.3 580.7L648.5 580.0L648.8 580.8L649.0 581.1L649.3 581.1L649.5 579.9L649.8 580.2L650.0 581.0L650.3 582.2L650.5 582.2L650.8 583.4L651.0 583.7L651.3 583.2L651.5 582.8L651.8 582.6L652.0 582.0L652.3 582.8L652.5 581.6L652.8 583.1L653.0 581.1L653.3 583.3L653.5 582.0L653.8 581.5L654.0 582.2L654.3 582.1L654.5 582.1L654.8 581.2L655.0 580.3L655.3 582.7L655.5 581.9L655.7 582.7L656.0 580.1L656.2 581.9L656.5 581.3L656.7 582.2L657.0 583.0L657.2 581.2L657.5 582.8L657.7 582.7L658.0 581.1L658.2 582.5L658.5 582.4L658.7 582.2L659.0 582.9L659.2 583.6L659.5 583.2L659.7 583.5L660.0 582.9L660.2 582.2L660.5 582.1L660.7 581.6L661.0 581.2L661.2 582.5L661.5 583.2L661.7 582.9L662.0 583.4L662.2 584.1L662.5 584.2L662.7 583.2L663.0 583.3L663.2 582.1L663.5 584.2L663.7 583.4L664.0 581.5L664.2 583.3L664.5 583.3L664.7 584.2L665.0 583.7L665.2 584.1L665.5 583.3L665.7 584.4L666.0 583.0L666.2 583.7L666.5 584.1L666.7 583.6L667.0 584.6L667.2 584.5L667.5 584.3L667.7 584.3L668.0 584.5L668.2 584.8L668.5 583.5L668.7 584.4L669.0 584.3L669.2 584.2L669.5 584.6L669.7 584.5L670.0 583.7L670.2 584.4L670.5 585.4L670.7 585.1L671.0 583.1L671.2 584.2L671.5 585.1L671.7 583.7L672.0 584.7L672.2 585.9L672.5 585.0L672.7 583.9L673.0 584.9L673.2 583.0L673.5 584.1L673.7 582.9L674.0 584.1L674.2 583.2L674.5 583.9L674.7 584.0L675.0 585.0L675.2 584.6L675.5 586.0L675.7 585.4L676.0 584.4L676.2 584.8L676.5 583.7L676.7 584.8L677.0 584.5L677.2 584.0L677.5 585.2L677.7 584.1L678.0 584.8L678.2 584.1L678.2 623.2L678.5 622.5L678.7 622.8L679.0 623.2L679.2 622.8L679.5 622.7L679.7 622.6L680.0 623.6L680.2 623.8L680.5 623.5L680.7 622.6L681.0 623.2L681.2 623.6L681.5 623.7L681.7 623.2L682.0 622.9L682.2 624.0L682.5 623.3L682.7 622.9L683.0 623.4L683.2 623.6L683.5 623.3L683.7 623.6L684.0 623.4L684.2 623.2L684.5 623.1L684.7 623.3L685.0 622.2L685.2 623.1L685.5 622.6L685.7 622.8L686.0 623.4L686.2 623.1L686.5 623.2L686.7 623.4L687.0 622.8L687.2 623.0L687.5 624.0L687.7 622.9L688.0 623.1L688.2 623.5L688.5 623.2L688.7 623.1L689.0 622.5L689.2 622.8L689.5 623.4L689.7 623.5L690.0 623.9L690.2 623.4L690.5 622.9L690.7 623.3L691.0 622.9L691.2 623.4L691.5 622.8L691.7 623.0L692.0 623.1L692.2 623.6L692.5 622.5L692.7 622.8L693.0 622.4L693.2 623.3L693.5 622.8L693.7 622.7L694.0 622.4L694.2 622.4L694.5 622.7L694.7 622.5L695.0 623.0L695.2 622.2L695.5 622.5L695.7 621.8L696.0 622.5L696.2 623.7L696.5 623.6L696.7 622.2L697.0 623.8L697.2 623.5L697.5 623.0L697.7 623.7L698.0 623.8L698.2 623.9L698.5 623.7L698.7 624.1L699.0 623.2L699.2 623.2L699.5 623.8L699.7 622.7L700.0 621.9L700.2 623.2L700.5 623.0L700.7 622.6L701.0 623.8L701.2 623.5L701.5 623.1L701.7 623.4L702.0 622.8L702.2 623.5L702.5 622.5L702.7 622.6L703.0 623.8L703.2 623.0L703.5 622.1L703.7 622.6L704.0 623.1L704.2 622.7L704.5 623.0L704.7 623.0L705.0 622.7L705.2 623.7L705.5 622.7L705.7 623.5L706.0 623.1L706.2 623.6L706.5 623.6L706.7 623.7L707.0 623.9L707.2 624.2L707.5 623.0L707.7 623.7L708.0 624.0L708.2 624.1L708.5 623.7L708.7 622.7L709.0 622.7L709.2 623.6L709.5 623.8L709.7 622.8L710.0 622.8L710.2 622.9L710.5 623.2L710.7 622.7L711.0 622.3L711.2 622.0L711.5 622.5L711.7 622.4L712.0 622.9L712.2 624.2L712.5 623.8L712.7 623.4L713.0 624.2L713.2 623.2L713.5 623.7L713.7 623.2L714.0 623.4L714.2 623.5L714.5 622.5L714.7 623.4L715.0 623.0L715.2 622.8L715.5 622.3L715.7 623.2L716.0 623.3L716.2 623.4L716.5 623.5L716.7 622.9L717.0 624.0L717.2 623.6L717.5 624.1L717.7 623.3L718.0 623.1L718.2 623.8L718.5 623.7L718.7 623.2L719.0 623.7L719.2 623.8L719.5 623.2L719.7 623.7L720.0 623.1L720.0 563.0L720.2 565.1L720.5 566.8L720.7 569.9L721.0 569.7L721.2 571.8L721.5 572.3L721.7 573.1L722.0 574.9L722.2 575.1L722.5 576.4L722.7 575.4L723.0 576.3L723.2 577.2L723.5 577.9L723.7 578.4L724.0 579.4L724.2 577.5L724.5 578.3L724.7 578.1L725.0 580.1L725.2 577.8L725.5 578.5L725.7 580.0L726.0 578.6L726.2 578.1L726.5 581.0L726.7 580.2L727.0 579.2L727.2 578.9L727.5 579.7L727.7 579.4L728.0 579.2L728.2 580.4L728.5 579.2L728.7 580.0L729.0 579.5L729.2 580.5L729.5 579.9L729.7 580.9L730.0 579.3L730.2 579.8L730.5 580.1L730.7 580.3L731.0 580.0L731.2 582.1L731.5 580.0L731.7 580.2L732.0 579.3L732.2 580.1L732.5 582.2L732.7 580.6L733.0 579.8L733.2 581.6L733.5 580.5L733.7 581.1L734.0 579.9L734.2 580.6L734.5 582.2L734.7 581.1L735.0 581.3L735.2 581.5L735.5 582.1L735.7 581.2L736.0 581.0L736.2 581.6L736.5 582.3L736.7 581.2L737.0 582.3L737.2 580.1L737.5 580.7L737.7 580.2L738.0 579.3L738.2 582.8L738.5 581.3L738.7 583.3L739.0 582.3L739.2 581.0L739.5 583.0L739.7 582.5L740.0 583.7L740.2 582.7L740.5 581.9L740.7 582.4L741.0 581.6L741.2 581.2L741.5 581.6L741.7 582.8L742.0 581.3L742.2 582.8L742.5 583.1L742.7 582.2L743.0 581.7L743.2 582.7L743.5 581.8L743.7 583.0L744.0 582.9L744.2 582.5L744.5 582.3L744.7 582.1L745.0 583.0L745.2 582.2L745.5 583.0L745.7 583.3L746.0 582.4L746.2 583.4L746.4 583.8L746.7 581.9L746.9 582.9L747.2 582.2L747.4 582.2L747.7 582.6L747.9 584.1L748.2 584.0L748.4 582.5L748.7 583.1L748.9 582.9L749.2 583.1L749.4 584.7L749.7 584.2L749.9 581.8L750.2 583.7L750.4 583.8L750.7 582.5L750.9 584.7L751.2 584.0L751.4 584.6L751.7 582.1L751.9 583.0L752.2 582.4L752.4 582.7L752.7 582.5L752.9 581.8L753.2 583.0L753.4 581.9L753.7 584.1L753.9 583.8L754.2 581.7L754.4 582.4L754.7 583.2L754.9 584.7L755.2 582.5L755.4 584.0L755.7 584.7L755.9 583.3L756.2 582.2L756.4 582.5L756.7 582.2L756.9 584.1L757.2 584.3L757.4 583.4L757.7 585.2L757.9 583.3L758.2 583.9L758.4 584.5L758.7 584.5L758.9 584.0L759.2 584.0L759.4 583.9L759.7 584.6L759.9 584.5L760.2 583.2L760.4 584.3L760.7 584.0L760.9 583.7L761.2 585.3L761.4 584.3L761.7 584.6L761.9 585.1L762.2 583.3L762.4 583.6L762.7 584.0L762.9 583.6L763.2 584.5L763.4 583.4L763.7 584.2L763.9 584.4L764.2 584.4L764.4 584.9L764.7 584.2L764.9 584.8L765.2 584.2L765.4 584.4L765.7 584.4L765.9 584.9L766.2 584.6L766.4 583.9L766.7 586.1L766.9 585.9L767.2 584.8L767.4 585.4L767.7 584.1L767.9 585.5L768.2 584.1L768.4 585.2L768.7 584.7L768.9 583.7L769.2 584.8L769.4 584.4L769.7 584.1L769.9 584.5L770.2 585.3L770.4 584.7L770.7 584.2L770.9 584.0L771.2 584.2L771.4 583.0L771.7 583.5L771.9 583.8L772.2 582.6L772.4 585.8L772.4 623.2L772.7 622.8L772.9 623.2L773.2 623.4L773.4 623.2L773.7 622.8L773.9 622.6L774.2 622.6L774.4 622.7L774.7 622.6L774.9 623.1L775.2 623.2L775.4 622.9L775.7 622.9L775.9 623.4L776.2 623.5L776.4 623.4L776.7 622.6L776.9 622.4L777.2 623.6L777.4 623.1L777.7 622.5L777.9 622.9L778.2 622.9L778.4 622.9L778.7 622.6L778.9 623.4L779.2 623.0L779.4 622.7L779.7 623.5L779.9 623.0L780.2 623.5L780.4 623.1L780.7 623.6L780.9 624.0L781.2 623.6L781.4 623.8L781.7 623.4L781.9 623.8L782.2 622.6L782.4 623.4L782.7 622.8L782.9 622.5L783.2 623.4L783.4 623.3L783.7 623.3L783.9 622.5L784.2 623.2L784.4 624.0L784.7 623.4L784.9 622.6L785.2 623.3L785.4 623.1L785.7 622.9L785.9 622.8L786.2 623.1L786.4 622.4L786.7 623.8L786.9 623.7L787.2 623.5L787.4 623.6L787.7 624.0L787.9 622.9L788.2 623.5L788.4 623.7L788.7 623.8L788.9 623.2L789.2 623.1L789.4 623.6L789.7 623.4L789.9 623.9L790.2 622.4L790.4 623.1L790.7 623.1L790.9 623.5L791.2 623.7L791.4 623.3L791.7 623.4L791.9 622.6L792.2 622.9L792.4 622.9L792.7 622.9L792.9 623.1L793.2 623.2L793.4 622.3L793.7 622.8L793.9 623.7L794.2 623.0L794.4 623.6L794.7 624.0L794.9 623.1L795.2 623.0L795.4 623.3L795.7 623.1L795.9 623.3L796.2 623.5L796.4 624.2L796.7 623.3L797.0 623.1L797.2 623.5L797.5 623.4L797.7 622.6L798.0 622.9L798.2 622.5L798.5 623.0L798.7 623.2L799.0 622.7L799.2 622.2L799.5 623.2L799.7 622.7L800.0 622.9L800.2 623.0L800.5 623.4L800.7 622.9L801.0 622.7L801.2 622.6L801.5 622.8L801.7 623.1L802.0 624.0L802.2 623.5L802.5 623.1L802.7 623.4L803.0 623.2L803.2 622.9L803.5 623.3L803.7 623.4L804.0 623.1L804.2 622.9L804.5 622.9L804.7 622.6L805.0 623.0L805.2 622.2L805.5 623.0L805.7 622.7L806.0 622.1L806.2 622.8L806.5 623.3L806.7 624.0L807.0 622.4L807.2 623.5L807.5 622.6L807.7 623.4L808.0 623.1L808.2 622.8L808.5 622.3L808.7 622.2L809.0 623.1L809.2 623.5L809.5 623.0L809.7 623.1L810.0 623.0L810.2 623.1L810.5 623.0L810.7 623.7L811.0 623.8L811.2 623.7L811.5 622.9L811.7 622.5L812.0 623.0L812.2 623.6L812.5 623.2L812.7 622.9L813.0 623.3L813.2 622.8L813.5 622.4L813.7 623.6L814.0 623.2L814.2 622.4L814.5 622.9L814.7 623.5L815.0 623.6L815.2 623.4L815.5 622.7L815.7 622.8L816.0 623.5L816.2 622.9L816.5 623.2L816.7 622.9L817.0 623.6L817.2 623.1L817.5 622.9L817.7 623.0L818.0 624.2L818.2 624.3L818.5 624.4L818.7 623.2L819.0 622.8L819.2 623.2L819.5 623.1L819.7 622.9L820.0 623.6L820.2 622.7L820.5 623.4L820.7 623.3L821.0 623.2L821.0 563.0L821.2 565.5L821.5 567.6L821.8 569.6L822.0 570.1L822.2 571.6L822.5 573.4L822.8 572.7L823.0 575.0L823.2 576.2L823.5 576.6L823.8 576.4L824.0 577.2L824.2 578.3L824.5 577.6L824.8 576.8L825.0 578.7L825.2 577.1L825.5 578.0L825.8 580.7L826.0 579.3L826.2 579.9L826.5 580.0L826.8 580.3L827.0 579.7L827.2 580.3L827.5 579.9L827.8 579.2L828.0 580.1L828.2 579.9L828.5 580.5L828.8 580.9L829.0 581.6L829.2 579.8L829.5 580.9L829.8 582.0L830.0 580.4L830.2 580.3L830.5 580.5L830.8 580.5L831.0 580.1L831.2 582.1L831.5 580.4L831.8 580.9L832.0 580.2L832.2 582.8L832.5 580.5L832.8 580.3L833.0 582.4L833.2 581.1L833.5 581.8L833.8 583.1L834.0 580.9L834.2 583.3L834.5 581.5L834.8 580.3L835.0 582.1L835.2 581.7L835.5 581.0L835.8 583.8L836.0 581.8L836.2 580.8L836.5 582.1L836.8 582.8L837.0 582.7L837.2 582.0L837.5 581.9L837.8 582.0L838.0 581.2L838.2 582.5L838.5 582.7L838.8 583.6L839.0 581.8L839.2 583.9L839.5 583.6L839.8 583.6L840.0 582.8L840.2 583.6L840.5 582.8L840.8 583.9L841.0 583.0L841.2 582.5L841.5 583.1L841.8 582.6L842.0 584.0L842.2 583.2L842.5 582.6L842.8 585.1L843.0 583.5L843.2 584.4L843.5 582.8L843.8 583.6L844.0 582.8L844.2 583.8L844.5 583.7L844.8 585.2L845.0 581.6L845.2 583.7L845.5 585.2L845.8 582.6L846.0 585.0L846.2 584.5L846.5 584.7L846.8 584.1L847.0 584.3L847.2 583.2L847.5 584.3L847.8 584.3L848.0 583.7L848.2 585.6L848.5 584.5L848.8 585.2L849.0 584.6L849.2 583.4L849.5 583.9L849.8 584.1L850.0 584.1L850.2 585.1L850.5 585.0L850.8 584.3L851.0 584.9L851.2 583.8L851.5 584.2L851.8 585.5L852.0 585.4L852.2 585.5L852.5 586.0L852.8 585.0L853.0 584.9L853.2 585.5L853.5 586.4L853.8 586.7L854.0 585.5L854.2 585.3L854.5 586.2L854.8 585.6L855.0 585.5L855.2 584.8L855.5 585.0L855.8 585.3L856.0 585.6L856.2 585.4L856.5 586.4L856.8 585.8L857.0 585.4L857.2 585.3L857.5 585.9L857.8 585.9L858.0 585.8L858.2 585.7L858.5 584.8L858.8 586.1L859.0 584.3L859.2 583.5L859.5 585.8L859.8 586.1L860.0 585.0L860.2 585.3L860.5 586.5L860.8 586.5L861.0 585.2L861.2 585.3L861.5 586.1L861.8 586.6L862.0 587.1L862.2 585.7L862.5 586.1L862.8 585.1L863.0 585.4L863.2 583.6L863.5 583.8L863.8 586.3L864.0 586.0L864.2 585.3L864.5 586.5L864.8 585.4L865.0 585.4L865.2 585.4L865.5 585.9L865.8 587.3L866.0 585.6L866.2 587.6L866.5 586.6L866.8 587.2L867.0 586.2L867.2 585.2L867.5 587.3L867.8 585.7L868.0 587.4L868.0 623.2L868.3 623.2L868.5 622.6L868.8 622.7L869.0 623.5L869.3 623.4L869.5 622.9L869.8 623.2L870.0 624.0L870.3 622.5L870.5 623.1L870.8 623.1L871.0 622.9L871.3 622.8L871.5 623.0L871.8 622.8L872.0 622.5L872.3 623.1L872.5 623.7L872.8 622.8L873.0 623.1L873.3 623.5L873.5 622.8L873.8 623.2L874.0 623.2L874.3 623.4L874.5 624.0L874.8 623.1L875.0 623.7L875.3 623.8L875.5 622.4L875.8 623.0L876.0 623.2L876.3 622.6L876.5 622.4L876.8 623.7L877.0 623.6L877.3 624.3L877.5 624.1L877.8 624.0L878.0 623.8L878.3 623.9L878.5 624.4L878.8 623.8L879.0 623.9L879.3 623.2L879.5 624.0L879.8 623.9L880.0 624.3L880.3 623.6L880.5 623.3L880.8 623.9L881.0 623.0L881.3 623.4L881.5 623.3L881.8 623.1L882.0 622.5L882.3 623.6L882.5 622.7L882.8 623.1L883.0 623.2L883.3 622.4L883.5 623.7L883.8 623.4L884.0 624.2L884.3 624.1L884.5 623.0L884.8 622.2L885.0 623.0L885.3 623.4L885.5 623.0L885.8 623.8L886.0 623.2L886.3 623.1L886.5 623.5L886.8 623.7L887.0 624.1L887.3 623.5L887.5 623.6L887.8 624.0L888.0 623.3L888.3 623.6L888.5 623.7L888.8 623.7L889.0 623.7L889.3 623.1L889.5 622.8L889.8 623.1L890.0 623.5L890.3 623.7L890.5 623.3L890.8 623.1L891.0 623.3L891.3 623.5L891.5 623.3L891.8 623.6L892.0 623.2L892.3 623.0L892.5 622.7L892.8 623.8L893.0 623.0L893.3 623.4L893.5 623.1L893.8 622.8L894.0 622.8L894.3 622.7L894.5 623.2L894.8 622.9L895.0 622.1L895.3 623.0L895.5 622.2L895.8 622.4L896.0 623.2L896.3 622.8L896.5 622.5L896.8 621.6L897.0 622.6L897.3 622.1L897.5 621.9L897.8 621.8L898.0 621.8L898.3 622.3L898.5 621.6L898.8 622.9L899.0 623.0L899.3 622.4L899.5 622.7L899.8 623.0L900.0 623.1L900.3 622.6L900.5 622.8L900.8 622.2L901.0 622.3L901.3 623.4L901.5 623.3L901.8 622.7L902.0 623.1L902.3 623.3L902.5 624.1L902.8 624.2L903.0 624.1L903.3 623.2L903.5 623.8L903.8 623.1L904.0 623.0L904.3 624.3L904.5 622.9L904.8 623.8L905.0 623.0L905.3 623.0L905.5 624.0L905.8 622.3L906.0 623.2L906.3 623.4L906.5 622.8L906.8 622.5L907.0 622.5L907.3 623.7L907.5 622.0L907.8 622.2L908.0 622.7L908.3 622.1L908.5 622.9L908.8 622.4L909.0 622.6L909.3 622.7L909.5 622.3L909.8 623.0L910.0 621.9L910.3 622.7L910.5 623.1L910.8 623.1L911.0 622.2L911.3 622.0L911.5 623.6L911.8 623.2L912.0 622.3L912.3 623.4L912.5 623.3L912.8 623.1L913.0 623.6L913.3 623.1L913.5 623.4L913.8 622.9L914.0 623.6L914.3 623.4L914.5 623.6L914.8 623.5L915.0 622.8L915.3 623.2L915.5 623.1L915.8 623.1L915.8 563.0L916.1 565.7L916.3 569.3L916.6 569.8L916.8 572.2L917.1 571.3L917.3 572.7L917.6 574.2L917.8 574.2L918.1 576.2L918.3 576.5L918.6 575.9L918.8 576.0L919.1 576.6L919.3 576.1L919.6 578.4L919.8 577.2L920.1 578.4L920.3 576.7L920.6 579.2L920.8 577.5L921.1 577.9L921.3 578.6L921.6 579.4L921.8 579.7L922.1 579.0L922.3 578.2L922.6 580.4L922.8 579.3L923.1 578.6L923.3 578.6L923.6 579.4L923.8 578.0L924.1 579.5L924.3 579.3L924.6 580.9L924.8 580.4L925.1 579.6L925.3 578.3L925.6 579.2L925.8 580.0L926.1 580.9L926.3 579.4L926.6 580.7L926.8 580.0L927.1 582.3L927.3 580.8L927.6 580.3L927.8 581.4L928.1 580.8L928.3 581.0L928.6 581.3L928.8 580.6L929.1 580.7L929.3 582.5L929.6 581.3L929.8 580.6L930.1 582.4L930.3 581.6L930.6 582.4L930.8 581.2L931.1 581.7L931.3 582.5L931.6 582.7L931.8 581.9L932.1 583.9L932.3 581.5L932.6 583.1L932.8 582.2L933.1 582.0L933.3 582.2L933.6 584.3L933.8 582.2L934.1 581.4L934.3 583.8L934.6 583.4L934.8 583.8L935.1 584.3L935.3 585.1L935.6 583.2L935.8 583.6L936.1 584.5L936.3 583.5L936.6 583.9L936.8 582.8L937.1 583.4L937.3 584.7L937.6 582.1L937.8 584.1L938.1 582.2L938.3 585.9L938.6 585.2L938.8 585.4L939.1 585.4L939.3 583.6L939.6 584.7L939.8 584.2L940.1 585.2L940.3 584.5L940.6 585.2L940.8 584.4L941.1 585.1L941.3 584.3L941.6 584.6L941.8 584.4L942.1 585.0L942.3 585.7L942.6 586.3L942.8 584.9L943.1 586.3L943.3 584.8L943.6 586.6L943.8 585.6L944.1 584.8L944.3 585.6L944.6 586.2L944.8 585.3L945.1 585.7L945.3 585.2L945.6 586.9L945.8 585.8L946.1 585.3L946.3 585.4L946.6 587.0L946.8 585.8L947.1 585.8L947.3 585.2L947.6 587.1L947.8 585.9L948.1 586.0L948.3 587.9L948.6 585.6L948.8 587.1L949.1 585.8L949.3 584.9L949.6 585.5L949.8 585.5L950.1 586.1L950.3 585.8L950.6 585.5L950.8 585.8L951.1 587.2L951.3 586.8L951.6 585.5L951.8 586.2L952.1 585.9L952.3 587.2L952.6 585.3L952.8 586.9L953.1 586.9L953.3 586.1L953.6 586.0L953.8 586.8L954.1 585.4L954.3 586.2L954.6 585.6L954.8 587.4L955.1 586.3L955.3 587.1L955.6 585.8L955.8 586.9L956.1 588.0L956.3 587.3L956.6 588.0L956.8 584.9L957.1 584.9L957.3 587.8L957.6 586.9L957.8 585.5L958.1 587.3L958.3 587.1L958.6 587.1L958.8 587.3L959.1 587.4L959.3 587.3L959.6 587.1"/>
</g>
<g fill="none" stroke="#000" stroke-width="3.3">
<path d="M189.2 632.4H968.8V4.7H188.9M192.5 3.05V634.05" stroke-linejoin="miter" stroke-width="3.3"/>
<path d="M163.6 623.9H192.5M177.0 599.5H192.5M177.0 575.0H192.5M177.0 550.6H192.5M177.0 526.2H192.5M163.6 501.8H192.5M177.0 477.3H192.5M177.0 452.9H192.5M177.0 428.5H192.5M177.0 404.0H192.5M163.6 379.6H192.5M177.0 355.2H192.5M177.0 330.7H192.5M177.0 306.3H192.5M177.0 281.9H192.5M163.6 257.4H192.5M177.0 233.0H192.5M177.0 208.6H192.5M177.0 184.2H192.5M177.0 159.7H192.5M163.6 135.3H192.5M177.0 110.9H192.5M177.0 86.4H192.5M177.0 62.0H192.5M177.0 37.6H192.5M163.6 13.1H192.5M200.8 632.4V661.0M224.5 632.4V647.3M248.3 632.4V647.3M272.0 632.4V647.3M295.7 632.4V647.3M319.4 632.4V647.3M343.2 632.4V647.3M366.9 632.4V647.3M390.6 632.4V661.0M414.4 632.4V647.3M438.1 632.4V647.3M461.8 632.4V647.3M485.5 632.4V647.3M509.3 632.4V647.3M533.0 632.4V647.3M556.7 632.4V647.3M580.4 632.4V661.0M604.2 632.4V647.3M627.9 632.4V647.3M651.6 632.4V647.3M675.4 632.4V647.3M699.1 632.4V647.3M722.8 632.4V647.3M746.5 632.4V647.3M770.3 632.4V661.0M794.0 632.4V647.3M817.7 632.4V647.3M841.5 632.4V647.3M865.2 632.4V647.3M888.9 632.4V647.3M912.6 632.4V647.3M936.4 632.4V647.3M960.1 632.4V661.0"/>
</g>
<g font-size="44" fill="#000">
<text transform="translate(154.6 642.2) scale(1.075 1)" text-anchor="end">0.0</text><text transform="translate(154.6 520.0) scale(1.075 1)" text-anchor="end">0.5</text><text transform="translate(154.6 397.9) scale(1.075 1)" text-anchor="end">1.0</text><text transform="translate(154.6 275.7) scale(1.075 1)" text-anchor="end">1.5</text><text transform="translate(154.6 153.6) scale(1.075 1)" text-anchor="end">2.0</text><text transform="translate(154.6 31.4) scale(1.075 1)" text-anchor="end">2.5</text>
<text transform="translate(200.3 718.4) scale(1.08 1)" text-anchor="middle">0</text><text transform="translate(392.6 718.4) scale(1.08 1)" text-anchor="middle">40</text><text transform="translate(582.4 718.4) scale(1.08 1)" text-anchor="middle">80</text><text transform="translate(772.3 718.4) scale(1.08 1)" text-anchor="middle">120</text><text transform="translate(962.1 718.4) scale(1.08 1)" text-anchor="middle">160</text>
<text transform="translate(582.5 763.6) scale(1.036 1)" text-anchor="middle">Time (s)</text>
<text transform="translate(52.2 602.9) rotate(-90) scale(1 1.065)" font-size="45.8">Photocurrent Density (mA/cm<tspan font-size="31" dx="-15.7" dy="-27.7">2</tspan><tspan dx="0.2" dy="27.7">)</tspan></text>
</g>
<g font-weight="bold">
<text transform="translate(400.3 76.3) scale(0.985 1)" font-size="49" fill="#7a00f0">ZT700</text>
<text transform="translate(400.3 130.5) scale(0.985 1)" font-size="49" fill="#0b650b">ZT600</text>
<text x="575.3" y="69.5" font-size="42.3" fill="#ff0000">TiO<tspan font-size="27.5" dx="-1.4" dy="10">2</tspan><tspan dx="-2.6" dy="-10"> HHS</tspan></text>
<text transform="translate(574.2 124.6) scale(1.013 1)" font-size="42.4" fill="#0000ff">ZnO NRs</text>
</g>
</g>
</svg>
</body></html>
